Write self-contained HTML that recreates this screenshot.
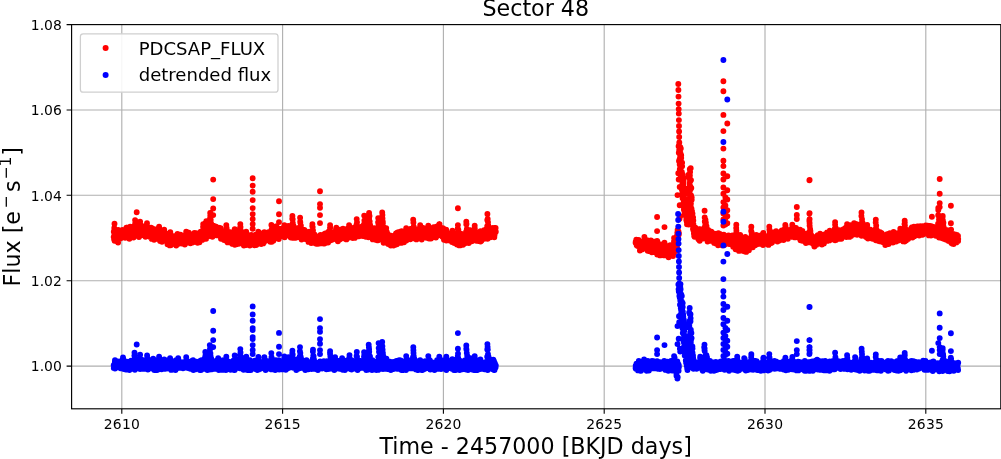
<!DOCTYPE html>
<html lang="en"><head><meta charset="utf-8"><title>Sector 48</title>
<style>html,body{margin:0;padding:0;background:#fff}body{width:1001px;height:459px;overflow:hidden}</style></head>
<body>
<svg width="1001" height="459" viewBox="0 0 1001 459" style="display:block;font-family:'DejaVu Sans','Liberation Sans',sans-serif">
<rect width="1001" height="459" fill="#fff"/>
<clipPath id="c"><rect x="71.6" y="24.6" width="929.1999999999999" height="384.2"/></clipPath>
<path d="M121.8 24.6V408.8M282.6 24.6V408.8M443.4 24.6V408.8M604.2 24.6V408.8M765.0 24.6V408.8M925.8 24.6V408.8M71.6 366.1H1000.8M71.6 280.7H1000.8M71.6 195.3H1000.8M71.6 110.0H1000.8" stroke="#b0b0b0" stroke-width="1.13" fill="none"/>
<g clip-path="url(#c)" fill="none" stroke-linecap="round" stroke-width="5.9">
<path stroke="#f00" d="M113.7 237.0h0M113.8 231.8h0M114.1 237.2h0M114.1 239.2h0M114.2 230.5h0M114.3 228.0h0M114.4 234.4h0M114.5 223.7h0M114.5 240.1h0M114.6 240.7h0M114.9 229.2h0M114.9 236.3h0M115.0 231.8h0M115.0 238.6h0M115.2 235.5h0M115.3 240.3h0M115.8 233.9h0M115.8 238.6h0M116.0 236.4h0M116.1 236.7h0M116.4 234.4h0M116.4 237.3h0M116.6 238.6h0M116.7 237.3h0M117.1 234.9h0M117.2 241.6h0M117.3 232.9h0M117.6 236.5h0M117.6 239.9h0M117.7 232.6h0M118.0 238.8h0M118.1 242.6h0M118.2 229.9h0M118.3 239.5h0M118.4 231.9h0M118.6 234.3h0M118.9 233.6h0M119.1 238.6h0M119.3 236.5h0M119.5 238.2h0M119.6 237.1h0M119.6 234.4h0M120.0 237.0h0M120.0 233.8h0M120.4 238.4h0M120.5 231.4h0M120.7 236.2h0M120.8 235.0h0M121.1 232.4h0M121.2 235.4h0M121.3 234.9h0M121.6 233.1h0M121.9 230.1h0M122.0 235.5h0M122.3 237.3h0M122.4 230.0h0M122.6 233.4h0M123.0 233.3h0M123.1 236.7h0M123.2 233.1h0M123.4 235.4h0M123.8 232.0h0M124.2 234.6h0M124.4 231.1h0M124.6 235.2h0M124.7 234.0h0M125.0 233.8h0M125.1 237.8h0M125.6 236.0h0M125.8 233.9h0M126.0 233.0h0M126.2 237.3h0M126.4 227.7h0M126.6 235.0h0M126.7 232.6h0M127.0 235.1h0M127.1 227.6h0M127.4 232.9h0M127.5 229.9h0M127.8 234.5h0M127.9 232.1h0M128.0 235.2h0M128.2 228.3h0M128.3 232.9h0M128.5 235.3h0M128.6 236.5h0M128.9 236.8h0M129.1 232.7h0M129.4 238.7h0M129.5 238.4h0M129.7 231.8h0M129.8 234.2h0M129.9 234.2h0M130.1 229.2h0M130.2 231.6h0M130.2 226.7h0M130.5 233.0h0M130.6 232.2h0M130.6 228.9h0M131.0 235.0h0M131.1 230.7h0M131.3 234.5h0M131.8 227.9h0M131.9 233.9h0M131.9 230.3h0M132.0 233.0h0M132.1 234.6h0M132.3 232.5h0M132.5 230.1h0M132.6 234.2h0M132.7 234.0h0M133.0 230.2h0M133.1 229.0h0M133.3 233.3h0M133.5 237.5h0M133.7 233.8h0M133.8 235.1h0M133.9 229.3h0M134.2 230.2h0M134.4 225.7h0M134.5 231.9h0M134.9 228.3h0M134.9 232.2h0M135.1 220.1h0M135.3 222.8h0M135.3 235.4h0M135.5 223.2h0M135.6 233.2h0M135.7 225.6h0M135.7 229.3h0M136.0 233.9h0M136.1 228.3h0M136.2 230.7h0M136.6 231.3h0M136.6 234.4h0M136.7 212.3h0M136.9 228.2h0M137.1 233.6h0M137.3 228.9h0M137.4 231.6h0M137.6 233.6h0M137.8 233.3h0M137.8 230.3h0M138.0 227.8h0M138.1 228.0h0M138.2 232.1h0M138.5 233.4h0M138.9 231.1h0M139.0 237.0h0M139.2 233.6h0M139.3 232.5h0M139.6 225.5h0M139.7 231.9h0M139.8 234.2h0M139.9 227.2h0M140.0 234.4h0M140.1 221.7h0M140.4 228.0h0M140.5 224.8h0M140.7 230.8h0M140.8 234.0h0M140.9 228.9h0M141.1 226.5h0M141.2 232.7h0M141.2 231.4h0M141.5 229.2h0M141.9 231.6h0M141.9 233.1h0M142.0 233.9h0M142.4 228.9h0M142.4 231.2h0M142.5 231.9h0M142.7 227.9h0M142.9 235.0h0M143.2 230.7h0M143.3 235.2h0M143.5 234.2h0M143.6 234.7h0M143.7 228.8h0M143.9 231.7h0M144.1 232.4h0M144.3 226.2h0M144.5 231.9h0M144.7 234.7h0M144.8 231.4h0M145.2 229.4h0M145.3 233.7h0M145.5 236.8h0M145.9 236.4h0M146.0 228.8h0M146.7 229.7h0M146.7 232.4h0M146.9 226.6h0M147.0 233.5h0M147.0 223.2h0M147.1 234.4h0M147.4 230.0h0M147.4 226.6h0M147.6 234.0h0M147.7 229.5h0M147.9 233.6h0M148.0 229.1h0M148.2 231.6h0M148.3 232.9h0M148.6 235.4h0M149.0 235.6h0M149.0 231.9h0M149.1 229.0h0M149.3 231.3h0M149.4 235.8h0M149.6 233.9h0M149.6 235.7h0M149.7 233.5h0M150.0 229.7h0M150.2 237.0h0M150.4 234.4h0M150.6 229.0h0M150.7 235.5h0M151.1 227.6h0M151.2 230.0h0M151.4 235.7h0M151.5 229.8h0M151.8 238.9h0M152.1 230.0h0M152.2 232.5h0M152.3 234.1h0M152.5 228.4h0M152.6 231.9h0M152.9 234.7h0M153.0 228.9h0M153.1 233.6h0M153.4 236.6h0M153.5 234.6h0M153.7 236.5h0M153.9 231.7h0M154.1 239.8h0M154.2 235.6h0M154.5 233.0h0M154.6 238.0h0M154.7 234.3h0M155.3 230.1h0M155.4 232.7h0M155.5 238.6h0M155.7 234.8h0M155.9 232.0h0M156.2 233.2h0M156.5 238.0h0M156.7 238.7h0M157.0 233.9h0M157.3 228.9h0M157.4 235.0h0M157.6 229.9h0M157.7 234.6h0M157.8 232.3h0M158.1 237.6h0M158.2 230.5h0M158.4 236.5h0M158.5 234.6h0M158.9 237.8h0M158.9 231.6h0M159.0 237.2h0M159.1 226.7h0M159.2 234.6h0M159.4 229.2h0M159.6 237.4h0M159.6 230.2h0M159.7 235.4h0M160.0 232.6h0M160.1 241.0h0M160.2 232.3h0M160.4 236.1h0M160.5 238.6h0M160.6 241.2h0M160.8 236.2h0M161.0 232.4h0M161.5 237.2h0M161.6 232.7h0M161.6 235.1h0M161.8 238.6h0M162.0 241.7h0M162.1 235.0h0M162.2 230.7h0M162.4 241.3h0M162.5 237.7h0M162.6 240.6h0M162.8 234.4h0M163.0 240.3h0M163.2 234.3h0M163.6 238.9h0M163.7 239.4h0M163.9 234.7h0M163.9 234.8h0M164.0 239.2h0M164.2 229.6h0M164.4 237.4h0M164.4 231.9h0M164.5 239.5h0M164.7 236.9h0M164.7 233.7h0M165.1 233.7h0M165.3 238.2h0M165.4 236.0h0M165.7 236.8h0M165.8 239.5h0M166.1 234.1h0M166.1 239.7h0M166.2 235.6h0M166.3 239.3h0M166.7 234.3h0M166.8 236.9h0M166.9 241.3h0M167.3 239.2h0M167.5 244.3h0M167.7 236.2h0M168.0 233.6h0M168.1 239.9h0M168.3 239.8h0M168.5 240.1h0M168.7 240.6h0M168.8 237.2h0M169.1 241.5h0M169.2 235.6h0M169.4 239.1h0M169.6 234.9h0M169.8 245.4h0M169.8 239.3h0M169.9 242.5h0M170.0 244.7h0M170.2 236.1h0M170.3 239.7h0M170.3 232.3h0M170.4 242.9h0M170.6 238.2h0M170.7 245.3h0M170.9 235.3h0M171.0 241.2h0M171.2 235.6h0M171.5 239.9h0M171.5 238.0h0M171.7 236.5h0M171.9 242.3h0M172.1 240.1h0M172.3 237.2h0M172.4 243.2h0M172.5 240.0h0M172.7 238.0h0M173.2 240.5h0M173.4 240.7h0M173.6 237.5h0M173.8 243.1h0M173.9 239.4h0M174.0 236.3h0M174.2 242.7h0M174.4 240.2h0M174.6 237.0h0M174.7 242.1h0M175.0 237.1h0M175.1 239.7h0M175.3 242.3h0M175.5 240.2h0M175.7 237.5h0M175.8 242.3h0M176.2 245.6h0M176.3 240.5h0M176.5 237.2h0M176.6 236.2h0M177.0 240.6h0M177.1 243.3h0M177.3 239.9h0M177.5 234.0h0M177.6 237.2h0M177.7 237.0h0M178.1 242.9h0M178.1 240.5h0M178.5 240.1h0M178.7 237.7h0M178.7 243.7h0M179.0 236.7h0M179.1 242.4h0M179.2 239.4h0M179.3 242.5h0M179.4 242.6h0M179.5 241.8h0M179.8 236.9h0M180.1 238.8h0M180.3 242.9h0M180.5 234.8h0M180.9 237.6h0M181.2 240.2h0M181.3 237.3h0M181.4 242.3h0M181.6 238.6h0M181.7 241.3h0M181.8 243.6h0M182.1 238.5h0M182.5 241.4h0M182.6 236.3h0M183.0 242.0h0M183.2 239.8h0M183.3 238.9h0M183.4 235.5h0M183.8 236.3h0M184.0 241.6h0M184.2 239.5h0M184.6 239.0h0M184.8 244.6h0M185.2 238.1h0M185.3 241.6h0M185.4 242.1h0M185.6 242.0h0M185.7 239.7h0M185.8 236.7h0M186.1 234.1h0M186.1 237.9h0M186.2 231.7h0M186.2 240.6h0M186.6 234.1h0M186.7 240.6h0M186.8 236.9h0M186.8 239.2h0M187.2 237.0h0M187.2 242.6h0M187.3 239.9h0M187.6 234.8h0M187.7 238.9h0M188.0 237.4h0M188.1 239.0h0M188.1 236.6h0M188.3 241.8h0M188.7 242.1h0M188.8 232.7h0M188.9 237.1h0M189.2 242.5h0M189.5 238.1h0M189.7 240.3h0M190.0 238.6h0M190.1 240.7h0M190.4 243.3h0M190.5 235.4h0M190.8 240.2h0M190.9 240.3h0M191.1 236.8h0M191.2 241.5h0M191.5 242.5h0M191.6 237.4h0M191.7 241.2h0M192.1 240.0h0M192.3 236.9h0M192.6 242.5h0M192.7 235.4h0M192.8 239.3h0M193.1 241.7h0M193.4 235.2h0M193.5 240.6h0M193.6 236.3h0M193.8 237.7h0M194.0 234.0h0M194.2 236.0h0M194.4 233.0h0M194.6 241.2h0M194.8 241.7h0M195.0 240.4h0M195.1 236.0h0M195.4 236.2h0M195.8 238.3h0M195.9 238.4h0M196.2 235.6h0M196.3 233.2h0M196.7 238.8h0M196.8 235.5h0M197.0 237.8h0M197.1 234.6h0M197.2 238.0h0M197.6 242.7h0M197.8 239.1h0M197.9 236.7h0M198.0 237.7h0M198.3 236.8h0M198.7 236.8h0M198.9 239.4h0M199.0 239.3h0M199.1 241.2h0M199.4 237.8h0M199.5 242.3h0M199.7 233.0h0M199.8 237.1h0M200.1 238.2h0M200.3 235.5h0M200.6 235.1h0M200.7 231.6h0M200.9 238.4h0M201.1 233.7h0M201.3 239.8h0M201.4 236.2h0M201.5 233.7h0M201.7 237.4h0M201.9 231.2h0M202.1 236.3h0M202.2 239.9h0M202.5 234.9h0M202.6 237.8h0M202.9 238.2h0M203.0 231.6h0M203.0 235.3h0M203.1 226.7h0M203.1 239.2h0M203.2 224.1h0M203.5 226.4h0M203.5 236.6h0M203.7 230.0h0M203.7 234.7h0M203.9 232.3h0M204.1 231.2h0M204.2 234.0h0M204.5 236.0h0M204.8 229.3h0M204.9 233.1h0M205.1 236.7h0M205.4 235.9h0M205.6 233.6h0M205.7 231.0h0M205.8 234.2h0M205.9 231.9h0M206.0 228.9h0M206.1 238.7h0M206.2 222.1h0M206.2 236.8h0M206.3 221.2h0M206.5 232.9h0M206.5 224.6h0M206.7 229.1h0M206.8 233.4h0M206.9 227.2h0M207.1 230.5h0M207.2 234.2h0M207.7 227.9h0M207.7 232.1h0M207.8 236.5h0M208.1 235.7h0M208.1 233.4h0M208.4 230.4h0M208.5 228.3h0M208.5 231.8h0M208.6 233.1h0M209.1 230.7h0M209.2 235.8h0M209.4 234.2h0M209.7 233.2h0M209.8 228.6h0M209.9 232.0h0M210.0 223.3h0M210.1 218.2h0M210.2 213.0h0M210.3 232.8h0M210.3 215.8h0M210.5 232.0h0M210.7 233.1h0M210.7 219.7h0M210.9 222.9h0M211.1 229.3h0M211.2 231.8h0M211.2 223.6h0M211.3 230.4h0M211.3 225.9h0M211.7 228.6h0M211.9 233.3h0M212.0 225.7h0M212.1 232.2h0M212.2 228.5h0M212.4 236.7h0M212.5 233.5h0M212.6 227.7h0M212.8 230.4h0M213.2 231.6h0M213.2 179.6h0M213.2 199.1h0M213.2 215.1h0M213.2 208.5h0M213.3 233.3h0M213.4 229.2h0M213.5 230.6h0M213.6 225.7h0M213.6 228.1h0M213.9 232.4h0M214.1 231.1h0M214.3 234.5h0M214.7 234.7h0M214.8 231.8h0M214.9 228.9h0M215.1 231.7h0M215.2 228.2h0M215.3 233.7h0M215.6 226.4h0M215.8 234.1h0M216.0 229.6h0M216.4 230.8h0M216.7 233.6h0M216.8 229.9h0M217.1 235.4h0M217.6 233.4h0M217.8 229.0h0M218.0 229.4h0M218.2 235.3h0M218.3 234.1h0M218.4 231.9h0M218.6 234.1h0M218.7 227.8h0M219.0 232.2h0M219.1 234.9h0M219.2 227.9h0M219.8 232.4h0M219.9 229.4h0M220.0 235.9h0M220.3 233.4h0M220.4 229.8h0M220.6 230.9h0M220.7 228.3h0M220.8 236.6h0M221.0 238.7h0M221.2 234.1h0M221.4 238.4h0M221.5 231.8h0M221.7 234.2h0M221.8 231.9h0M222.2 236.7h0M222.3 236.6h0M222.5 231.5h0M222.7 234.9h0M223.0 234.3h0M223.3 236.8h0M223.5 235.0h0M223.8 232.2h0M223.9 237.9h0M224.1 240.0h0M224.2 235.0h0M224.5 239.8h0M224.6 234.3h0M225.0 238.5h0M225.1 239.6h0M225.3 235.1h0M225.4 232.6h0M225.5 236.7h0M225.7 239.8h0M226.0 233.0h0M226.1 232.8h0M226.2 238.6h0M226.3 225.1h0M226.3 236.3h0M226.6 227.9h0M226.6 237.5h0M226.7 229.1h0M226.8 232.1h0M226.9 235.0h0M227.1 238.9h0M227.3 241.9h0M227.4 232.0h0M227.5 234.6h0M227.7 242.4h0M227.8 240.5h0M228.0 236.0h0M228.2 233.4h0M228.3 237.0h0M228.4 241.7h0M228.6 241.9h0M228.7 234.5h0M229.0 236.7h0M229.0 239.0h0M229.2 234.3h0M229.4 240.2h0M229.8 235.7h0M229.9 240.0h0M230.1 234.7h0M230.2 237.1h0M230.3 232.1h0M230.4 241.0h0M230.6 241.4h0M230.7 234.8h0M230.8 240.2h0M230.8 237.6h0M231.1 240.1h0M231.2 239.1h0M231.5 236.1h0M231.7 239.1h0M231.8 243.3h0M232.0 236.1h0M232.2 236.5h0M232.2 233.7h0M232.5 243.9h0M232.6 242.6h0M232.9 240.2h0M233.0 239.8h0M233.2 234.2h0M233.3 241.5h0M233.5 238.6h0M233.6 234.4h0M233.7 241.1h0M233.9 241.7h0M234.0 243.2h0M234.3 239.3h0M234.3 239.6h0M234.5 236.8h0M234.6 233.0h0M234.7 229.1h0M234.8 244.7h0M234.9 229.7h0M234.9 239.3h0M235.0 234.0h0M235.2 238.9h0M235.4 236.5h0M235.5 235.3h0M235.6 243.6h0M235.7 241.1h0M235.9 238.1h0M236.0 239.6h0M236.1 242.6h0M236.2 237.1h0M236.4 244.3h0M236.5 237.5h0M236.6 240.3h0M236.7 240.7h0M237.1 238.8h0M237.2 241.8h0M237.3 243.0h0M237.5 235.0h0M237.9 243.0h0M238.1 240.2h0M238.3 238.3h0M238.4 243.7h0M238.7 243.8h0M238.8 240.3h0M238.9 240.8h0M239.2 236.7h0M239.5 239.6h0M239.6 243.4h0M239.8 236.6h0M239.9 236.7h0M239.9 240.0h0M240.0 242.7h0M240.1 231.7h0M240.2 227.4h0M240.3 224.1h0M240.4 234.7h0M240.5 227.0h0M240.6 237.6h0M240.7 241.4h0M240.8 242.2h0M240.9 230.8h0M241.0 235.2h0M241.0 232.1h0M241.1 240.7h0M241.4 238.1h0M241.5 241.3h0M241.5 235.8h0M241.9 241.4h0M241.9 238.9h0M242.1 239.3h0M242.2 236.7h0M242.3 242.0h0M242.8 239.9h0M243.0 236.6h0M243.1 240.1h0M243.4 243.6h0M243.5 237.4h0M243.6 242.9h0M243.9 245.6h0M244.0 238.3h0M244.2 241.3h0M244.3 238.5h0M244.7 242.2h0M244.8 243.6h0M245.1 238.2h0M245.4 242.7h0M245.5 241.5h0M245.9 240.1h0M246.1 237.3h0M246.2 245.1h0M246.2 231.8h0M246.5 238.4h0M246.5 233.6h0M246.6 235.9h0M246.9 240.8h0M247.0 241.6h0M247.1 236.2h0M247.4 238.8h0M247.5 237.4h0M247.7 234.9h0M247.9 242.6h0M248.0 240.8h0M248.1 236.6h0M248.2 243.9h0M248.4 239.0h0M248.6 240.0h0M248.7 244.8h0M248.9 237.0h0M249.0 242.5h0M249.5 237.6h0M249.7 244.1h0M249.8 245.6h0M249.9 236.3h0M250.2 239.5h0M250.3 237.5h0M250.5 242.6h0M250.6 240.5h0M251.2 239.9h0M251.3 235.0h0M251.4 242.0h0M251.6 238.7h0M251.7 242.5h0M252.0 241.4h0M252.1 240.9h0M252.2 238.2h0M252.5 239.0h0M252.7 228.7h0M252.7 208.1h0M252.7 224.1h0M252.7 178.2h0M252.7 214.1h0M252.7 191.7h0M252.7 200.1h0M252.7 219.1h0M252.7 185.6h0M252.8 241.9h0M253.0 243.2h0M253.3 236.9h0M253.6 238.2h0M253.7 243.3h0M254.0 240.7h0M254.1 239.5h0M254.4 236.6h0M254.5 245.3h0M254.8 242.2h0M254.9 242.6h0M255.2 239.2h0M255.3 237.1h0M255.4 239.3h0M255.7 234.8h0M256.0 236.3h0M256.1 238.8h0M256.2 245.0h0M256.4 243.6h0M256.5 235.6h0M256.7 239.7h0M256.9 243.1h0M257.1 244.2h0M257.3 237.8h0M257.6 240.3h0M257.7 234.5h0M257.9 239.8h0M258.1 237.0h0M258.1 243.1h0M258.2 234.1h0M258.3 231.7h0M258.4 239.6h0M258.5 241.0h0M258.7 238.5h0M258.8 232.2h0M258.9 235.7h0M259.1 234.4h0M259.3 241.5h0M259.4 238.0h0M259.5 240.8h0M259.6 241.7h0M259.7 236.0h0M260.1 238.3h0M260.3 235.9h0M260.4 238.9h0M260.5 238.6h0M260.9 236.0h0M261.1 240.1h0M261.2 244.0h0M261.3 239.9h0M261.5 238.6h0M261.6 235.4h0M261.9 240.5h0M262.1 238.2h0M262.3 234.1h0M262.4 236.0h0M262.6 239.8h0M262.8 240.9h0M263.0 239.1h0M263.1 236.3h0M263.2 243.4h0M263.4 233.1h0M263.5 237.7h0M263.6 235.0h0M263.9 240.1h0M264.0 242.2h0M264.3 238.3h0M264.3 232.1h0M264.5 235.0h0M264.6 234.6h0M264.8 236.9h0M264.8 240.6h0M265.0 239.4h0M265.3 239.2h0M265.4 240.0h0M265.6 236.1h0M265.9 232.7h0M266.0 238.6h0M266.0 236.1h0M266.1 239.1h0M266.3 238.1h0M266.6 235.1h0M266.7 239.8h0M267.0 239.4h0M267.1 239.0h0M267.2 236.5h0M267.6 240.3h0M267.8 237.2h0M267.9 235.2h0M268.0 240.4h0M268.2 240.2h0M268.5 232.1h0M268.6 235.5h0M268.7 240.1h0M269.0 236.1h0M269.1 240.1h0M269.5 235.5h0M269.7 238.1h0M269.9 238.9h0M270.1 232.7h0M270.2 240.2h0M270.3 241.8h0M270.6 236.1h0M270.7 240.1h0M270.9 240.2h0M271.1 233.4h0M271.1 236.8h0M271.3 237.4h0M271.4 225.0h0M271.4 234.6h0M271.7 229.0h0M271.7 239.0h0M271.8 228.9h0M271.8 241.8h0M271.9 232.0h0M272.1 238.0h0M272.3 234.8h0M272.5 232.0h0M272.5 237.8h0M272.9 234.8h0M273.0 237.7h0M273.1 232.4h0M273.3 240.7h0M273.4 238.7h0M273.5 235.5h0M273.7 232.4h0M273.8 238.7h0M274.1 238.6h0M274.2 238.9h0M274.3 234.9h0M274.4 232.2h0M274.5 232.8h0M274.6 235.6h0M275.0 234.2h0M275.3 235.2h0M275.4 231.7h0M275.6 237.0h0M275.8 232.4h0M276.1 234.7h0M276.1 228.6h0M276.2 233.7h0M276.4 226.1h0M276.5 237.5h0M276.7 228.6h0M276.9 234.5h0M277.2 234.0h0M277.3 232.6h0M277.4 229.6h0M277.5 234.8h0M278.0 237.4h0M278.1 237.7h0M278.1 231.4h0M278.2 228.6h0M278.3 233.9h0M278.4 238.3h0M278.5 230.4h0M278.8 239.0h0M278.8 232.7h0M278.9 237.3h0M279.0 201.3h0M279.0 222.1h0M279.0 214.3h0M279.2 230.6h0M279.3 233.4h0M279.4 234.4h0M279.7 234.0h0M279.8 229.7h0M280.0 236.5h0M280.3 230.8h0M280.4 236.4h0M280.5 235.0h0M280.7 236.5h0M280.8 229.3h0M281.2 228.6h0M281.3 232.9h0M281.6 232.0h0M281.7 232.3h0M281.9 228.7h0M282.1 235.9h0M282.3 229.1h0M282.5 232.3h0M282.9 231.2h0M283.2 228.0h0M283.3 234.5h0M283.5 229.4h0M283.6 234.2h0M283.9 233.6h0M284.2 230.3h0M284.3 233.0h0M284.3 226.9h0M284.4 225.1h0M284.4 231.4h0M284.7 237.3h0M284.8 236.2h0M284.8 227.8h0M285.0 228.4h0M285.2 230.8h0M285.2 231.6h0M285.8 234.5h0M285.8 232.8h0M285.9 228.9h0M286.0 234.9h0M286.2 235.0h0M286.3 226.7h0M286.4 230.9h0M286.6 231.0h0M286.7 233.6h0M286.8 228.1h0M287.4 231.7h0M287.5 227.8h0M287.8 229.4h0M288.0 235.3h0M288.2 232.1h0M288.3 226.0h0M288.3 230.7h0M288.7 228.3h0M288.7 232.2h0M288.8 234.5h0M289.0 231.0h0M289.2 228.7h0M289.4 233.3h0M289.5 234.9h0M289.8 230.6h0M289.9 231.1h0M290.0 228.5h0M290.3 234.6h0M290.6 232.1h0M290.6 227.9h0M290.7 236.8h0M290.8 237.6h0M291.0 228.1h0M291.1 230.7h0M291.2 233.4h0M291.4 235.0h0M291.5 227.2h0M291.7 236.0h0M291.9 233.5h0M292.2 224.4h0M292.2 227.1h0M292.3 218.8h0M292.3 232.3h0M292.4 216.0h0M292.5 229.9h0M292.6 232.9h0M292.7 219.2h0M292.8 222.9h0M292.9 229.0h0M293.0 226.3h0M293.0 237.3h0M293.1 237.9h0M293.3 228.4h0M293.4 225.7h0M293.4 232.9h0M293.7 234.3h0M293.8 228.2h0M293.9 233.7h0M294.1 231.1h0M294.2 234.2h0M294.3 230.4h0M294.3 228.1h0M294.6 233.3h0M294.7 233.9h0M295.0 229.8h0M295.0 236.4h0M295.1 236.2h0M295.3 232.5h0M295.4 232.8h0M295.5 229.9h0M295.8 237.7h0M295.9 230.8h0M296.2 237.5h0M296.3 235.3h0M296.5 236.3h0M296.6 230.9h0M297.0 237.3h0M297.2 231.4h0M297.4 228.1h0M297.4 233.7h0M297.6 236.7h0M297.8 235.9h0M298.0 230.4h0M298.1 233.4h0M298.2 234.8h0M298.4 232.6h0M298.6 230.2h0M298.8 234.7h0M298.9 230.2h0M299.1 233.5h0M299.3 236.2h0M299.3 235.3h0M299.4 228.1h0M299.5 232.8h0M299.8 227.6h0M300.1 217.7h0M300.1 236.1h0M300.2 221.6h0M300.2 233.6h0M300.3 222.4h0M300.4 232.8h0M300.6 226.2h0M300.6 234.9h0M300.7 229.3h0M300.9 225.8h0M300.9 235.1h0M301.0 230.7h0M301.2 237.8h0M301.4 232.3h0M301.6 239.6h0M301.8 229.2h0M302.0 234.1h0M302.1 230.3h0M302.2 237.5h0M302.8 237.5h0M302.9 230.9h0M303.0 234.4h0M303.3 234.9h0M303.5 238.0h0M303.6 232.0h0M303.7 238.3h0M303.9 237.2h0M304.0 232.3h0M304.1 234.8h0M304.4 229.9h0M304.5 235.4h0M304.7 233.9h0M304.8 234.0h0M304.9 230.7h0M305.1 236.3h0M305.2 239.0h0M305.3 238.9h0M305.6 236.8h0M305.9 232.4h0M306.1 235.5h0M306.3 236.1h0M306.5 235.8h0M306.7 238.3h0M306.8 233.0h0M306.9 237.7h0M307.1 236.2h0M307.6 235.8h0M307.7 239.1h0M307.9 239.4h0M308.1 234.9h0M308.4 237.5h0M308.5 241.9h0M308.8 238.5h0M308.9 240.1h0M309.1 234.1h0M309.2 238.9h0M309.4 231.7h0M309.5 236.2h0M309.9 231.9h0M310.2 238.8h0M310.6 237.5h0M310.7 240.5h0M310.8 239.4h0M311.0 236.7h0M311.2 243.1h0M311.4 237.0h0M311.8 233.5h0M311.9 235.2h0M312.0 241.8h0M312.1 239.1h0M312.2 231.6h0M312.3 226.1h0M312.4 224.1h0M312.4 240.8h0M312.6 237.2h0M312.7 227.1h0M313.0 242.5h0M313.0 230.5h0M313.2 235.7h0M313.3 233.4h0M313.5 242.8h0M313.6 239.0h0M313.7 234.4h0M314.3 237.8h0M314.4 234.4h0M314.4 237.0h0M314.8 236.6h0M314.9 241.4h0M315.1 239.5h0M315.3 236.2h0M315.4 240.1h0M315.7 242.6h0M315.8 237.1h0M316.1 242.4h0M316.2 240.4h0M316.3 243.7h0M316.6 243.1h0M316.7 240.4h0M316.9 237.4h0M317.1 239.8h0M317.3 242.0h0M317.5 241.9h0M317.7 238.8h0M318.1 243.8h0M318.2 237.1h0M318.3 241.0h0M318.5 240.8h0M318.7 240.1h0M319.0 239.0h0M319.3 243.6h0M319.4 236.0h0M319.5 243.5h0M319.7 236.7h0M320.0 223.1h0M320.0 207.7h0M320.0 191.3h0M320.0 215.1h0M320.0 204.1h0M320.1 241.5h0M320.2 239.2h0M320.3 241.1h0M320.5 234.9h0M320.8 241.7h0M320.9 239.5h0M321.0 236.9h0M321.3 243.4h0M321.4 241.7h0M321.7 237.0h0M321.8 239.1h0M322.2 236.6h0M322.5 242.2h0M322.6 235.8h0M322.8 240.5h0M323.0 237.2h0M323.2 240.4h0M323.6 243.6h0M323.7 240.1h0M323.8 237.5h0M324.1 234.2h0M324.2 238.4h0M324.4 236.6h0M324.5 243.5h0M324.9 235.6h0M325.2 236.4h0M325.3 233.4h0M325.4 240.5h0M325.6 238.9h0M325.7 241.9h0M326.0 237.7h0M326.1 240.0h0M326.2 237.6h0M326.4 240.4h0M326.8 233.1h0M326.9 236.5h0M327.1 238.3h0M327.3 237.3h0M327.5 240.3h0M327.6 240.3h0M327.7 234.2h0M327.9 237.5h0M328.1 242.5h0M328.4 236.1h0M328.7 240.2h0M328.8 231.4h0M328.9 239.6h0M329.1 240.0h0M329.2 236.6h0M329.7 238.6h0M329.7 232.9h0M329.9 236.5h0M330.0 227.8h0M330.1 225.1h0M330.2 227.5h0M330.3 233.4h0M330.4 236.9h0M330.5 238.2h0M330.8 231.7h0M330.8 240.3h0M330.9 234.1h0M331.1 237.6h0M331.3 232.5h0M331.3 236.9h0M331.5 235.2h0M331.7 236.2h0M331.9 233.1h0M332.0 238.9h0M332.3 235.7h0M332.4 238.2h0M332.7 239.5h0M332.8 235.7h0M333.1 237.6h0M333.1 233.2h0M333.4 236.5h0M333.6 233.6h0M333.8 237.9h0M334.0 233.1h0M334.2 234.8h0M334.4 237.5h0M334.7 234.2h0M334.8 238.5h0M335.0 237.6h0M335.4 233.3h0M335.9 233.5h0M335.9 236.7h0M336.0 229.2h0M336.0 236.5h0M336.3 227.7h0M336.3 236.6h0M336.4 235.6h0M336.5 232.7h0M336.6 230.3h0M336.7 230.4h0M336.8 232.8h0M336.8 238.4h0M337.1 236.4h0M337.2 234.3h0M337.4 236.5h0M337.6 231.7h0M337.8 232.1h0M337.9 237.3h0M337.9 241.2h0M338.0 234.7h0M338.3 234.3h0M338.6 237.1h0M338.9 234.3h0M339.3 239.3h0M339.4 239.4h0M339.5 237.0h0M339.7 239.4h0M339.8 233.9h0M339.9 233.2h0M340.1 229.6h0M340.2 237.2h0M340.3 236.1h0M340.5 232.0h0M340.9 235.5h0M341.0 237.4h0M341.1 236.5h0M341.4 233.9h0M341.5 237.3h0M341.7 232.1h0M341.8 235.6h0M342.1 238.2h0M342.2 231.0h0M342.3 236.0h0M342.5 234.1h0M342.7 236.8h0M342.9 235.1h0M343.0 228.8h0M343.3 231.8h0M343.4 235.8h0M343.8 234.3h0M344.1 231.9h0M344.2 237.2h0M344.4 232.7h0M344.5 235.1h0M344.6 238.4h0M344.9 234.6h0M345.3 236.3h0M345.7 234.3h0M345.8 232.6h0M346.0 229.3h0M346.4 239.4h0M346.5 232.5h0M346.6 230.6h0M347.0 234.7h0M347.3 234.7h0M347.4 231.9h0M347.8 233.4h0M348.0 229.7h0M348.1 234.2h0M348.4 237.7h0M348.5 232.5h0M348.7 235.4h0M348.8 230.6h0M349.1 225.1h0M349.2 228.0h0M349.2 233.2h0M349.3 227.6h0M349.3 234.9h0M349.7 232.1h0M349.8 227.8h0M350.0 234.0h0M350.1 235.7h0M350.3 231.6h0M350.4 230.1h0M350.8 233.0h0M350.8 235.3h0M351.1 234.7h0M351.2 231.2h0M351.3 234.6h0M351.5 235.7h0M351.6 235.5h0M351.7 232.7h0M351.9 229.9h0M352.1 229.5h0M352.3 233.6h0M352.7 232.1h0M352.8 238.1h0M353.3 233.8h0M353.5 228.3h0M353.6 230.7h0M353.7 232.7h0M353.9 237.4h0M354.0 230.3h0M354.3 231.4h0M354.4 227.4h0M354.7 237.9h0M354.8 233.9h0M354.9 230.1h0M355.2 233.3h0M355.3 229.5h0M355.5 232.4h0M355.8 231.9h0M356.2 232.8h0M356.3 230.1h0M356.4 235.6h0M356.5 229.0h0M356.6 224.5h0M356.7 233.0h0M356.7 219.1h0M356.8 236.6h0M357.0 235.4h0M357.0 222.2h0M357.4 229.6h0M357.4 226.3h0M357.5 232.7h0M357.6 228.8h0M357.8 234.6h0M357.9 232.6h0M358.2 233.6h0M358.2 232.0h0M358.5 228.8h0M358.8 231.9h0M359.0 236.2h0M359.0 229.3h0M359.1 235.7h0M359.2 234.2h0M359.5 233.6h0M359.6 230.7h0M359.9 230.9h0M360.0 233.7h0M360.3 228.0h0M360.4 232.1h0M360.6 234.5h0M360.8 229.8h0M361.2 233.5h0M361.5 230.6h0M361.7 233.4h0M361.8 226.7h0M362.1 233.0h0M362.2 226.4h0M362.3 234.8h0M362.7 234.1h0M362.9 236.0h0M363.0 231.2h0M363.1 232.1h0M363.5 227.8h0M363.7 234.2h0M363.8 231.1h0M363.9 224.5h0M363.9 234.7h0M364.1 228.1h0M364.2 215.6h0M364.2 228.7h0M364.3 231.3h0M364.4 220.4h0M364.5 233.4h0M364.7 221.5h0M364.9 229.2h0M365.0 235.5h0M365.1 224.7h0M365.1 232.0h0M365.3 232.2h0M365.4 227.0h0M365.5 230.7h0M365.8 236.7h0M366.1 226.1h0M366.2 228.9h0M366.3 230.3h0M366.3 225.5h0M366.5 227.9h0M366.7 234.0h0M367.1 227.1h0M367.1 236.3h0M367.3 232.4h0M367.4 230.1h0M367.4 235.7h0M367.5 230.2h0M367.8 233.0h0M368.0 235.5h0M368.4 229.5h0M368.5 237.2h0M368.8 233.0h0M368.9 231.3h0M368.9 223.0h0M369.1 218.3h0M369.1 213.0h0M369.3 232.5h0M369.4 228.6h0M369.5 216.0h0M369.6 237.0h0M369.7 221.4h0M370.0 230.0h0M370.1 234.4h0M370.1 225.0h0M370.3 226.3h0M370.4 232.1h0M370.5 236.8h0M370.6 235.2h0M370.7 228.6h0M370.8 233.1h0M370.8 227.8h0M370.9 230.4h0M371.2 234.7h0M371.6 235.2h0M371.6 229.6h0M371.7 233.1h0M371.8 237.6h0M371.9 228.6h0M372.1 231.2h0M372.4 235.1h0M372.5 231.1h0M372.8 239.4h0M372.9 229.0h0M373.0 236.0h0M373.2 233.7h0M373.3 238.0h0M373.6 235.1h0M373.9 231.4h0M374.0 237.5h0M374.1 230.5h0M374.1 228.1h0M374.3 236.7h0M374.5 233.2h0M374.6 232.1h0M374.7 237.5h0M375.1 234.9h0M375.2 237.2h0M375.3 234.8h0M375.4 232.5h0M375.6 239.8h0M375.8 234.2h0M375.9 236.9h0M376.1 236.6h0M376.2 237.5h0M376.3 234.1h0M376.4 237.8h0M376.8 239.8h0M377.1 240.2h0M377.2 235.4h0M377.3 233.2h0M377.5 235.7h0M377.8 238.0h0M377.9 232.4h0M377.9 229.9h0M378.1 222.3h0M378.1 240.2h0M378.2 218.1h0M378.4 237.1h0M378.5 224.4h0M378.5 238.3h0M378.8 230.3h0M379.0 227.3h0M379.2 237.5h0M379.4 234.8h0M379.4 232.2h0M379.8 238.0h0M379.8 230.9h0M379.9 236.3h0M380.0 233.5h0M380.1 232.8h0M380.2 237.0h0M380.5 235.7h0M380.8 233.0h0M380.8 235.8h0M381.1 238.1h0M381.2 233.8h0M381.2 236.8h0M381.4 230.9h0M381.6 236.6h0M381.8 239.2h0M381.8 237.2h0M381.9 227.8h0M382.0 233.9h0M382.1 219.8h0M382.2 212.4h0M382.3 234.1h0M382.4 214.9h0M382.4 238.5h0M382.5 218.4h0M382.7 237.5h0M382.8 221.6h0M382.9 223.1h0M383.1 240.0h0M383.2 236.8h0M383.3 226.8h0M383.4 235.5h0M383.6 228.8h0M383.6 242.8h0M383.8 240.3h0M383.8 231.4h0M384.0 231.0h0M384.2 237.3h0M384.4 234.0h0M384.8 232.1h0M384.9 240.5h0M384.9 235.7h0M385.0 242.3h0M385.2 233.1h0M385.4 236.8h0M385.5 241.1h0M385.7 234.0h0M385.8 239.7h0M386.0 237.0h0M386.1 241.2h0M386.1 230.1h0M386.2 228.1h0M386.2 242.8h0M386.2 230.8h0M386.2 234.9h0M386.3 242.6h0M386.5 239.3h0M386.7 240.1h0M386.8 234.7h0M386.9 242.8h0M386.9 232.2h0M387.3 234.8h0M387.4 240.9h0M387.7 239.6h0M388.1 236.4h0M388.2 244.0h0M388.2 238.9h0M388.5 235.5h0M388.6 238.0h0M388.7 241.0h0M388.9 241.2h0M389.1 237.7h0M389.3 240.4h0M389.4 240.7h0M389.9 238.4h0M390.1 235.4h0M390.3 239.3h0M390.5 242.2h0M390.6 238.1h0M390.8 245.5h0M391.2 242.4h0M391.4 244.3h0M391.7 242.1h0M391.8 239.9h0M392.4 241.9h0M392.5 236.2h0M392.6 239.0h0M392.8 239.5h0M393.0 241.6h0M393.3 241.1h0M393.4 236.7h0M393.6 245.6h0M393.8 243.1h0M394.2 239.2h0M394.5 235.7h0M394.6 238.7h0M394.8 245.0h0M394.9 241.2h0M395.0 238.0h0M395.6 242.4h0M395.7 240.3h0M395.8 237.7h0M396.0 233.5h0M396.1 243.0h0M396.2 241.6h0M396.4 238.7h0M396.8 236.9h0M396.9 244.3h0M397.1 232.7h0M397.2 237.6h0M397.5 239.6h0M397.7 237.5h0M397.9 238.8h0M398.1 234.5h0M398.2 232.1h0M398.2 232.6h0M398.3 239.3h0M398.4 235.9h0M398.7 240.6h0M398.8 241.3h0M398.9 233.7h0M398.9 240.6h0M399.1 236.3h0M399.6 239.5h0M399.6 236.8h0M399.7 240.9h0M400.0 240.8h0M400.3 239.5h0M400.4 236.2h0M400.4 234.7h0M400.7 241.2h0M400.8 241.0h0M400.9 231.4h0M401.1 242.9h0M401.2 241.4h0M401.3 235.3h0M401.5 238.9h0M401.6 239.4h0M401.7 231.2h0M401.9 236.6h0M402.1 236.4h0M402.3 233.4h0M402.6 238.1h0M402.7 237.8h0M403.0 242.4h0M403.1 234.0h0M403.2 235.0h0M403.4 237.9h0M403.8 235.1h0M404.0 242.2h0M404.4 233.4h0M404.6 236.8h0M404.7 237.7h0M404.8 234.1h0M405.1 237.1h0M405.4 234.0h0M405.5 237.8h0M405.6 239.2h0M406.0 234.0h0M406.2 228.1h0M406.3 230.4h0M406.3 240.5h0M406.4 236.5h0M406.5 230.4h0M406.7 236.4h0M406.8 232.9h0M406.8 238.2h0M407.4 231.7h0M407.5 235.0h0M407.5 237.1h0M407.8 236.0h0M407.9 237.7h0M408.0 233.2h0M408.1 235.2h0M408.3 237.3h0M408.5 232.5h0M408.7 234.0h0M408.9 236.6h0M409.3 238.3h0M409.7 234.7h0M409.8 233.8h0M409.9 231.0h0M410.2 237.4h0M410.3 239.3h0M410.5 233.2h0M410.7 235.8h0M410.9 235.2h0M411.1 228.7h0M411.3 233.2h0M411.8 232.4h0M411.9 234.7h0M412.2 230.5h0M412.3 234.9h0M412.5 233.8h0M412.7 236.4h0M413.0 228.3h0M413.0 233.2h0M413.2 219.7h0M413.3 234.3h0M413.4 222.4h0M413.4 230.4h0M413.5 228.1h0M413.7 226.6h0M413.7 237.0h0M413.9 232.4h0M414.1 229.4h0M414.1 234.7h0M414.2 236.0h0M414.4 228.7h0M414.6 232.0h0M414.6 238.6h0M414.9 231.5h0M415.0 234.4h0M415.3 232.2h0M415.6 234.8h0M415.7 229.6h0M415.8 231.3h0M416.0 235.5h0M416.2 233.7h0M416.4 239.4h0M416.6 231.8h0M416.9 237.1h0M417.0 232.6h0M417.2 229.6h0M417.6 233.1h0M417.7 229.8h0M417.8 237.5h0M418.4 235.7h0M418.5 233.0h0M418.8 231.4h0M419.0 235.8h0M419.2 236.2h0M419.3 232.4h0M419.4 229.8h0M419.6 235.9h0M420.0 233.0h0M420.0 230.6h0M420.1 236.1h0M420.2 226.0h0M420.2 225.1h0M420.3 234.6h0M420.4 233.0h0M420.6 227.9h0M420.8 236.6h0M421.0 229.3h0M421.2 234.0h0M421.4 231.9h0M421.5 234.2h0M421.7 239.6h0M422.3 232.5h0M422.4 234.5h0M422.5 236.0h0M422.8 234.5h0M422.8 232.1h0M422.9 228.9h0M423.2 234.6h0M423.3 237.4h0M423.5 228.1h0M423.6 235.8h0M423.7 228.2h0M424.0 233.0h0M424.1 236.0h0M424.3 228.7h0M424.4 235.7h0M424.8 232.2h0M424.9 235.2h0M425.2 234.1h0M425.6 231.8h0M425.8 234.8h0M426.0 231.3h0M426.2 235.4h0M426.4 237.7h0M426.6 233.6h0M426.8 232.2h0M427.0 236.3h0M427.1 237.5h0M427.6 228.9h0M427.8 236.4h0M427.9 236.9h0M428.0 232.9h0M428.2 228.8h0M428.3 225.7h0M428.4 231.4h0M428.7 227.7h0M428.8 235.4h0M428.8 230.5h0M429.0 238.6h0M429.1 233.1h0M429.1 230.6h0M429.2 235.5h0M429.4 237.2h0M429.6 232.1h0M429.8 234.5h0M429.9 236.5h0M430.2 236.6h0M430.3 231.4h0M430.3 234.3h0M430.8 238.0h0M431.0 238.5h0M431.1 230.6h0M431.2 231.1h0M431.7 235.3h0M431.8 237.1h0M431.9 230.5h0M432.2 234.3h0M432.5 233.5h0M432.6 228.6h0M432.7 233.0h0M432.9 231.7h0M433.0 233.1h0M433.1 229.2h0M433.7 227.1h0M433.9 233.2h0M434.1 231.2h0M434.5 236.1h0M434.6 230.7h0M434.9 233.9h0M435.1 232.5h0M435.3 233.1h0M435.5 228.8h0M435.8 234.1h0M435.9 237.6h0M436.1 229.1h0M436.2 232.8h0M436.3 226.6h0M436.5 231.4h0M436.7 232.1h0M436.9 228.6h0M437.1 235.9h0M437.3 232.2h0M437.6 232.3h0M437.7 229.8h0M437.8 230.7h0M438.1 231.7h0M438.4 233.2h0M438.5 228.3h0M438.8 234.1h0M438.9 230.7h0M438.9 233.4h0M439.0 231.4h0M439.3 224.1h0M439.4 229.1h0M439.5 224.1h0M439.6 232.1h0M439.8 229.8h0M439.9 227.2h0M440.0 232.3h0M440.1 235.0h0M440.2 227.5h0M440.4 234.8h0M440.4 230.7h0M440.8 230.1h0M440.9 234.7h0M441.0 233.2h0M441.2 234.2h0M441.3 232.6h0M441.6 229.6h0M441.7 233.2h0M442.0 230.5h0M442.1 235.2h0M442.2 233.0h0M442.4 230.2h0M442.5 236.8h0M442.6 236.8h0M442.8 236.7h0M442.9 228.2h0M443.0 230.8h0M443.5 235.5h0M443.6 235.5h0M443.7 232.6h0M444.0 239.7h0M444.1 234.8h0M444.3 237.4h0M444.5 229.1h0M444.7 233.3h0M444.9 236.4h0M445.1 237.2h0M445.3 232.7h0M445.9 234.2h0M446.0 238.1h0M446.2 229.7h0M446.3 240.5h0M446.4 234.9h0M446.5 232.1h0M446.5 239.1h0M446.6 232.3h0M446.7 234.7h0M446.8 237.5h0M447.1 238.4h0M447.3 232.8h0M447.4 235.6h0M447.6 237.6h0M447.7 238.1h0M448.0 238.7h0M448.2 233.7h0M448.5 233.6h0M448.5 239.7h0M448.7 236.7h0M449.0 239.8h0M449.1 236.1h0M449.2 240.3h0M449.4 239.4h0M449.8 236.1h0M449.9 238.7h0M450.0 234.8h0M450.2 238.5h0M450.4 240.8h0M450.7 240.6h0M450.8 235.6h0M451.0 238.1h0M451.2 237.8h0M451.4 235.4h0M451.5 240.8h0M452.0 239.3h0M452.0 242.1h0M452.1 234.8h0M452.2 240.3h0M452.4 230.8h0M452.4 236.9h0M452.6 233.5h0M452.7 235.7h0M453.0 240.7h0M453.1 240.6h0M453.4 236.3h0M453.6 239.1h0M453.6 240.6h0M453.8 239.8h0M453.9 236.2h0M454.2 239.3h0M454.3 243.1h0M454.5 237.9h0M454.6 233.5h0M455.0 235.3h0M455.3 242.3h0M455.4 239.9h0M455.5 238.1h0M455.9 240.3h0M456.1 242.7h0M456.3 238.4h0M456.5 241.5h0M456.6 238.9h0M456.7 235.8h0M457.0 244.5h0M457.1 238.8h0M457.3 240.4h0M457.4 236.3h0M457.7 239.1h0M457.7 234.7h0M457.8 240.5h0M457.8 228.4h0M457.9 225.1h0M457.9 208.3h0M458.2 241.9h0M458.4 229.9h0M458.5 237.3h0M458.5 232.4h0M458.6 242.6h0M458.7 241.3h0M459.0 236.8h0M459.2 234.5h0M459.3 245.4h0M459.3 236.4h0M459.7 239.6h0M459.8 236.2h0M459.9 245.4h0M460.0 238.6h0M460.2 241.0h0M460.5 242.0h0M460.7 236.7h0M460.8 239.1h0M460.9 233.8h0M460.9 242.0h0M461.2 237.3h0M461.3 240.1h0M461.4 234.5h0M461.7 236.7h0M461.8 239.5h0M462.0 239.9h0M462.1 240.5h0M462.4 238.6h0M462.5 236.3h0M462.8 237.7h0M462.9 242.3h0M463.0 244.7h0M463.2 235.4h0M463.3 239.1h0M464.0 238.5h0M464.1 241.3h0M464.4 237.8h0M464.5 243.4h0M464.6 240.6h0M464.9 241.1h0M465.0 241.3h0M465.2 238.7h0M465.3 241.8h0M465.4 235.1h0M465.7 239.4h0M466.0 242.9h0M466.1 238.8h0M466.1 231.6h0M466.2 241.4h0M466.3 224.3h0M466.3 221.7h0M466.5 237.8h0M466.5 223.9h0M466.8 241.1h0M466.9 228.9h0M467.2 242.4h0M467.2 230.5h0M467.3 238.0h0M467.5 233.0h0M467.6 238.4h0M467.7 236.5h0M467.7 232.7h0M468.1 237.2h0M468.1 234.8h0M468.3 239.3h0M468.7 236.9h0M468.8 243.0h0M469.1 239.6h0M469.2 235.3h0M469.5 240.8h0M469.6 238.3h0M469.9 236.3h0M470.1 233.3h0M470.1 239.6h0M470.1 239.3h0M470.3 230.1h0M470.4 238.1h0M470.5 232.6h0M470.7 240.7h0M470.9 235.0h0M471.1 237.7h0M471.2 239.2h0M471.3 232.7h0M471.6 236.4h0M471.6 241.3h0M472.0 239.0h0M472.3 236.1h0M472.4 241.0h0M472.5 238.6h0M472.6 235.9h0M473.0 240.1h0M473.1 238.5h0M473.2 231.8h0M473.5 235.3h0M473.6 239.2h0M473.8 240.1h0M474.0 235.9h0M474.2 238.2h0M474.4 235.7h0M474.4 239.9h0M474.5 232.9h0M474.7 236.3h0M474.7 225.7h0M474.8 228.4h0M475.1 239.8h0M475.2 231.3h0M475.5 233.7h0M475.5 239.5h0M475.6 239.4h0M475.9 236.3h0M476.0 233.9h0M476.0 239.0h0M476.4 238.2h0M476.6 233.7h0M476.8 236.4h0M476.9 236.0h0M477.1 240.9h0M477.2 232.9h0M477.3 239.1h0M477.5 239.3h0M477.8 237.3h0M477.9 234.1h0M478.0 239.7h0M478.2 235.2h0M478.3 241.1h0M478.6 238.7h0M478.7 238.4h0M478.9 234.9h0M479.1 239.0h0M479.3 235.0h0M479.4 238.1h0M479.8 236.4h0M480.1 239.2h0M480.2 233.7h0M480.5 231.2h0M480.6 241.5h0M480.9 238.6h0M481.1 234.4h0M481.4 240.8h0M481.7 233.0h0M481.9 236.9h0M482.2 232.8h0M482.3 235.5h0M482.5 237.4h0M482.6 233.4h0M482.7 239.2h0M483.3 234.2h0M483.4 237.6h0M483.5 231.5h0M483.7 234.7h0M484.0 235.9h0M484.1 230.2h0M484.2 236.4h0M484.4 233.2h0M484.5 237.0h0M484.6 233.7h0M484.8 238.6h0M485.3 233.4h0M485.4 230.8h0M485.6 234.8h0M485.7 229.9h0M485.8 234.0h0M486.0 232.9h0M486.2 232.0h0M486.6 234.4h0M486.8 237.6h0M487.0 232.8h0M487.0 235.7h0M487.2 226.1h0M487.3 219.9h0M487.3 235.8h0M487.4 214.0h0M487.4 233.3h0M487.6 238.8h0M487.7 218.9h0M487.7 230.1h0M488.0 222.3h0M488.0 234.4h0M488.1 231.9h0M488.2 225.2h0M488.4 235.1h0M488.8 227.4h0M488.8 234.6h0M488.9 232.2h0M489.0 228.8h0M489.3 234.8h0M489.4 231.5h0M489.4 237.3h0M489.9 236.2h0M490.0 232.2h0M490.0 229.8h0M490.1 230.4h0M490.4 237.3h0M490.4 232.9h0M490.6 232.0h0M490.7 229.2h0M490.8 236.7h0M490.8 234.5h0M491.2 234.6h0M491.3 230.9h0M491.5 235.2h0M491.9 231.2h0M492.0 228.9h0M492.1 231.6h0M492.4 235.0h0M492.5 229.5h0M492.7 235.1h0M492.8 233.9h0M492.9 227.9h0M493.3 230.3h0M493.5 231.3h0M493.6 236.8h0M493.9 228.7h0M494.0 229.4h0M494.3 237.3h0M494.5 235.2h0M494.7 227.9h0M494.8 230.3h0M495.1 230.4h0M495.3 232.4h0M495.6 228.0h0M495.8 231.8h0M635.6 242.7h0M635.7 241.6h0M635.9 242.5h0M636.1 243.2h0M636.3 239.6h0M636.5 242.4h0M636.7 245.2h0M637.1 241.2h0M637.2 244.6h0M637.6 243.2h0M637.7 246.0h0M638.1 242.2h0M638.4 245.1h0M638.6 239.9h0M638.7 242.8h0M639.0 245.6h0M639.5 244.6h0M639.6 241.8h0M639.9 250.5h0M640.0 242.9h0M640.2 247.1h0M640.4 246.9h0M640.6 244.3h0M640.7 246.7h0M641.0 247.7h0M641.1 241.5h0M641.2 245.3h0M641.4 248.2h0M641.5 247.9h0M641.8 242.7h0M641.9 249.5h0M642.0 243.6h0M642.3 246.1h0M642.6 242.2h0M642.7 245.7h0M643.0 243.8h0M643.4 247.4h0M643.6 242.1h0M643.8 246.6h0M644.0 248.6h0M644.1 243.3h0M644.4 237.0h0M644.5 240.2h0M644.6 247.0h0M644.6 237.9h0M644.7 244.4h0M644.9 243.7h0M645.0 241.0h0M645.3 241.1h0M645.5 244.0h0M645.6 244.4h0M645.8 247.9h0M645.9 241.5h0M646.0 244.9h0M646.3 246.3h0M646.7 246.2h0M646.8 242.6h0M647.0 240.3h0M647.1 247.6h0M647.3 245.8h0M647.4 244.9h0M647.7 250.7h0M648.2 243.1h0M648.3 249.3h0M648.5 251.0h0M648.7 246.8h0M648.9 249.7h0M649.0 243.8h0M649.3 247.4h0M649.5 247.5h0M649.8 240.7h0M649.9 246.0h0M650.1 244.4h0M650.2 249.2h0M650.5 242.3h0M650.6 247.4h0M650.8 244.3h0M650.9 240.4h0M651.0 251.5h0M651.2 248.5h0M651.3 245.0h0M651.6 250.6h0M651.7 247.9h0M651.8 252.3h0M652.1 243.9h0M652.2 246.5h0M652.4 249.8h0M652.5 248.5h0M652.8 244.8h0M652.9 248.0h0M653.2 252.0h0M653.3 243.5h0M653.4 245.2h0M653.6 247.9h0M654.0 248.5h0M654.1 245.0h0M654.2 241.8h0M654.4 251.0h0M654.8 249.6h0M654.9 249.2h0M655.0 245.5h0M655.2 250.8h0M655.3 247.4h0M655.7 250.7h0M655.8 250.9h0M656.1 248.2h0M656.3 253.0h0M656.5 245.3h0M656.7 248.5h0M656.9 247.8h0M657.0 244.5h0M657.1 250.8h0M657.1 241.0h0M657.1 217.0h0M657.1 231.1h0M657.2 254.6h0M657.3 241.1h0M657.3 251.4h0M657.7 246.1h0M658.0 253.6h0M658.3 246.0h0M658.3 248.9h0M658.4 254.1h0M658.6 245.9h0M658.7 248.8h0M658.8 252.4h0M658.9 249.8h0M659.1 248.7h0M659.3 246.1h0M659.5 248.0h0M659.6 253.1h0M659.7 250.5h0M660.0 245.9h0M660.1 255.4h0M660.3 248.8h0M660.5 254.6h0M660.7 250.1h0M660.8 244.5h0M660.9 251.9h0M661.2 249.7h0M661.5 253.9h0M661.6 254.5h0M661.7 254.2h0M661.9 249.1h0M662.2 251.6h0M662.3 251.4h0M662.6 250.0h0M662.7 247.3h0M662.8 249.1h0M663.0 246.3h0M663.1 251.5h0M663.4 255.2h0M663.6 251.2h0M663.9 252.6h0M664.0 250.9h0M664.2 247.4h0M664.5 227.1h0M664.5 242.7h0M664.6 252.8h0M664.8 249.3h0M664.8 253.9h0M664.9 246.5h0M665.1 252.2h0M665.2 246.7h0M665.4 255.4h0M665.5 249.8h0M665.5 249.1h0M665.8 251.7h0M665.9 251.4h0M666.3 249.8h0M666.3 253.4h0M666.4 253.1h0M666.6 247.4h0M666.8 251.1h0M666.8 248.4h0M667.1 254.4h0M667.4 246.5h0M667.5 250.1h0M667.6 255.4h0M667.9 249.7h0M668.1 253.6h0M668.2 252.5h0M668.5 257.1h0M668.6 257.3h0M668.7 250.9h0M669.0 252.6h0M669.1 248.9h0M669.3 252.2h0M669.5 250.3h0M669.7 247.9h0M669.8 255.8h0M669.9 248.2h0M670.2 245.3h0M670.2 252.0h0M670.6 250.1h0M670.8 247.4h0M670.9 253.5h0M671.0 255.6h0M671.1 253.0h0M671.2 249.6h0M671.6 252.8h0M671.8 251.8h0M671.8 249.1h0M672.2 252.2h0M672.3 249.7h0M672.5 253.6h0M672.7 250.7h0M672.9 255.8h0M673.0 256.1h0M673.4 248.1h0M673.6 251.5h0M673.9 244.2h0M674.0 253.2h0M674.0 241.5h0M674.1 248.5h0M674.1 238.0h0M674.2 251.4h0M674.4 250.0h0M674.4 241.8h0M674.8 247.6h0M674.8 244.5h0M674.9 245.5h0M675.3 242.8h0M675.4 248.5h0M675.6 248.3h0M675.7 242.9h0M675.8 245.6h0M675.8 239.0h0M675.9 248.7h0M676.1 243.7h0M676.2 247.0h0M676.2 239.7h0M676.3 250.8h0M676.7 249.8h0M676.8 239.2h0M676.9 235.9h0M677.0 247.2h0M677.1 250.5h0M677.3 232.7h0M677.4 236.5h0M677.5 195.1h0M677.6 230.0h0M677.7 232.0h0M677.8 236.6h0M678.0 235.9h0M678.3 84.0h0M678.3 173.3h0M678.4 233.5h0M678.4 90.0h0M678.5 231.4h0M678.5 96.6h0M678.6 103.6h0M678.6 146.3h0M678.7 179.5h0M678.7 109.1h0M678.8 234.6h0M678.8 113.6h0M678.8 152.8h0M678.9 233.1h0M678.9 120.1h0M679.0 160.9h0M679.0 126.0h0M679.0 145.3h0M679.1 131.5h0M679.2 150.2h0M679.2 137.0h0M679.3 150.7h0M679.3 142.5h0M679.4 148.0h0M679.5 218.8h0M679.5 153.5h0M679.5 161.9h0M679.6 159.3h0M679.7 186.9h0M679.7 164.5h0M679.7 205.3h0M679.8 169.3h0M679.9 163.0h0M680.1 153.8h0M680.1 157.5h0M680.2 160.1h0M680.2 216.2h0M680.3 147.2h0M680.3 166.9h0M680.4 168.7h0M680.4 153.0h0M680.7 157.6h0M680.8 148.4h0M680.8 175.8h0M680.8 166.0h0M680.9 172.4h0M680.9 178.9h0M681.0 161.5h0M681.2 155.2h0M681.2 157.9h0M681.2 167.0h0M681.3 178.0h0M681.3 172.2h0M681.6 177.1h0M681.6 180.1h0M681.6 174.4h0M681.7 165.0h0M681.8 171.9h0M681.8 189.2h0M681.9 188.5h0M682.0 185.1h0M682.1 173.8h0M682.1 166.3h0M682.1 162.7h0M682.2 190.4h0M682.2 180.9h0M682.2 186.7h0M682.3 176.7h0M682.3 193.4h0M682.5 183.4h0M682.6 177.9h0M682.6 198.3h0M682.6 174.5h0M682.8 184.2h0M682.8 181.3h0M682.8 194.1h0M682.9 186.8h0M682.9 189.7h0M683.0 196.8h0M683.2 184.2h0M683.3 203.4h0M683.3 196.9h0M683.5 177.8h0M683.5 194.4h0M683.5 181.1h0M683.8 197.7h0M683.8 187.8h0M683.8 202.2h0M683.9 207.7h0M683.9 209.8h0M684.0 190.7h0M684.1 195.3h0M684.2 198.5h0M684.3 194.3h0M684.5 191.3h0M684.5 207.3h0M684.6 202.1h0M684.6 210.3h0M684.6 212.1h0M684.8 207.2h0M685.0 194.3h0M685.1 201.7h0M685.1 209.5h0M685.2 214.4h0M685.2 214.2h0M685.3 199.4h0M685.3 207.8h0M685.4 202.6h0M685.4 212.9h0M685.6 215.4h0M685.7 215.3h0M685.8 205.1h0M685.9 210.9h0M686.0 204.6h0M686.1 216.9h0M686.1 213.5h0M686.3 220.1h0M686.3 208.6h0M686.4 206.6h0M686.5 215.1h0M686.7 212.0h0M686.8 221.7h0M687.0 224.2h0M687.2 210.1h0M687.2 218.9h0M687.2 214.2h0M687.5 221.9h0M687.6 221.1h0M687.9 219.3h0M688.0 216.2h0M688.2 223.1h0M688.3 217.9h0M688.4 221.3h0M688.6 174.8h0M688.7 224.6h0M688.7 219.7h0M688.8 222.7h0M688.9 207.6h0M689.0 177.9h0M689.1 187.5h0M689.1 215.6h0M689.2 203.6h0M689.2 217.6h0M689.3 175.5h0M689.4 177.9h0M689.5 183.4h0M689.6 192.5h0M689.7 188.9h0M689.7 206.2h0M689.8 188.8h0M689.8 169.3h0M689.9 178.7h0M689.9 175.4h0M690.0 196.1h0M690.0 181.4h0M690.0 202.9h0M690.1 172.0h0M690.2 186.2h0M690.3 204.1h0M690.4 189.4h0M690.4 180.9h0M690.4 196.3h0M690.5 198.9h0M690.6 207.3h0M690.6 217.3h0M690.7 168.3h0M690.8 199.1h0M690.8 206.7h0M690.9 203.6h0M691.0 180.1h0M691.1 195.4h0M691.2 215.4h0M691.2 216.5h0M691.3 187.9h0M691.4 217.0h0M691.5 208.6h0M691.7 214.1h0M691.7 197.5h0M691.7 199.8h0M691.8 224.2h0M691.9 219.8h0M691.9 222.2h0M692.0 211.1h0M692.2 224.6h0M692.2 215.3h0M692.4 218.0h0M692.5 216.7h0M692.5 213.6h0M692.5 222.1h0M692.7 219.4h0M693.0 229.0h0M693.1 217.5h0M693.3 227.2h0M693.3 220.5h0M693.4 224.3h0M693.4 229.6h0M693.5 230.5h0M693.7 230.9h0M693.9 233.4h0M694.1 234.2h0M694.2 235.9h0M694.5 230.7h0M694.6 236.8h0M694.7 232.5h0M694.9 235.1h0M695.3 230.3h0M695.4 227.6h0M695.5 233.0h0M695.7 233.6h0M695.8 232.6h0M696.1 234.2h0M696.3 235.2h0M696.6 231.7h0M696.7 234.9h0M696.9 234.6h0M697.2 230.3h0M697.3 234.7h0M697.6 237.5h0M697.7 233.3h0M697.8 236.5h0M698.0 237.1h0M698.1 233.3h0M698.4 239.3h0M698.6 237.1h0M698.8 233.6h0M698.9 236.0h0M699.0 229.1h0M699.2 233.4h0M699.3 239.0h0M699.6 237.5h0M699.7 240.8h0M700.0 233.0h0M700.1 229.3h0M700.4 231.5h0M700.5 239.3h0M700.6 234.4h0M700.8 231.8h0M701.0 235.9h0M701.2 235.0h0M701.3 238.3h0M701.4 234.7h0M701.8 232.5h0M702.0 235.3h0M702.2 237.3h0M702.5 229.2h0M702.6 236.6h0M702.8 235.1h0M702.9 234.4h0M703.1 230.9h0M703.2 238.5h0M703.5 234.9h0M703.6 232.2h0M703.7 235.8h0M704.1 235.3h0M704.6 210.8h0M704.7 227.1h0M704.7 217.4h0M704.8 221.4h0M705.2 227.2h0M705.3 223.7h0M705.5 220.0h0M705.6 227.6h0M705.8 232.5h0M705.9 222.8h0M706.4 231.3h0M706.5 226.1h0M706.7 236.1h0M706.8 233.4h0M707.1 236.6h0M707.2 235.8h0M707.3 232.2h0M707.6 241.5h0M707.8 236.8h0M707.9 237.0h0M708.1 232.2h0M708.2 229.9h0M708.3 239.3h0M708.5 236.0h0M708.6 233.4h0M708.8 238.5h0M709.0 239.3h0M709.2 236.5h0M709.4 231.2h0M709.5 234.0h0M709.9 233.8h0M710.0 236.2h0M710.0 237.5h0M710.3 240.7h0M710.4 235.8h0M710.6 238.8h0M710.7 235.1h0M710.8 237.1h0M711.0 232.7h0M711.2 239.8h0M711.4 231.6h0M711.6 236.0h0M711.8 236.1h0M712.2 238.4h0M712.4 237.2h0M712.6 235.5h0M712.8 234.0h0M713.2 236.7h0M713.4 241.0h0M713.5 239.6h0M713.8 233.9h0M713.9 234.0h0M714.2 242.9h0M714.3 237.2h0M714.5 233.8h0M714.6 239.3h0M714.7 236.7h0M714.9 242.9h0M715.1 240.6h0M715.3 239.8h0M715.5 237.0h0M715.7 238.9h0M715.8 243.4h0M715.9 242.0h0M716.2 239.8h0M716.5 236.0h0M716.6 238.7h0M717.0 239.7h0M717.1 243.7h0M717.3 241.3h0M717.5 236.9h0M717.9 241.5h0M718.1 245.3h0M718.2 238.5h0M718.2 234.0h0M718.3 236.1h0M718.4 233.3h0M718.5 238.5h0M718.7 242.0h0M718.9 240.3h0M719.0 243.6h0M719.3 243.8h0M719.3 237.8h0M719.6 237.1h0M719.7 243.2h0M719.9 241.0h0M719.9 234.0h0M720.1 243.4h0M720.2 237.0h0M720.3 239.3h0M720.5 242.2h0M720.6 244.5h0M720.9 239.2h0M721.0 242.0h0M721.4 243.5h0M721.6 236.8h0M721.7 235.2h0M722.0 241.5h0M722.1 237.6h0M722.2 238.9h0M722.5 235.0h0M722.6 245.4h0M722.9 243.9h0M723.0 236.3h0M723.2 239.5h0M723.4 91.3h0M723.4 114.9h0M723.4 131.1h0M723.4 160.7h0M723.4 148.6h0M723.4 213.5h0M723.4 207.5h0M723.4 166.1h0M723.4 173.5h0M723.4 225.5h0M723.4 81.3h0M723.4 187.5h0M723.4 179.5h0M723.4 202.1h0M723.4 219.5h0M723.4 193.7h0M723.6 242.7h0M723.7 240.4h0M723.8 234.7h0M724.0 240.1h0M724.2 237.8h0M724.5 236.1h0M724.6 244.7h0M724.8 240.5h0M725.0 241.0h0M725.2 242.3h0M725.3 238.6h0M725.4 197.5h0M725.4 205.5h0M725.4 218.5h0M725.4 224.5h0M725.4 212.5h0M725.6 240.6h0M725.8 240.5h0M726.0 238.0h0M726.3 238.4h0M726.4 241.5h0M726.5 242.1h0M726.7 242.8h0M726.8 240.8h0M726.9 237.1h0M727.2 236.1h0M727.3 123.5h0M727.3 176.3h0M727.3 199.5h0M727.3 210.2h0M727.3 190.3h0M727.3 216.2h0M727.3 223.2h0M727.3 242.7h0M727.6 242.5h0M727.7 241.3h0M728.0 238.0h0M728.3 238.2h0M728.5 235.5h0M728.7 243.6h0M729.1 244.0h0M729.2 240.0h0M729.5 237.1h0M729.7 241.4h0M729.9 240.2h0M730.1 239.1h0M730.3 236.5h0M730.4 237.3h0M730.5 242.4h0M730.8 240.0h0M731.1 243.5h0M731.2 241.9h0M731.5 238.6h0M731.6 242.5h0M731.7 238.6h0M731.9 241.5h0M732.1 238.4h0M732.2 244.2h0M732.4 235.4h0M732.6 241.3h0M732.7 242.7h0M733.0 244.7h0M733.1 238.5h0M733.2 246.8h0M733.3 241.2h0M733.6 238.7h0M733.8 243.1h0M733.9 239.3h0M734.2 245.0h0M734.4 240.4h0M734.4 246.2h0M734.6 243.6h0M734.8 246.3h0M735.0 241.6h0M735.2 245.7h0M735.5 241.9h0M735.6 249.3h0M735.8 239.0h0M735.9 244.8h0M736.0 236.2h0M736.2 233.3h0M736.2 242.9h0M736.2 228.0h0M736.3 224.8h0M736.3 244.8h0M736.4 230.7h0M736.6 233.6h0M736.8 243.2h0M737.0 236.4h0M737.0 245.1h0M737.2 244.8h0M737.4 238.1h0M737.5 240.7h0M737.5 247.1h0M737.7 248.4h0M737.8 242.1h0M738.0 238.6h0M738.5 245.3h0M738.6 242.2h0M738.6 246.8h0M738.7 244.1h0M738.8 240.9h0M739.0 250.9h0M739.2 243.1h0M739.3 245.7h0M739.5 246.1h0M739.8 246.9h0M739.9 245.0h0M740.1 241.9h0M740.2 239.3h0M740.2 235.0h0M740.3 247.8h0M740.4 238.0h0M740.6 245.6h0M740.7 241.5h0M741.0 240.0h0M741.1 248.9h0M741.3 250.5h0M741.4 242.4h0M741.4 249.2h0M741.9 246.8h0M741.9 243.5h0M742.1 244.2h0M742.4 246.9h0M742.6 247.0h0M742.7 241.4h0M742.9 244.2h0M743.0 248.7h0M743.3 247.3h0M743.6 244.7h0M743.7 246.1h0M744.1 251.3h0M744.2 249.7h0M744.4 248.2h0M744.5 242.4h0M744.6 245.7h0M744.9 243.9h0M745.0 247.3h0M745.2 241.6h0M745.3 237.0h0M745.4 247.1h0M745.7 247.5h0M745.7 244.4h0M745.8 243.3h0M746.1 245.7h0M746.2 251.9h0M746.4 243.0h0M746.5 249.9h0M746.6 246.4h0M747.0 244.0h0M747.2 248.0h0M747.2 246.9h0M747.6 247.8h0M747.7 246.9h0M747.8 241.0h0M747.9 244.4h0M748.2 243.1h0M748.4 248.1h0M748.5 250.2h0M748.6 248.4h0M748.8 244.1h0M748.9 250.2h0M749.3 245.7h0M749.5 244.6h0M749.6 241.7h0M749.7 245.6h0M749.9 245.4h0M750.1 238.6h0M750.5 241.3h0M750.7 242.8h0M750.8 247.0h0M750.9 243.1h0M751.0 237.1h0M751.2 231.0h0M751.2 239.8h0M751.3 227.0h0M751.3 226.8h0M751.5 241.5h0M751.6 232.2h0M751.7 235.0h0M751.7 245.5h0M752.0 234.8h0M752.0 243.6h0M752.1 237.8h0M752.1 245.9h0M752.7 241.5h0M752.8 238.9h0M752.8 247.2h0M753.1 243.7h0M753.3 237.8h0M753.5 241.2h0M753.7 243.4h0M753.7 240.9h0M753.9 245.7h0M754.1 241.2h0M754.1 238.5h0M754.3 243.9h0M754.5 244.7h0M754.7 241.8h0M754.7 236.0h0M754.9 243.6h0M755.1 238.9h0M755.2 245.3h0M755.5 241.3h0M755.9 239.5h0M756.2 242.3h0M756.2 236.5h0M756.3 235.0h0M756.4 238.0h0M756.6 243.5h0M756.8 241.2h0M757.0 238.1h0M757.1 240.4h0M757.7 237.5h0M757.8 240.0h0M757.9 244.0h0M758.2 239.4h0M758.2 242.9h0M758.6 242.5h0M758.7 238.9h0M758.8 236.3h0M759.2 242.9h0M759.4 235.6h0M759.5 243.5h0M759.8 241.9h0M759.9 236.1h0M760.0 239.1h0M760.3 238.1h0M760.4 243.8h0M760.6 241.4h0M760.8 243.3h0M761.0 239.7h0M761.4 236.8h0M761.5 240.8h0M761.7 242.6h0M761.9 243.7h0M762.1 240.8h0M762.2 237.7h0M762.3 244.2h0M762.6 241.3h0M762.7 234.2h0M762.9 238.6h0M763.0 245.1h0M763.1 235.9h0M763.3 244.0h0M763.3 233.0h0M763.5 235.4h0M763.5 237.9h0M763.9 241.0h0M764.1 241.4h0M764.4 236.7h0M764.5 239.3h0M764.6 244.1h0M764.7 242.5h0M764.9 239.6h0M764.9 236.9h0M765.2 238.1h0M765.3 243.9h0M765.5 240.8h0M765.7 241.4h0M765.8 240.8h0M766.1 236.9h0M766.2 241.8h0M766.6 239.3h0M766.9 239.2h0M767.2 237.6h0M767.4 241.2h0M767.6 238.2h0M767.7 241.3h0M767.8 241.9h0M768.1 238.5h0M768.2 241.2h0M768.5 244.9h0M768.6 239.8h0M768.9 242.7h0M769.0 243.9h0M769.1 234.8h0M769.3 226.6h0M769.4 229.5h0M769.4 239.3h0M769.5 230.2h0M769.8 237.5h0M769.9 232.7h0M770.0 238.5h0M770.0 235.0h0M770.1 241.1h0M770.4 240.5h0M770.4 237.3h0M770.6 237.3h0M770.8 240.2h0M771.1 240.2h0M771.3 243.1h0M771.4 238.9h0M771.6 235.8h0M771.8 237.0h0M772.0 242.5h0M772.1 239.5h0M772.3 241.4h0M772.4 239.2h0M772.9 240.4h0M773.1 236.6h0M773.2 233.7h0M773.6 238.9h0M773.7 235.5h0M773.9 232.1h0M774.0 234.5h0M774.1 236.5h0M774.7 235.9h0M774.8 239.7h0M774.9 239.0h0M775.1 239.1h0M775.3 235.9h0M775.5 239.5h0M775.7 238.1h0M776.0 235.4h0M776.1 231.3h0M776.4 238.1h0M776.5 235.3h0M776.7 239.7h0M776.9 235.0h0M777.1 238.3h0M777.2 233.5h0M777.3 237.7h0M777.5 241.5h0M777.7 235.7h0M777.9 238.3h0M778.0 239.0h0M778.4 237.8h0M778.6 238.7h0M778.7 235.2h0M779.0 239.1h0M779.2 235.5h0M779.4 240.6h0M779.5 233.1h0M779.8 237.5h0M780.0 233.5h0M780.2 235.8h0M780.3 236.6h0M780.6 236.1h0M780.7 235.2h0M781.0 231.8h0M781.2 236.4h0M781.4 233.1h0M781.8 230.4h0M781.9 234.5h0M782.0 235.4h0M782.2 237.1h0M782.3 231.8h0M782.6 235.1h0M782.7 233.4h0M783.1 237.5h0M783.2 233.8h0M783.5 240.0h0M783.9 235.6h0M784.0 233.5h0M784.3 236.4h0M784.5 232.0h0M784.6 236.8h0M785.0 238.1h0M785.1 228.3h0M785.1 231.1h0M785.3 225.0h0M785.4 235.4h0M785.5 226.3h0M785.7 228.6h0M785.7 237.0h0M785.9 233.4h0M786.2 231.2h0M786.2 233.6h0M786.3 235.7h0M786.6 236.1h0M786.7 232.7h0M787.0 235.6h0M787.1 232.1h0M787.1 229.6h0M787.3 234.7h0M787.7 232.6h0M787.7 230.0h0M787.9 238.7h0M788.2 233.9h0M788.3 230.4h0M788.5 236.8h0M788.9 236.2h0M789.0 234.1h0M789.1 231.5h0M789.5 237.1h0M789.7 232.2h0M789.8 234.6h0M790.2 231.5h0M790.5 230.0h0M790.6 232.8h0M790.9 234.3h0M791.0 233.5h0M791.2 235.4h0M791.3 230.9h0M791.6 231.3h0M792.0 228.1h0M792.0 234.3h0M792.1 232.0h0M792.2 234.1h0M792.3 224.7h0M792.5 228.2h0M792.6 236.9h0M792.7 228.0h0M792.8 234.8h0M792.9 230.9h0M793.2 233.7h0M793.3 228.8h0M793.4 231.8h0M793.7 229.5h0M793.8 234.3h0M794.0 236.9h0M794.0 231.9h0M794.4 233.8h0M794.5 231.5h0M794.6 227.6h0M794.8 232.0h0M794.9 237.4h0M795.0 236.0h0M795.3 234.1h0M795.4 235.2h0M795.6 230.1h0M796.0 227.9h0M796.1 234.4h0M796.3 232.3h0M796.8 215.0h0M796.8 207.0h0M796.8 219.0h0M796.8 235.8h0M796.9 232.6h0M797.2 231.2h0M797.3 234.5h0M797.6 230.5h0M797.7 233.4h0M798.0 235.5h0M798.3 231.6h0M798.4 234.4h0M798.5 234.8h0M798.8 235.9h0M798.9 233.0h0M799.1 236.3h0M799.2 238.0h0M799.3 231.8h0M799.6 235.5h0M799.7 233.0h0M800.0 237.3h0M800.1 229.6h0M800.1 238.0h0M800.4 235.4h0M800.5 240.3h0M800.7 232.7h0M800.8 235.9h0M801.1 237.9h0M801.3 233.2h0M801.4 238.0h0M801.5 232.6h0M801.5 237.1h0M802.2 240.1h0M802.3 234.1h0M802.3 240.8h0M802.4 231.0h0M802.4 236.9h0M802.6 232.0h0M802.6 239.5h0M802.7 238.6h0M803.0 234.6h0M803.2 237.8h0M803.4 237.0h0M803.5 233.9h0M803.6 239.6h0M803.8 238.8h0M803.9 235.2h0M804.2 238.9h0M804.2 234.0h0M804.3 236.6h0M804.3 239.9h0M804.7 237.9h0M805.0 240.4h0M805.1 241.3h0M805.2 238.2h0M805.5 234.9h0M805.6 239.9h0M805.8 238.7h0M805.9 243.0h0M806.2 234.7h0M806.6 239.8h0M806.7 235.7h0M806.8 238.4h0M807.0 237.8h0M807.2 235.0h0M807.4 239.3h0M807.5 235.9h0M807.7 233.4h0M807.9 237.4h0M808.2 237.5h0M808.3 239.1h0M809.0 242.4h0M809.0 237.6h0M809.2 232.3h0M809.4 213.6h0M809.4 221.0h0M809.4 220.0h0M809.4 180.2h0M809.4 239.1h0M809.5 241.0h0M809.6 225.5h0M809.6 180.0h0M809.6 219.1h0M809.6 223.1h0M809.6 213.1h0M809.7 225.9h0M809.9 239.6h0M810.1 236.1h0M810.1 228.9h0M810.2 240.9h0M810.4 231.0h0M810.5 234.0h0M810.6 237.1h0M810.8 234.3h0M810.9 237.3h0M811.4 235.5h0M811.5 238.3h0M811.7 240.3h0M811.8 236.4h0M812.1 238.7h0M812.2 240.2h0M812.5 240.9h0M812.6 238.4h0M812.9 243.8h0M812.9 238.7h0M813.0 242.4h0M813.2 241.2h0M813.7 238.2h0M814.0 239.5h0M814.1 239.6h0M814.2 244.5h0M814.4 246.5h0M814.6 237.3h0M814.8 241.2h0M814.9 240.4h0M815.2 241.8h0M815.4 238.1h0M815.7 243.0h0M815.8 238.5h0M816.2 238.2h0M816.5 242.7h0M816.6 244.8h0M816.8 239.2h0M817.2 240.5h0M817.6 239.9h0M817.7 235.2h0M817.8 243.7h0M818.0 241.3h0M818.1 239.4h0M818.6 235.1h0M818.8 243.3h0M818.9 238.7h0M819.0 242.3h0M819.2 240.9h0M819.3 238.1h0M819.6 242.0h0M819.8 237.2h0M819.9 240.8h0M820.0 234.0h0M820.1 233.6h0M820.3 242.9h0M820.3 236.9h0M820.5 239.4h0M820.7 240.3h0M820.9 242.5h0M821.1 237.5h0M821.2 235.8h0M821.3 238.3h0M821.5 242.8h0M821.7 241.0h0M821.9 244.5h0M821.9 239.4h0M822.1 236.3h0M822.4 238.7h0M822.7 234.9h0M822.8 240.0h0M823.1 241.5h0M823.3 236.1h0M823.5 238.6h0M823.7 234.7h0M823.9 243.6h0M824.3 241.3h0M824.4 237.0h0M824.7 240.5h0M824.8 236.8h0M825.2 234.3h0M825.4 239.1h0M825.5 237.8h0M825.6 237.7h0M825.8 239.5h0M825.9 234.1h0M826.2 234.5h0M826.4 237.8h0M826.6 238.4h0M826.7 236.5h0M827.0 239.2h0M827.1 232.5h0M827.2 233.9h0M827.4 240.9h0M827.9 239.9h0M828.0 238.6h0M828.2 235.0h0M828.4 238.5h0M828.6 235.5h0M828.7 232.9h0M828.8 238.7h0M829.2 238.1h0M829.4 233.0h0M829.5 240.4h0M829.6 239.7h0M829.8 230.8h0M829.9 235.5h0M830.0 238.2h0M830.2 237.5h0M830.4 232.2h0M830.6 239.7h0M830.7 234.5h0M831.1 238.1h0M831.4 235.2h0M831.5 232.3h0M831.7 232.1h0M831.8 236.6h0M832.2 237.4h0M832.3 235.0h0M832.7 236.2h0M832.9 238.1h0M833.1 233.6h0M833.5 233.1h0M833.7 235.5h0M833.9 235.6h0M834.2 233.2h0M834.3 239.1h0M834.6 239.4h0M834.7 234.5h0M834.7 238.7h0M834.9 228.4h0M835.1 222.1h0M835.1 224.4h0M835.1 240.3h0M835.4 234.3h0M835.5 227.5h0M835.8 234.6h0M835.9 232.3h0M835.9 239.9h0M836.1 230.5h0M836.2 234.1h0M836.5 238.7h0M836.6 233.1h0M836.7 237.6h0M837.1 235.7h0M837.2 235.5h0M837.3 230.0h0M837.5 233.1h0M838.1 233.9h0M838.1 236.8h0M838.2 234.7h0M838.2 232.4h0M838.5 237.3h0M838.8 232.5h0M839.0 238.7h0M839.2 235.9h0M839.4 236.0h0M839.6 238.0h0M839.7 233.3h0M839.8 230.3h0M840.1 238.5h0M840.2 234.5h0M840.6 231.4h0M840.8 236.5h0M840.9 238.5h0M841.0 235.0h0M841.3 232.1h0M841.4 238.7h0M841.6 232.7h0M841.8 235.8h0M842.0 237.0h0M842.1 234.4h0M842.2 231.3h0M842.7 234.3h0M842.9 235.1h0M843.1 231.5h0M843.2 233.6h0M843.5 236.3h0M843.6 229.2h0M843.7 234.7h0M844.1 231.4h0M844.5 236.3h0M844.7 228.7h0M844.8 232.5h0M845.1 235.3h0M845.2 228.7h0M845.3 233.2h0M845.5 228.0h0M845.6 236.2h0M845.7 231.9h0M846.0 232.4h0M846.1 228.6h0M846.3 237.1h0M846.7 226.7h0M846.7 233.6h0M846.8 235.6h0M846.9 229.1h0M847.0 227.1h0M847.1 224.1h0M847.2 234.2h0M847.3 234.7h0M847.5 230.9h0M847.6 231.9h0M847.7 233.2h0M847.8 228.5h0M848.0 225.8h0M848.5 233.0h0M848.6 228.2h0M848.6 230.6h0M848.8 230.6h0M849.0 233.6h0M849.1 228.1h0M849.2 229.3h0M849.4 231.8h0M849.5 236.9h0M849.9 232.0h0M850.0 234.2h0M850.3 225.2h0M850.4 230.5h0M850.7 228.9h0M851.0 232.2h0M851.1 236.0h0M851.2 225.5h0M851.4 228.3h0M851.5 231.2h0M851.6 227.0h0M851.8 229.6h0M852.0 228.2h0M852.4 230.9h0M852.6 234.3h0M852.7 227.9h0M852.8 231.0h0M853.1 227.9h0M853.2 231.3h0M853.4 231.1h0M853.6 231.5h0M853.8 226.0h0M853.9 229.0h0M854.1 223.1h0M854.2 223.9h0M854.3 234.2h0M854.7 227.2h0M854.8 227.8h0M854.9 232.0h0M855.0 230.5h0M855.4 228.5h0M855.4 225.8h0M855.8 233.2h0M855.9 227.1h0M856.1 232.2h0M856.3 230.0h0M856.4 227.3h0M856.5 233.4h0M856.7 224.3h0M856.9 233.9h0M857.0 227.4h0M857.1 234.7h0M857.3 233.7h0M857.7 234.4h0M857.8 229.2h0M857.9 233.2h0M858.2 231.7h0M858.3 232.5h0M858.5 229.0h0M858.6 226.7h0M858.7 231.2h0M859.0 230.5h0M859.1 232.3h0M859.3 228.5h0M859.4 225.5h0M859.7 228.8h0M859.8 226.2h0M860.1 230.1h0M860.4 231.5h0M860.5 228.2h0M860.6 225.4h0M860.8 231.9h0M860.9 229.4h0M861.2 232.4h0M861.3 226.8h0M861.3 224.1h0M861.4 216.0h0M861.5 212.4h0M861.6 235.7h0M861.7 234.0h0M861.8 230.0h0M862.0 232.0h0M862.0 219.3h0M862.1 221.6h0M862.2 232.7h0M862.2 224.7h0M862.4 229.0h0M862.5 222.7h0M862.8 233.6h0M862.9 230.1h0M862.9 226.8h0M863.0 231.5h0M863.2 235.0h0M863.2 226.3h0M863.3 228.9h0M863.6 231.4h0M863.6 225.3h0M863.8 229.1h0M864.0 235.0h0M864.1 233.7h0M864.2 233.7h0M864.3 228.4h0M864.6 235.2h0M864.8 232.1h0M864.9 229.1h0M865.2 229.6h0M865.3 235.4h0M865.4 232.0h0M865.7 229.5h0M865.8 236.8h0M866.1 232.6h0M866.3 231.5h0M866.5 234.2h0M866.7 228.6h0M866.8 237.6h0M866.9 232.2h0M867.1 237.1h0M867.2 224.9h0M867.3 228.8h0M867.6 233.3h0M867.7 228.6h0M867.7 234.4h0M868.0 238.5h0M868.3 229.2h0M868.4 232.2h0M868.7 229.7h0M868.7 233.8h0M868.9 232.4h0M869.2 234.9h0M869.3 231.8h0M869.5 236.9h0M869.7 235.5h0M869.9 229.5h0M870.0 235.1h0M870.1 235.7h0M870.3 237.3h0M870.4 232.1h0M870.7 233.1h0M870.8 238.0h0M871.3 233.5h0M871.5 238.2h0M871.8 234.4h0M871.9 238.4h0M872.3 231.6h0M872.4 233.9h0M872.6 238.8h0M872.7 236.9h0M873.0 233.4h0M873.1 236.0h0M873.4 236.4h0M873.6 234.6h0M873.8 238.3h0M874.2 230.1h0M874.3 236.2h0M874.4 235.8h0M874.6 235.0h0M874.7 239.1h0M875.0 238.5h0M875.1 237.6h0M875.2 237.5h0M875.4 233.7h0M875.5 229.1h0M875.7 222.4h0M875.8 237.7h0M875.8 219.6h0M875.9 240.3h0M876.0 234.3h0M876.2 225.6h0M876.4 238.2h0M876.5 229.5h0M876.6 235.7h0M876.6 231.9h0M876.9 233.0h0M877.0 236.1h0M877.0 230.6h0M877.1 237.3h0M877.4 240.3h0M877.4 233.0h0M877.5 238.5h0M877.7 235.8h0M877.9 240.1h0M878.1 232.7h0M878.2 235.1h0M878.3 237.5h0M878.5 233.8h0M878.6 236.8h0M878.7 241.0h0M878.9 239.8h0M879.0 235.0h0M879.1 238.4h0M879.4 241.3h0M879.7 235.5h0M879.8 238.0h0M879.9 238.3h0M880.1 232.1h0M880.3 235.0h0M880.6 236.0h0M880.7 238.7h0M880.9 232.6h0M881.3 234.4h0M881.4 240.3h0M881.5 238.1h0M881.7 233.3h0M881.9 237.4h0M882.1 240.7h0M882.3 240.6h0M882.5 242.1h0M882.6 235.3h0M882.7 238.2h0M883.0 237.2h0M883.3 240.3h0M883.6 239.5h0M883.7 238.2h0M884.1 239.5h0M884.4 241.4h0M884.5 242.7h0M884.6 239.9h0M884.9 236.7h0M885.3 245.1h0M885.4 238.9h0M885.6 235.0h0M885.7 239.0h0M886.0 238.5h0M886.1 237.5h0M886.4 242.6h0M886.5 242.1h0M886.6 239.9h0M886.8 243.6h0M887.2 234.1h0M887.3 237.1h0M887.4 238.4h0M888.1 241.1h0M888.2 236.4h0M888.4 237.1h0M888.5 240.2h0M888.6 244.0h0M888.9 236.5h0M889.2 239.6h0M889.3 242.5h0M889.6 239.9h0M889.7 236.6h0M889.9 233.1h0M890.0 242.3h0M890.3 239.5h0M890.4 236.0h0M890.5 241.2h0M890.9 237.7h0M891.2 240.5h0M891.3 241.1h0M891.5 236.1h0M891.6 237.9h0M891.7 235.5h0M891.9 238.2h0M892.1 240.8h0M892.3 235.7h0M892.4 239.2h0M892.9 242.5h0M893.1 234.9h0M893.5 235.8h0M893.6 231.9h0M893.7 239.1h0M894.0 237.2h0M894.1 239.7h0M894.3 240.6h0M894.4 234.1h0M894.5 240.3h0M894.9 237.2h0M895.1 237.9h0M895.4 234.5h0M895.8 237.1h0M895.9 235.0h0M896.0 238.7h0M896.2 241.5h0M896.4 233.4h0M896.6 234.5h0M896.8 239.6h0M897.0 239.6h0M897.1 239.1h0M897.5 233.5h0M897.8 237.0h0M898.0 233.9h0M898.2 238.4h0M898.3 240.6h0M898.4 235.8h0M898.7 238.9h0M898.8 236.5h0M899.0 234.1h0M899.4 238.4h0M899.5 235.2h0M899.9 235.5h0M900.0 238.9h0M900.1 232.2h0M900.3 228.8h0M900.4 237.4h0M900.5 230.5h0M900.6 238.0h0M900.8 234.5h0M901.0 232.2h0M901.1 237.8h0M901.3 234.7h0M901.4 238.3h0M901.5 235.7h0M901.5 239.5h0M901.7 233.2h0M902.2 239.1h0M902.3 233.3h0M902.5 235.8h0M902.6 239.5h0M902.7 237.2h0M902.9 234.7h0M903.3 241.4h0M903.4 233.3h0M903.5 236.4h0M903.9 235.6h0M904.1 238.2h0M904.2 236.0h0M904.4 231.3h0M904.5 240.5h0M904.5 224.1h0M904.6 241.6h0M904.7 220.7h0M904.8 222.6h0M904.9 237.4h0M904.9 225.4h0M905.0 235.4h0M905.1 232.1h0M905.2 229.6h0M905.3 228.7h0M905.4 238.6h0M905.7 236.9h0M905.7 232.5h0M906.0 229.7h0M906.1 240.4h0M906.2 236.8h0M906.3 234.4h0M906.5 231.1h0M906.8 234.0h0M906.8 237.2h0M906.9 236.7h0M907.0 230.0h0M907.2 233.7h0M907.4 238.5h0M907.5 236.9h0M907.6 234.5h0M907.9 237.5h0M908.0 231.4h0M908.1 239.0h0M908.4 231.0h0M908.5 234.1h0M908.6 234.7h0M908.9 232.8h0M909.3 236.5h0M909.6 234.6h0M909.8 231.2h0M910.0 234.4h0M910.1 237.3h0M910.4 236.8h0M910.5 234.0h0M910.8 230.8h0M910.9 230.9h0M911.0 236.4h0M911.4 233.3h0M911.6 227.6h0M911.8 237.0h0M912.0 232.7h0M912.2 227.3h0M912.4 232.7h0M912.5 237.6h0M912.7 232.8h0M913.1 231.0h0M913.2 234.8h0M913.3 228.0h0M913.6 231.3h0M913.7 231.4h0M913.9 226.7h0M914.1 234.2h0M914.3 230.6h0M914.4 236.3h0M914.7 232.3h0M914.8 227.2h0M915.2 235.0h0M915.3 229.5h0M915.5 232.0h0M915.6 235.0h0M915.9 231.2h0M916.0 227.9h0M916.1 235.3h0M916.3 234.3h0M916.4 228.7h0M916.7 235.1h0M916.8 233.8h0M917.1 231.5h0M917.2 226.5h0M917.3 230.3h0M917.5 230.1h0M917.6 227.5h0M917.7 233.0h0M918.0 232.7h0M918.1 229.4h0M918.3 226.5h0M918.6 229.9h0M918.7 232.4h0M919.0 234.3h0M919.1 229.2h0M919.2 235.5h0M919.4 231.7h0M919.6 227.0h0M919.9 230.9h0M920.0 233.8h0M920.2 228.9h0M920.4 226.3h0M920.6 232.2h0M920.7 233.1h0M920.8 232.7h0M921.0 230.2h0M921.1 232.6h0M921.4 228.0h0M921.5 230.6h0M921.8 232.1h0M922.0 232.0h0M922.2 233.5h0M922.3 226.1h0M922.4 234.4h0M922.6 234.8h0M922.7 232.1h0M923.0 233.2h0M923.1 229.7h0M923.5 233.3h0M923.6 228.7h0M924.0 233.5h0M924.3 228.8h0M924.7 228.0h0M924.9 231.7h0M925.0 231.7h0M925.3 230.4h0M925.4 231.7h0M925.5 226.0h0M925.7 225.4h0M926.1 230.9h0M926.2 231.5h0M926.5 228.6h0M926.6 232.5h0M926.7 233.7h0M926.9 227.1h0M927.0 231.1h0M927.1 232.9h0M927.5 228.6h0M927.7 225.8h0M927.8 230.6h0M927.9 227.8h0M928.2 231.6h0M928.3 230.2h0M928.6 233.5h0M928.7 229.8h0M928.9 235.4h0M929.0 232.0h0M929.3 227.8h0M929.4 232.8h0M929.7 225.9h0M929.8 231.4h0M929.9 235.1h0M930.1 231.4h0M930.2 228.0h0M930.5 233.1h0M930.8 232.0h0M930.9 226.8h0M931.0 235.5h0M931.2 231.5h0M931.3 226.3h0M931.6 229.2h0M931.8 233.9h0M931.9 216.7h0M932.1 231.8h0M932.4 228.9h0M932.6 233.5h0M932.8 232.8h0M932.9 231.8h0M933.2 231.9h0M933.3 229.4h0M933.6 227.0h0M933.7 232.8h0M933.8 234.8h0M934.1 233.9h0M934.4 229.7h0M934.5 234.0h0M934.8 230.7h0M935.0 230.8h0M935.2 228.2h0M935.6 232.5h0M935.8 235.8h0M936.1 228.6h0M936.4 232.0h0M936.5 235.7h0M936.7 230.7h0M937.1 233.3h0M937.3 234.3h0M937.6 234.7h0M937.7 230.7h0M937.9 234.2h0M938.1 223.6h0M938.2 215.3h0M938.3 232.2h0M938.3 208.0h0M938.3 209.1h0M938.3 210.1h0M938.7 233.0h0M938.7 215.7h0M938.8 235.5h0M938.9 231.9h0M939.0 219.5h0M939.1 237.6h0M939.1 216.7h0M939.2 229.5h0M939.4 223.6h0M939.5 235.7h0M939.7 193.7h0M939.7 179.0h0M939.7 207.1h0M939.7 203.1h0M939.7 235.4h0M939.9 233.0h0M939.9 227.4h0M940.0 236.1h0M940.1 236.4h0M940.3 230.9h0M940.3 227.8h0M940.5 234.5h0M940.6 230.4h0M940.7 227.8h0M940.9 236.1h0M941.1 230.9h0M941.4 233.5h0M941.5 236.1h0M941.6 232.8h0M941.8 236.0h0M941.8 230.2h0M942.2 229.7h0M942.3 238.2h0M942.4 232.5h0M942.4 236.3h0M942.5 226.4h0M942.6 219.5h0M942.7 216.0h0M942.7 216.4h0M942.8 235.3h0M942.9 220.5h0M943.0 231.8h0M943.1 237.2h0M943.1 223.0h0M943.3 225.6h0M943.4 231.4h0M943.4 222.8h0M943.6 238.3h0M943.7 228.3h0M943.8 236.0h0M943.8 227.7h0M943.9 233.7h0M944.2 237.2h0M944.3 239.1h0M944.3 230.4h0M944.4 234.5h0M944.6 237.0h0M944.7 231.9h0M945.0 237.4h0M945.1 236.9h0M945.2 234.3h0M945.4 231.9h0M945.5 236.5h0M945.6 236.5h0M946.0 234.2h0M946.3 239.8h0M946.4 234.9h0M946.4 237.3h0M946.6 238.0h0M946.7 233.0h0M947.1 235.3h0M947.1 234.4h0M947.2 239.1h0M947.3 230.1h0M947.5 239.3h0M947.9 234.9h0M947.9 231.3h0M948.1 238.4h0M948.2 237.3h0M948.3 232.5h0M948.4 234.8h0M948.6 240.9h0M948.7 238.1h0M948.8 235.1h0M949.0 239.1h0M949.1 237.5h0M949.4 238.7h0M949.6 238.6h0M949.7 231.8h0M949.8 234.8h0M949.9 241.2h0M950.2 232.7h0M950.3 239.6h0M950.6 237.8h0M950.7 239.2h0M950.8 232.0h0M950.9 235.5h0M950.9 205.7h0M950.9 223.3h0M951.0 238.5h0M951.1 229.6h0M951.1 233.6h0M951.3 241.6h0M951.4 242.9h0M951.5 239.8h0M951.7 235.0h0M952.0 238.4h0M952.4 238.2h0M952.5 240.2h0M952.6 235.7h0M952.6 243.8h0M952.7 242.5h0M952.8 238.7h0M953.0 236.0h0M953.3 234.0h0M953.4 236.7h0M953.6 244.0h0M953.7 241.3h0M953.8 241.9h0M954.0 235.5h0M954.4 239.8h0M954.8 236.5h0M955.0 240.2h0M955.2 235.4h0M955.7 238.6h0M955.8 241.1h0M956.0 234.8h0M956.2 239.5h0M956.4 242.4h0M956.5 238.3h0M956.8 239.4h0M956.9 234.9h0M957.2 236.2h0M957.3 241.3h0M957.4 240.5h0M957.7 239.0h0M958.0 235.9h0M958.1 241.0h0M958.2 238.9h0"/>
<path stroke="#00f" d="M113.7 365.3h0M113.8 368.1h0M114.0 367.8h0M114.4 364.1h0M114.5 366.4h0M114.8 366.8h0M114.9 361.2h0M114.9 364.1h0M115.0 360.1h0M115.0 368.6h0M115.3 366.7h0M115.4 363.3h0M115.6 361.2h0M115.8 367.0h0M116.0 364.4h0M116.1 364.9h0M116.2 366.7h0M116.5 361.9h0M116.7 366.0h0M116.7 366.0h0M116.9 361.1h0M117.1 363.4h0M117.5 362.0h0M117.6 365.3h0M117.7 367.1h0M118.0 363.6h0M118.1 366.0h0M118.4 364.6h0M118.7 367.4h0M118.9 363.5h0M119.1 365.9h0M119.3 367.6h0M119.6 363.8h0M119.9 361.5h0M120.1 366.3h0M120.3 363.6h0M120.4 368.2h0M120.8 366.1h0M120.9 367.3h0M121.2 366.5h0M121.3 366.5h0M121.5 361.4h0M121.9 366.9h0M122.0 364.3h0M122.3 365.9h0M122.4 363.3h0M122.6 366.5h0M122.7 364.8h0M122.8 361.9h0M123.0 357.5h0M123.1 367.5h0M123.2 358.4h0M123.4 364.8h0M123.6 367.9h0M123.6 361.3h0M123.8 369.1h0M123.8 361.4h0M123.9 364.1h0M124.0 367.1h0M124.4 365.2h0M124.6 367.9h0M124.7 362.5h0M125.0 368.0h0M125.1 361.8h0M125.2 364.5h0M125.5 365.3h0M125.6 368.5h0M125.8 369.6h0M125.9 361.4h0M126.0 364.0h0M126.2 366.7h0M126.3 368.6h0M126.6 363.6h0M126.7 365.8h0M127.1 363.6h0M127.2 366.0h0M127.8 362.4h0M128.0 367.8h0M128.2 364.8h0M128.3 362.1h0M128.5 368.1h0M128.7 369.7h0M128.9 365.3h0M129.1 362.1h0M129.4 370.1h0M129.5 363.4h0M129.8 366.5h0M129.9 363.4h0M130.3 365.6h0M130.5 367.6h0M130.7 367.2h0M130.9 364.3h0M131.0 365.9h0M131.1 360.6h0M131.4 366.9h0M131.5 363.9h0M131.8 366.4h0M131.9 368.0h0M132.1 366.9h0M132.2 367.4h0M132.5 363.7h0M132.7 364.2h0M132.9 362.8h0M133.3 365.7h0M133.4 364.5h0M133.5 361.1h0M133.7 365.0h0M133.9 367.5h0M134.3 360.3h0M134.4 363.6h0M134.4 355.6h0M134.5 369.5h0M134.5 352.6h0M134.6 366.8h0M134.8 369.1h0M134.8 357.7h0M134.9 369.8h0M135.0 363.4h0M135.2 366.0h0M135.2 360.1h0M135.3 359.1h0M135.4 366.4h0M135.5 361.5h0M135.8 365.6h0M135.9 364.6h0M136.0 361.9h0M136.4 365.5h0M136.5 362.2h0M136.7 344.5h0M136.8 367.0h0M136.9 364.9h0M137.0 365.9h0M137.5 363.8h0M137.6 364.1h0M138.0 366.4h0M138.1 362.3h0M138.2 367.1h0M138.9 365.8h0M139.0 364.0h0M139.2 362.9h0M139.4 368.0h0M139.6 365.3h0M139.8 365.2h0M140.0 361.9h0M140.0 358.6h0M140.1 369.0h0M140.1 354.8h0M140.3 361.9h0M140.5 366.4h0M140.5 358.9h0M140.8 365.8h0M140.8 361.7h0M140.9 367.3h0M141.2 364.6h0M141.3 367.2h0M141.5 362.8h0M141.9 366.6h0M141.9 365.2h0M142.1 366.9h0M142.1 362.8h0M142.4 367.5h0M142.7 368.8h0M142.8 367.3h0M142.9 364.1h0M143.1 366.7h0M143.2 364.2h0M143.6 360.3h0M143.7 365.6h0M143.9 363.0h0M144.3 361.9h0M144.5 367.0h0M144.7 368.8h0M144.9 367.5h0M145.1 364.6h0M145.2 361.1h0M145.5 366.2h0M145.6 364.3h0M145.9 366.4h0M146.2 362.0h0M146.3 364.7h0M146.6 364.4h0M146.7 367.3h0M146.8 368.9h0M146.9 361.1h0M147.0 364.3h0M147.1 366.7h0M147.1 355.5h0M147.2 367.2h0M147.3 358.6h0M147.5 358.1h0M147.6 364.4h0M147.7 361.9h0M147.8 366.8h0M147.9 369.6h0M148.0 361.9h0M148.3 366.5h0M148.4 367.9h0M148.6 365.5h0M148.8 368.5h0M149.0 362.5h0M149.2 365.2h0M149.4 362.6h0M149.5 367.8h0M149.6 365.9h0M149.8 362.7h0M149.9 366.5h0M150.2 361.1h0M150.3 363.7h0M150.6 366.6h0M151.1 364.7h0M151.2 367.7h0M151.4 365.5h0M151.7 366.4h0M151.8 362.9h0M151.9 363.7h0M152.1 368.5h0M152.5 365.9h0M152.7 365.8h0M152.9 362.7h0M153.0 365.8h0M153.1 361.8h0M153.2 358.7h0M153.3 368.1h0M153.6 360.7h0M153.7 363.1h0M153.9 365.5h0M154.3 370.1h0M154.4 365.4h0M154.5 362.5h0M154.6 365.9h0M154.6 363.6h0M155.0 361.3h0M155.0 366.4h0M155.1 362.7h0M155.2 365.1h0M155.5 368.7h0M155.9 370.1h0M156.1 363.6h0M156.2 363.3h0M156.6 367.0h0M156.9 363.6h0M157.1 370.1h0M157.3 367.9h0M157.4 360.3h0M157.7 363.3h0M157.8 366.5h0M158.0 364.8h0M158.1 369.4h0M158.2 367.2h0M158.9 368.0h0M158.9 363.8h0M159.1 356.7h0M159.2 364.4h0M159.3 367.9h0M159.4 359.2h0M159.6 365.0h0M159.6 360.7h0M159.7 363.5h0M160.1 360.3h0M160.2 367.4h0M160.5 364.7h0M160.6 367.4h0M160.6 363.4h0M160.9 366.0h0M161.0 360.3h0M161.3 366.3h0M161.3 363.9h0M161.4 368.7h0M161.6 369.2h0M161.7 368.3h0M162.0 360.5h0M162.2 365.3h0M162.4 367.3h0M162.5 364.9h0M162.8 362.0h0M163.0 364.2h0M163.3 366.2h0M163.6 365.9h0M163.8 363.5h0M163.9 366.8h0M163.9 363.0h0M164.0 366.3h0M164.2 359.5h0M164.4 368.9h0M164.6 361.5h0M164.7 367.3h0M164.9 364.0h0M165.1 363.6h0M165.1 366.6h0M165.5 366.0h0M165.6 362.5h0M165.9 365.0h0M166.0 368.6h0M166.1 360.3h0M166.2 362.7h0M166.3 366.1h0M166.3 366.0h0M166.7 364.1h0M166.9 368.6h0M167.3 366.0h0M167.5 363.6h0M167.6 366.4h0M167.9 363.5h0M168.3 366.8h0M168.5 364.1h0M168.7 368.3h0M168.8 367.3h0M168.9 367.9h0M169.4 364.3h0M169.5 364.6h0M169.6 367.2h0M169.9 362.0h0M170.0 365.1h0M170.1 358.1h0M170.3 365.6h0M170.3 360.5h0M170.6 360.8h0M170.7 365.5h0M170.9 363.1h0M171.2 369.9h0M171.4 362.0h0M171.4 364.6h0M171.5 369.1h0M171.7 365.5h0M171.9 364.8h0M172.0 362.1h0M172.2 368.0h0M172.2 363.4h0M172.3 366.3h0M173.0 367.2h0M173.1 361.5h0M173.2 364.3h0M173.5 367.5h0M173.6 368.1h0M173.8 364.2h0M173.9 363.6h0M174.0 366.2h0M174.4 367.5h0M174.6 368.8h0M174.8 364.8h0M175.0 366.4h0M175.1 361.1h0M175.3 365.2h0M175.5 370.1h0M175.9 364.8h0M176.1 360.3h0M176.2 366.7h0M176.3 368.7h0M176.5 363.6h0M176.6 366.7h0M176.9 361.9h0M177.0 367.2h0M177.1 368.1h0M177.4 365.1h0M177.7 361.9h0M177.8 365.4h0M177.9 367.5h0M178.2 358.1h0M178.2 367.3h0M178.2 358.4h0M178.5 360.7h0M178.7 363.1h0M178.9 360.8h0M179.1 367.5h0M179.3 363.6h0M179.5 363.9h0M179.8 367.8h0M180.2 362.5h0M180.2 365.5h0M180.3 367.7h0M180.5 366.8h0M180.8 365.7h0M180.9 363.0h0M181.0 363.0h0M181.3 366.0h0M181.4 365.8h0M181.6 363.6h0M181.7 366.8h0M181.8 366.9h0M182.1 367.4h0M182.2 364.6h0M182.6 365.1h0M182.9 362.5h0M183.0 368.3h0M183.3 364.8h0M183.4 362.2h0M183.6 366.5h0M183.7 367.9h0M184.0 367.0h0M184.1 361.9h0M184.5 363.2h0M184.6 367.6h0M184.8 365.6h0M185.0 366.2h0M185.2 363.2h0M185.4 363.3h0M185.7 365.9h0M185.8 366.4h0M186.0 367.5h0M186.1 362.3h0M186.2 357.3h0M186.4 365.5h0M186.6 360.7h0M186.8 367.4h0M186.9 363.2h0M186.9 367.6h0M187.0 364.1h0M187.1 367.5h0M187.5 367.5h0M187.7 362.5h0M187.7 365.9h0M187.9 368.0h0M188.1 366.6h0M188.5 366.2h0M188.6 363.8h0M188.7 365.5h0M188.8 366.4h0M188.9 361.8h0M189.5 362.3h0M189.7 363.2h0M190.0 363.0h0M190.1 365.7h0M190.3 368.8h0M190.5 367.9h0M190.7 365.8h0M190.8 362.8h0M191.2 366.9h0M191.3 362.7h0M191.5 368.0h0M191.6 366.4h0M191.7 360.9h0M192.0 368.5h0M192.3 367.3h0M192.4 361.3h0M192.6 365.7h0M192.8 366.2h0M193.0 361.4h0M193.1 360.3h0M193.4 370.1h0M193.5 363.9h0M193.6 367.0h0M193.9 364.5h0M194.2 368.7h0M194.6 365.9h0M194.7 362.1h0M194.8 368.7h0M195.0 369.4h0M195.1 363.2h0M195.5 364.8h0M195.6 368.4h0M195.9 365.9h0M196.0 368.5h0M196.6 361.8h0M196.7 367.6h0M197.0 365.5h0M197.2 364.8h0M197.4 362.5h0M197.5 368.7h0M197.6 363.0h0M198.0 367.8h0M198.2 362.1h0M198.5 364.8h0M198.6 366.3h0M198.9 364.2h0M199.3 366.2h0M199.5 363.8h0M199.9 370.1h0M200.1 364.1h0M200.3 368.3h0M200.5 360.7h0M200.9 365.0h0M201.0 370.1h0M201.3 367.8h0M201.4 364.7h0M201.5 360.3h0M201.8 367.4h0M201.9 365.6h0M202.2 367.6h0M202.3 361.9h0M202.5 367.6h0M202.6 368.3h0M202.9 362.8h0M203.0 367.0h0M203.3 367.1h0M203.4 362.6h0M203.5 366.9h0M203.9 363.3h0M204.1 365.7h0M204.2 361.1h0M204.5 364.3h0M204.9 368.9h0M205.0 361.9h0M205.0 364.5h0M205.1 357.2h0M205.2 362.8h0M205.3 352.0h0M205.3 368.2h0M205.4 355.7h0M205.4 368.8h0M205.5 358.6h0M205.8 359.5h0M206.0 363.7h0M206.2 368.6h0M206.3 359.5h0M206.4 366.0h0M206.6 362.8h0M206.8 365.1h0M206.9 367.0h0M207.0 367.1h0M207.2 364.4h0M207.4 363.3h0M207.4 370.1h0M207.7 365.8h0M207.8 369.6h0M208.0 365.2h0M208.1 362.8h0M208.2 366.7h0M208.6 365.9h0M208.9 363.6h0M209.3 367.7h0M209.4 363.6h0M209.6 364.0h0M209.6 359.0h0M209.7 369.6h0M209.8 345.1h0M210.0 368.4h0M210.0 348.6h0M210.1 368.0h0M210.1 349.2h0M210.3 364.9h0M210.4 362.1h0M210.4 353.2h0M210.5 355.6h0M210.7 356.9h0M210.9 365.4h0M211.1 367.8h0M211.1 359.6h0M211.2 368.2h0M211.2 358.4h0M211.3 360.8h0M211.5 368.3h0M211.6 365.6h0M211.6 363.1h0M211.9 364.5h0M212.0 369.2h0M212.1 367.3h0M212.2 360.9h0M212.4 365.4h0M212.6 362.8h0M212.9 362.1h0M213.1 367.1h0M213.2 330.7h0M213.2 311.0h0M213.2 347.1h0M213.2 340.1h0M213.3 364.4h0M213.6 363.6h0M213.7 366.8h0M213.9 366.0h0M214.1 363.2h0M214.4 367.3h0M214.7 365.7h0M214.8 364.5h0M215.1 365.7h0M215.2 361.2h0M215.3 368.7h0M215.6 364.0h0M215.8 368.1h0M216.3 361.8h0M216.4 365.6h0M216.6 367.8h0M216.8 368.1h0M217.0 362.8h0M217.2 366.3h0M217.5 366.7h0M217.8 363.0h0M217.9 364.0h0M218.2 360.7h0M218.2 358.1h0M218.4 359.4h0M218.6 363.8h0M218.8 370.1h0M219.1 361.7h0M219.2 367.9h0M219.4 364.9h0M219.4 367.7h0M219.6 362.0h0M219.9 364.3h0M219.9 367.6h0M220.0 366.9h0M220.2 363.5h0M220.4 367.8h0M220.6 366.2h0M220.6 362.2h0M221.0 369.9h0M221.1 369.1h0M221.2 367.2h0M221.4 364.9h0M221.7 360.7h0M221.8 365.8h0M222.2 363.7h0M222.3 364.4h0M222.6 366.7h0M222.9 363.2h0M223.0 366.7h0M223.3 367.7h0M223.4 363.2h0M223.5 360.3h0M223.8 369.8h0M224.1 364.8h0M224.2 367.1h0M224.5 366.2h0M224.6 364.1h0M225.1 362.8h0M225.3 365.5h0M225.4 367.3h0M225.9 365.7h0M225.9 370.1h0M226.0 362.6h0M226.2 360.7h0M226.3 356.8h0M226.3 369.4h0M226.5 365.3h0M226.7 360.5h0M226.9 368.8h0M227.1 363.6h0M227.1 366.0h0M227.4 362.6h0M227.5 365.4h0M227.6 367.6h0M228.0 364.9h0M228.0 365.6h0M228.1 361.5h0M228.4 365.2h0M228.6 367.5h0M228.8 362.1h0M228.9 365.8h0M229.2 368.4h0M229.7 365.1h0M229.8 367.7h0M230.0 363.8h0M230.1 366.3h0M230.6 369.8h0M230.8 363.8h0M231.0 365.8h0M231.2 366.5h0M231.6 367.3h0M231.7 362.0h0M231.8 365.2h0M232.2 362.7h0M232.5 365.1h0M232.6 368.2h0M232.9 365.9h0M233.0 368.2h0M233.2 363.2h0M233.3 360.7h0M233.5 364.3h0M233.7 367.9h0M234.0 362.4h0M234.1 370.1h0M234.3 368.6h0M234.3 365.2h0M234.5 361.7h0M234.7 370.1h0M234.7 355.5h0M234.9 364.2h0M235.0 358.5h0M235.3 361.0h0M235.3 366.2h0M235.5 360.7h0M235.6 365.9h0M235.7 366.0h0M235.9 363.6h0M236.0 368.1h0M236.2 364.2h0M236.3 367.1h0M236.4 361.8h0M236.5 366.0h0M236.6 363.0h0M236.8 365.3h0M237.1 360.5h0M237.3 364.7h0M237.5 366.6h0M237.7 360.7h0M237.9 363.4h0M238.0 364.8h0M238.3 363.5h0M238.5 367.3h0M238.7 366.8h0M238.9 365.4h0M239.1 364.8h0M239.2 362.2h0M239.4 367.1h0M239.6 364.2h0M239.8 368.3h0M239.9 365.6h0M240.1 358.1h0M240.2 367.8h0M240.2 354.6h0M240.3 349.1h0M240.4 362.5h0M240.5 352.4h0M240.7 367.4h0M240.9 356.8h0M241.0 365.3h0M241.0 356.9h0M241.2 368.3h0M241.4 368.0h0M241.4 360.6h0M241.5 367.2h0M241.6 364.8h0M241.7 361.6h0M241.8 367.2h0M242.2 368.1h0M242.2 362.7h0M242.3 366.3h0M242.6 368.0h0M242.7 364.4h0M243.0 361.9h0M243.1 366.5h0M243.3 363.9h0M243.5 361.1h0M243.6 369.8h0M243.8 363.7h0M244.0 367.6h0M244.3 366.3h0M244.4 362.3h0M244.6 365.6h0M244.8 366.3h0M245.0 365.6h0M245.3 361.2h0M245.4 363.0h0M245.5 366.8h0M245.8 366.1h0M245.9 365.2h0M246.1 360.3h0M246.2 363.9h0M246.3 356.7h0M246.5 359.6h0M246.6 366.0h0M246.9 362.7h0M247.0 362.3h0M247.1 365.5h0M247.1 364.8h0M247.5 370.1h0M247.8 365.5h0M247.9 363.1h0M248.3 366.4h0M248.5 364.3h0M248.7 365.3h0M249.0 360.3h0M249.1 370.1h0M249.3 367.0h0M249.4 365.1h0M249.5 361.5h0M249.8 368.1h0M249.9 360.3h0M250.1 364.5h0M250.2 367.1h0M250.6 364.9h0M250.8 370.1h0M251.0 362.3h0M251.2 365.8h0M251.3 368.3h0M251.4 365.1h0M251.6 367.5h0M251.8 362.7h0M252.0 368.2h0M252.1 368.6h0M252.4 364.3h0M252.6 362.7h0M252.7 339.1h0M252.7 330.1h0M252.7 345.1h0M252.7 337.1h0M252.7 350.1h0M252.7 354.1h0M252.7 328.1h0M252.7 306.4h0M252.7 314.4h0M252.7 320.7h0M252.9 366.5h0M253.0 366.3h0M253.2 362.1h0M253.4 365.2h0M253.8 364.8h0M254.0 366.5h0M254.4 363.7h0M254.5 366.1h0M254.8 360.7h0M255.0 364.6h0M255.2 367.2h0M255.3 364.9h0M255.6 365.7h0M255.8 364.2h0M256.0 361.3h0M256.1 369.2h0M256.4 364.5h0M256.5 366.6h0M257.2 365.8h0M257.3 370.1h0M257.5 363.0h0M257.6 365.7h0M258.1 368.3h0M258.2 360.4h0M258.4 356.9h0M258.4 363.7h0M258.5 358.1h0M258.7 366.4h0M258.8 369.4h0M258.9 360.8h0M259.1 365.7h0M259.3 365.7h0M259.6 363.3h0M259.6 362.3h0M259.8 366.0h0M260.0 364.7h0M260.3 368.8h0M260.4 366.7h0M260.7 363.9h0M260.8 363.0h0M261.1 365.7h0M261.5 367.3h0M261.6 365.8h0M261.7 363.1h0M262.1 365.6h0M262.3 362.7h0M262.6 366.7h0M262.8 363.2h0M263.0 363.9h0M263.2 366.2h0M263.4 367.0h0M263.5 364.9h0M263.6 362.4h0M263.8 368.3h0M264.0 366.1h0M264.2 365.9h0M264.3 363.0h0M264.4 357.2h0M264.5 360.3h0M264.7 367.4h0M264.8 365.3h0M265.0 360.3h0M265.1 362.9h0M265.2 366.0h0M265.5 363.4h0M265.6 370.1h0M265.8 368.3h0M265.9 365.5h0M265.9 368.1h0M266.2 362.2h0M266.3 363.4h0M266.3 367.0h0M266.4 365.8h0M266.8 366.1h0M267.0 364.2h0M267.5 364.3h0M267.6 366.4h0M267.8 361.1h0M268.0 361.6h0M268.2 364.2h0M268.3 366.3h0M268.6 365.0h0M268.9 368.6h0M269.1 367.1h0M269.3 361.9h0M269.7 363.4h0M269.9 366.8h0M270.2 365.0h0M270.3 364.4h0M270.5 361.0h0M271.0 365.8h0M271.1 361.4h0M271.1 368.9h0M271.3 364.1h0M271.3 353.1h0M271.4 369.4h0M271.5 357.2h0M271.5 366.4h0M271.8 358.2h0M271.8 366.9h0M272.2 362.4h0M272.2 368.9h0M272.3 364.5h0M272.6 360.3h0M272.7 362.9h0M272.9 362.5h0M272.9 366.8h0M273.1 365.4h0M273.4 363.8h0M273.7 366.0h0M273.8 361.4h0M273.9 366.8h0M274.1 362.1h0M274.2 364.9h0M274.8 362.7h0M274.9 364.7h0M275.0 362.9h0M275.2 370.1h0M275.7 362.9h0M275.8 360.3h0M276.1 365.9h0M276.2 362.0h0M276.4 365.2h0M276.6 365.1h0M276.9 366.2h0M277.0 366.1h0M277.2 363.7h0M277.3 367.1h0M277.4 364.2h0M277.7 366.7h0M278.0 362.4h0M278.1 366.5h0M278.5 362.8h0M278.6 367.0h0M278.9 360.3h0M279.0 332.9h0M279.0 346.7h0M279.0 354.1h0M279.0 366.8h0M279.2 369.6h0M279.4 364.0h0M279.7 366.3h0M279.8 367.1h0M280.0 365.3h0M280.1 362.8h0M280.3 366.8h0M280.5 362.3h0M280.8 365.8h0M280.9 365.2h0M281.2 366.9h0M281.5 364.9h0M281.6 362.3h0M281.9 368.2h0M282.0 369.4h0M282.1 365.1h0M282.3 365.1h0M282.4 368.3h0M282.5 368.3h0M282.8 366.7h0M283.1 366.4h0M283.2 363.4h0M283.5 364.9h0M283.6 364.2h0M283.7 360.6h0M283.9 363.4h0M284.0 365.9h0M284.0 366.3h0M284.3 357.3h0M284.4 366.1h0M284.4 356.4h0M284.7 367.0h0M284.7 359.5h0M284.8 362.0h0M284.9 365.2h0M285.1 364.4h0M285.1 361.6h0M285.6 362.6h0M285.8 369.8h0M285.9 365.0h0M286.3 369.2h0M286.3 365.6h0M286.4 363.1h0M286.6 366.3h0M286.7 363.5h0M287.1 367.5h0M287.2 362.1h0M287.4 365.1h0M287.5 368.6h0M287.9 363.3h0M288.0 365.9h0M288.0 360.3h0M288.3 367.7h0M288.4 357.1h0M288.4 364.2h0M288.7 360.0h0M289.0 360.5h0M289.0 367.3h0M289.1 363.2h0M289.1 367.1h0M289.5 363.8h0M289.5 361.3h0M289.6 367.6h0M289.8 366.8h0M289.9 363.3h0M289.9 367.5h0M290.3 365.8h0M290.4 363.3h0M290.6 360.7h0M290.7 366.1h0M291.0 362.8h0M291.1 366.7h0M291.2 365.4h0M291.7 361.4h0M291.8 366.8h0M292.0 365.2h0M292.1 364.9h0M292.2 358.9h0M292.3 353.3h0M292.4 350.7h0M292.6 364.1h0M292.7 354.4h0M292.9 366.8h0M293.0 358.7h0M293.0 361.9h0M293.1 364.4h0M293.2 359.5h0M293.3 364.5h0M293.7 367.8h0M293.8 361.6h0M293.8 366.6h0M293.9 364.1h0M294.1 367.9h0M294.3 362.9h0M294.3 360.3h0M294.5 365.9h0M294.6 368.0h0M294.9 364.0h0M295.1 365.8h0M295.3 361.3h0M295.5 362.3h0M295.7 368.6h0M295.8 364.8h0M295.9 368.6h0M296.1 365.2h0M296.2 361.6h0M296.3 370.0h0M296.5 363.1h0M296.6 366.5h0M296.7 368.9h0M297.0 362.6h0M297.1 367.4h0M297.3 365.3h0M297.4 359.1h0M297.6 362.9h0M297.6 360.5h0M297.8 367.3h0M298.1 366.6h0M298.1 363.6h0M298.2 368.8h0M298.6 367.8h0M298.8 361.7h0M298.9 367.8h0M299.2 364.4h0M299.4 361.8h0M299.5 366.3h0M299.7 365.2h0M299.8 356.4h0M299.8 362.7h0M299.9 351.2h0M300.0 347.1h0M300.2 366.6h0M300.3 352.9h0M300.6 356.5h0M300.6 368.1h0M300.8 364.5h0M300.9 366.5h0M301.0 357.9h0M301.3 360.9h0M301.3 365.5h0M301.4 365.6h0M301.5 359.8h0M301.9 362.8h0M302.1 362.2h0M302.1 367.4h0M302.2 367.2h0M302.6 364.4h0M303.0 366.8h0M303.0 362.0h0M303.2 367.4h0M303.3 364.4h0M303.6 361.1h0M303.9 362.7h0M304.1 366.5h0M304.3 368.4h0M304.4 364.4h0M304.7 367.7h0M304.8 364.3h0M304.9 361.6h0M305.1 367.0h0M305.3 370.1h0M305.6 366.9h0M305.9 363.0h0M306.0 365.6h0M306.3 369.0h0M306.4 366.4h0M306.5 360.3h0M306.7 368.2h0M306.8 363.3h0M306.9 366.9h0M307.1 364.2h0M307.3 366.6h0M307.5 365.6h0M307.6 363.2h0M307.7 368.2h0M308.1 366.7h0M308.3 364.1h0M308.4 369.3h0M308.7 366.0h0M308.8 366.0h0M309.1 362.7h0M309.2 365.7h0M309.5 368.1h0M309.8 362.9h0M309.9 366.4h0M310.2 367.4h0M310.3 366.0h0M310.4 362.6h0M310.6 367.7h0M310.8 366.5h0M311.0 361.9h0M311.1 366.9h0M311.4 367.6h0M311.5 369.0h0M311.8 362.7h0M311.9 363.2h0M312.2 366.7h0M312.3 366.0h0M312.7 364.6h0M312.8 358.6h0M312.8 366.6h0M312.9 351.5h0M313.0 368.9h0M313.0 349.7h0M313.1 365.1h0M313.3 355.7h0M313.4 361.2h0M313.5 362.4h0M313.6 356.3h0M313.9 359.1h0M313.9 365.7h0M314.0 367.5h0M314.2 360.8h0M314.4 364.1h0M314.6 365.5h0M314.8 362.5h0M314.9 366.1h0M315.0 365.9h0M315.2 363.6h0M315.5 366.0h0M315.7 369.0h0M315.9 366.9h0M316.2 364.2h0M316.3 366.4h0M316.5 363.4h0M316.6 366.0h0M316.9 364.3h0M317.0 367.8h0M317.3 367.6h0M317.5 367.0h0M317.7 363.9h0M317.9 370.1h0M318.3 365.7h0M318.5 367.0h0M318.6 362.7h0M318.9 366.1h0M319.0 367.0h0M319.1 364.3h0M319.9 365.0h0M320.0 331.7h0M320.0 328.1h0M320.0 319.1h0M320.0 343.7h0M320.0 354.1h0M320.0 339.1h0M320.0 350.1h0M320.1 361.4h0M320.5 362.9h0M320.6 365.7h0M320.9 365.0h0M321.0 363.0h0M321.3 366.3h0M321.6 364.2h0M322.1 368.6h0M322.2 364.3h0M322.4 366.0h0M322.5 366.0h0M322.8 362.6h0M322.9 366.6h0M323.3 365.2h0M323.4 365.2h0M323.7 365.7h0M323.8 361.2h0M324.1 361.9h0M324.2 364.4h0M324.4 366.6h0M324.6 364.1h0M324.8 366.2h0M325.2 364.2h0M325.3 368.3h0M325.8 366.4h0M326.0 362.3h0M326.1 366.1h0M326.4 369.3h0M326.5 361.5h0M326.7 367.7h0M326.9 361.3h0M327.1 364.6h0M327.2 368.2h0M327.3 367.5h0M327.5 361.5h0M327.6 364.0h0M327.9 362.9h0M328.1 369.0h0M328.3 365.4h0M328.5 364.3h0M328.8 366.5h0M329.1 368.2h0M329.2 362.7h0M329.5 366.0h0M329.6 368.7h0M329.7 363.6h0M329.8 360.6h0M330.0 352.6h0M330.0 367.9h0M330.1 351.1h0M330.1 354.0h0M330.4 356.5h0M330.5 365.6h0M330.8 358.1h0M330.9 365.0h0M331.1 361.1h0M331.1 368.5h0M331.2 360.8h0M331.5 368.2h0M331.6 364.4h0M331.9 365.9h0M332.0 367.4h0M332.1 363.4h0M332.3 366.7h0M332.5 363.0h0M332.8 367.5h0M333.0 362.7h0M333.1 365.2h0M333.3 364.2h0M333.5 361.7h0M333.6 366.3h0M334.0 365.4h0M334.2 363.0h0M334.3 370.1h0M334.7 362.0h0M334.7 365.0h0M335.0 368.3h0M335.1 357.1h0M335.2 366.3h0M335.4 364.0h0M335.4 360.2h0M335.5 369.0h0M335.5 361.5h0M335.9 366.7h0M336.0 364.3h0M336.2 366.4h0M336.3 362.1h0M336.6 365.4h0M336.8 361.8h0M337.0 367.2h0M337.0 364.3h0M337.4 364.1h0M337.4 366.4h0M337.5 360.7h0M337.8 368.1h0M338.0 364.2h0M338.2 361.9h0M338.3 363.9h0M338.7 364.9h0M338.9 363.7h0M339.3 365.8h0M339.4 364.8h0M339.5 368.8h0M340.1 367.3h0M340.3 361.6h0M340.7 362.6h0M340.9 367.8h0M341.0 365.0h0M341.1 361.8h0M341.3 364.6h0M341.4 368.9h0M341.7 364.9h0M341.9 362.2h0M341.9 367.9h0M342.1 358.1h0M342.1 358.8h0M342.2 364.3h0M342.5 361.5h0M342.6 367.6h0M342.7 362.1h0M342.7 369.7h0M342.9 364.8h0M343.0 367.8h0M343.2 361.8h0M343.3 366.3h0M343.7 365.9h0M343.8 363.1h0M343.9 367.0h0M344.5 364.3h0M344.8 367.4h0M344.9 370.1h0M345.0 362.5h0M345.2 365.7h0M345.4 363.1h0M345.6 365.7h0M346.0 367.7h0M346.1 360.7h0M346.2 365.6h0M346.9 364.3h0M347.0 367.7h0M347.2 362.2h0M347.3 366.4h0M347.4 364.5h0M347.8 364.3h0M348.0 366.8h0M348.1 361.8h0M348.5 368.4h0M348.6 362.6h0M348.8 367.3h0M348.9 361.3h0M349.1 364.2h0M349.3 365.9h0M349.4 357.4h0M349.4 363.5h0M349.5 355.1h0M349.6 360.8h0M349.8 359.6h0M349.9 367.9h0M350.0 365.5h0M350.2 362.3h0M350.4 362.3h0M350.8 367.6h0M350.9 369.2h0M351.1 362.9h0M351.4 365.5h0M351.5 369.6h0M351.6 360.3h0M351.7 364.5h0M352.4 366.6h0M352.5 363.7h0M352.8 363.7h0M352.9 366.3h0M353.3 362.0h0M353.5 368.5h0M353.6 367.4h0M353.7 366.9h0M353.9 363.6h0M354.1 368.6h0M354.3 366.6h0M354.4 363.2h0M354.9 363.0h0M355.1 367.7h0M355.2 366.3h0M355.3 364.6h0M355.5 361.6h0M355.8 365.0h0M355.9 366.9h0M356.0 364.2h0M356.2 367.4h0M356.4 363.4h0M356.6 360.3h0M356.6 355.9h0M356.8 352.0h0M357.0 356.7h0M357.2 368.0h0M357.3 359.7h0M357.4 365.0h0M357.5 362.5h0M357.6 370.1h0M357.7 361.0h0M357.8 363.4h0M358.2 360.4h0M358.4 365.8h0M358.5 363.5h0M358.6 368.5h0M358.6 362.8h0M359.0 367.8h0M359.0 365.9h0M359.5 362.4h0M359.6 365.7h0M359.6 364.8h0M359.9 364.1h0M359.9 366.5h0M360.2 361.0h0M360.4 368.1h0M360.6 361.1h0M360.7 363.4h0M360.8 365.1h0M361.0 362.2h0M361.2 365.2h0M361.4 362.2h0M361.5 365.7h0M361.7 366.0h0M362.1 367.4h0M362.2 364.7h0M362.7 367.2h0M362.9 365.9h0M363.0 363.0h0M363.1 366.2h0M363.3 367.0h0M363.5 363.7h0M363.8 368.1h0M363.9 362.1h0M363.9 365.6h0M364.0 356.6h0M364.1 352.1h0M364.2 367.9h0M364.3 354.4h0M364.4 356.7h0M364.6 364.5h0M364.7 367.4h0M364.9 358.7h0M365.0 364.0h0M365.1 361.1h0M365.3 361.8h0M365.3 365.0h0M365.5 366.1h0M366.1 366.2h0M366.2 362.5h0M366.2 365.3h0M366.3 370.1h0M366.5 363.4h0M366.7 365.7h0M366.9 368.0h0M367.0 367.3h0M367.1 363.9h0M367.1 361.4h0M367.4 365.3h0M367.6 369.8h0M367.7 361.2h0M367.8 368.5h0M368.1 367.2h0M368.4 364.5h0M368.5 367.6h0M368.5 355.9h0M368.7 344.7h0M368.8 367.5h0M368.9 347.2h0M369.0 364.3h0M369.1 349.3h0M369.2 351.8h0M369.3 364.1h0M369.5 355.8h0M369.6 368.1h0M369.8 361.7h0M369.9 359.2h0M370.0 365.2h0M370.0 356.5h0M370.1 368.8h0M370.2 367.5h0M370.4 368.1h0M370.4 359.9h0M370.7 362.4h0M370.9 360.3h0M371.0 363.9h0M371.2 366.5h0M371.4 360.8h0M371.6 363.8h0M371.7 365.7h0M371.8 367.8h0M372.0 370.1h0M372.0 364.3h0M372.2 362.0h0M372.4 360.3h0M372.4 364.0h0M372.6 367.6h0M372.7 367.0h0M372.9 364.2h0M372.9 367.0h0M373.7 365.5h0M374.0 369.6h0M374.3 363.1h0M374.4 366.4h0M374.5 369.3h0M374.8 367.7h0M374.9 364.7h0M375.1 367.3h0M375.2 364.0h0M375.3 366.8h0M375.7 368.3h0M376.0 364.1h0M376.1 367.3h0M376.3 361.7h0M376.5 370.1h0M376.7 366.5h0M377.1 367.2h0M377.2 364.5h0M377.3 366.9h0M377.6 364.5h0M377.9 365.3h0M378.0 361.7h0M378.1 369.9h0M378.2 368.1h0M378.3 357.1h0M378.4 361.8h0M378.5 367.8h0M378.6 343.1h0M378.7 365.4h0M378.7 348.1h0M379.0 351.8h0M379.1 363.5h0M379.2 360.3h0M379.4 356.4h0M379.5 366.0h0M379.5 356.6h0M379.6 367.6h0M379.8 363.8h0M380.0 360.5h0M380.0 366.3h0M380.1 359.5h0M380.2 364.8h0M380.4 361.9h0M380.4 366.0h0M380.6 361.1h0M380.7 368.9h0M380.8 363.5h0M381.2 363.6h0M381.4 366.6h0M381.6 368.6h0M381.9 354.9h0M382.0 367.3h0M382.1 347.4h0M382.1 364.9h0M382.2 342.0h0M382.2 362.4h0M382.3 365.6h0M382.4 346.2h0M382.6 366.7h0M382.6 349.8h0M382.7 363.0h0M382.9 352.9h0M383.0 369.0h0M383.1 364.3h0M383.2 355.8h0M383.2 361.9h0M383.4 362.8h0M383.4 358.1h0M383.6 368.0h0M383.8 365.4h0M383.9 368.0h0M384.0 359.6h0M384.0 365.9h0M384.2 362.6h0M384.7 364.6h0M384.9 361.8h0M385.0 366.8h0M385.0 362.9h0M385.3 365.6h0M385.5 365.2h0M385.6 363.1h0M385.8 367.7h0M386.1 365.5h0M386.1 360.0h0M386.1 365.1h0M386.2 368.9h0M386.4 358.7h0M386.5 362.2h0M386.8 361.7h0M386.8 364.3h0M387.0 366.7h0M387.3 363.4h0M387.4 369.1h0M387.5 366.0h0M387.8 362.9h0M387.9 366.2h0M388.2 366.0h0M388.4 366.3h0M388.6 363.5h0M388.7 368.0h0M389.0 362.9h0M389.1 365.9h0M389.3 365.5h0M389.4 365.4h0M389.8 364.0h0M389.9 361.7h0M390.1 366.8h0M390.2 363.1h0M390.5 366.8h0M390.6 365.3h0M390.8 370.1h0M390.9 362.2h0M391.3 368.2h0M391.4 364.7h0M391.6 362.2h0M391.7 367.7h0M391.8 363.3h0M392.1 367.1h0M392.2 363.8h0M392.5 366.3h0M392.8 365.8h0M393.2 362.9h0M393.3 361.9h0M393.4 369.0h0M393.6 366.2h0M394.0 365.2h0M394.1 364.8h0M394.2 362.2h0M394.4 366.4h0M394.6 364.8h0M394.8 361.9h0M394.9 367.3h0M395.2 366.1h0M395.3 363.3h0M395.6 367.8h0M395.7 364.6h0M396.2 368.5h0M396.4 360.9h0M396.5 365.7h0M396.7 365.0h0M396.8 361.7h0M397.1 366.3h0M397.3 363.4h0M397.5 366.2h0M397.6 367.6h0M397.7 365.7h0M397.9 368.9h0M398.3 368.2h0M398.4 363.8h0M398.7 366.3h0M398.9 368.5h0M399.0 364.3h0M399.1 367.7h0M399.2 360.1h0M399.3 365.7h0M399.4 361.8h0M399.7 364.2h0M399.9 367.2h0M399.9 362.5h0M400.3 365.6h0M400.6 363.1h0M400.7 360.5h0M400.8 366.0h0M401.1 365.7h0M401.3 361.3h0M401.5 370.1h0M401.6 365.6h0M401.9 361.5h0M402.0 366.7h0M402.3 364.6h0M402.6 368.2h0M402.8 363.5h0M403.0 368.3h0M403.1 366.1h0M403.2 365.1h0M403.4 370.1h0M403.8 366.1h0M403.9 364.7h0M404.3 364.1h0M404.7 366.3h0M405.0 367.2h0M405.1 366.0h0M405.4 364.7h0M405.6 367.7h0M405.8 361.2h0M405.9 366.3h0M406.0 361.6h0M406.0 370.1h0M406.2 356.1h0M406.3 368.7h0M406.4 359.2h0M406.6 366.2h0M406.7 359.3h0M406.7 368.9h0M406.8 368.6h0M406.9 363.0h0M407.2 361.5h0M407.4 366.9h0M407.5 364.5h0M407.6 361.7h0M407.9 364.2h0M408.0 366.5h0M408.5 368.4h0M408.5 364.7h0M408.6 360.3h0M408.7 368.0h0M408.9 364.0h0M409.4 365.2h0M409.7 362.9h0M409.8 367.1h0M409.9 364.0h0M410.1 368.2h0M410.5 366.2h0M410.6 367.2h0M410.7 363.3h0M411.0 368.3h0M411.1 363.1h0M411.4 365.6h0M411.5 362.7h0M411.7 360.3h0M411.9 366.1h0M412.1 366.7h0M412.3 366.1h0M412.5 362.6h0M412.6 366.7h0M412.7 367.8h0M412.9 363.8h0M413.0 357.3h0M413.1 364.5h0M413.3 347.3h0M413.4 350.3h0M413.4 366.1h0M413.5 352.9h0M413.5 362.1h0M413.7 355.9h0M413.7 368.4h0M413.8 363.4h0M414.1 358.3h0M414.2 358.4h0M414.4 361.3h0M414.5 365.3h0M414.6 368.3h0M414.8 365.9h0M414.9 362.9h0M415.0 360.3h0M415.4 363.4h0M415.7 366.6h0M416.0 369.4h0M416.1 366.6h0M416.2 363.7h0M416.5 362.4h0M416.6 365.5h0M416.6 366.9h0M417.3 363.9h0M417.4 368.1h0M417.6 370.1h0M418.0 365.6h0M418.2 370.0h0M418.4 364.5h0M418.6 365.0h0M419.0 366.6h0M419.2 362.6h0M419.3 365.1h0M419.4 368.2h0M419.9 368.2h0M420.0 366.2h0M420.2 362.2h0M420.2 360.1h0M420.4 365.6h0M420.6 362.5h0M420.8 364.5h0M420.9 367.8h0M421.1 362.1h0M421.5 365.0h0M421.6 362.4h0M421.7 370.1h0M421.9 366.5h0M422.1 364.2h0M422.3 370.1h0M422.4 370.1h0M422.7 366.0h0M422.8 368.0h0M422.9 362.7h0M423.2 368.2h0M423.3 363.8h0M423.6 362.4h0M423.9 366.7h0M424.1 362.4h0M424.4 369.1h0M424.5 365.6h0M424.7 364.0h0M424.9 366.2h0M425.2 361.3h0M425.5 364.8h0M425.6 367.1h0M425.9 367.5h0M426.0 364.2h0M426.2 361.5h0M426.3 368.1h0M426.4 364.1h0M427.1 367.6h0M427.2 366.8h0M427.5 361.6h0M427.6 365.6h0M427.9 366.2h0M428.0 365.6h0M428.0 361.5h0M428.3 356.1h0M428.7 364.7h0M429.0 368.1h0M429.0 361.0h0M429.1 362.0h0M429.4 368.6h0M429.5 367.1h0M429.6 365.7h0M429.8 360.3h0M429.9 363.0h0M430.0 365.5h0M430.3 369.5h0M430.5 366.2h0M430.6 363.5h0M430.7 362.8h0M430.7 366.3h0M431.2 364.7h0M431.7 367.4h0M431.8 362.3h0M431.9 365.6h0M432.2 368.6h0M432.5 365.9h0M432.6 363.4h0M432.7 366.1h0M433.0 363.8h0M433.4 366.5h0M433.5 362.7h0M433.7 367.1h0M433.9 369.3h0M434.1 368.4h0M434.3 363.8h0M434.5 370.1h0M434.6 366.6h0M434.9 364.3h0M435.3 366.5h0M435.4 363.4h0M435.5 367.9h0M435.7 365.9h0M435.8 363.1h0M435.9 367.4h0M436.2 366.9h0M436.3 364.0h0M436.6 361.7h0M436.7 366.0h0M437.0 365.6h0M437.1 360.3h0M437.3 365.1h0M437.7 367.8h0M438.0 368.6h0M438.1 368.7h0M438.2 362.6h0M438.4 363.5h0M438.8 365.6h0M438.9 360.3h0M439.0 366.5h0M439.2 359.5h0M439.3 356.7h0M439.3 363.0h0M439.4 367.3h0M439.6 359.2h0M439.7 367.7h0M439.9 364.1h0M440.0 363.0h0M440.1 367.7h0M440.1 360.2h0M440.5 365.6h0M440.7 366.3h0M440.8 363.2h0M441.0 369.0h0M441.3 365.6h0M441.4 366.1h0M441.6 363.3h0M441.7 364.9h0M441.8 363.8h0M442.0 360.3h0M442.2 366.8h0M442.5 364.9h0M442.6 362.0h0M442.8 363.9h0M442.9 366.9h0M443.3 368.5h0M443.6 364.4h0M443.7 367.7h0M443.9 361.4h0M444.0 366.4h0M444.7 365.4h0M444.8 365.8h0M445.2 368.9h0M445.3 366.7h0M445.7 362.8h0M445.9 366.5h0M446.0 365.3h0M446.1 367.0h0M446.3 356.7h0M446.4 370.1h0M446.5 359.7h0M446.5 362.4h0M446.6 359.0h0M446.7 365.3h0M446.8 367.3h0M446.9 362.2h0M447.2 360.8h0M447.3 363.9h0M447.6 365.4h0M448.0 364.2h0M448.0 367.9h0M448.1 368.2h0M448.5 365.4h0M448.8 363.1h0M448.8 368.0h0M449.1 364.5h0M449.5 364.3h0M449.9 368.1h0M450.0 367.7h0M450.2 362.1h0M450.3 364.9h0M450.6 364.2h0M450.7 367.0h0M451.1 365.1h0M451.4 366.3h0M451.5 362.0h0M451.8 363.0h0M451.9 368.8h0M452.0 365.5h0M452.2 366.0h0M452.2 361.7h0M452.3 359.1h0M452.4 364.1h0M453.0 368.6h0M453.0 362.6h0M453.1 365.6h0M453.3 365.8h0M453.7 364.1h0M453.8 368.5h0M453.9 370.1h0M454.0 362.7h0M454.1 365.7h0M454.3 366.7h0M454.4 366.5h0M454.4 363.3h0M454.9 360.3h0M455.0 366.6h0M455.3 365.0h0M455.7 370.1h0M455.8 365.6h0M456.1 364.1h0M456.2 366.0h0M456.6 363.3h0M456.9 366.2h0M457.0 366.8h0M457.1 366.2h0M457.3 363.8h0M457.5 360.3h0M457.7 361.8h0M457.8 365.1h0M457.8 356.1h0M457.9 333.1h0M457.9 348.7h0M458.0 353.7h0M458.1 367.7h0M458.2 358.1h0M458.3 367.3h0M458.5 364.3h0M458.5 360.9h0M458.9 360.5h0M459.0 368.4h0M459.1 363.8h0M459.3 363.6h0M459.5 365.9h0M459.7 370.1h0M459.8 363.5h0M459.9 360.8h0M460.0 365.8h0M460.5 366.2h0M460.8 363.8h0M460.9 361.2h0M461.2 363.6h0M461.3 367.6h0M461.4 367.5h0M461.6 363.4h0M462.0 366.9h0M462.1 361.7h0M462.4 369.3h0M462.5 365.1h0M462.8 365.3h0M462.9 362.7h0M463.0 367.3h0M463.3 365.6h0M463.6 367.0h0M463.7 361.2h0M463.8 366.3h0M464.0 364.0h0M464.4 363.4h0M464.5 367.3h0M464.9 364.7h0M465.0 365.5h0M465.3 360.3h0M465.4 363.4h0M465.7 366.9h0M465.8 368.3h0M466.0 363.3h0M466.1 369.5h0M466.1 360.0h0M466.3 348.7h0M466.3 345.5h0M466.4 366.4h0M466.5 349.8h0M466.7 364.0h0M466.8 368.4h0M466.8 353.1h0M467.1 365.1h0M467.2 367.9h0M467.2 355.7h0M467.3 369.1h0M467.5 362.1h0M467.5 358.2h0M467.6 365.0h0M467.6 359.1h0M467.9 369.3h0M468.0 370.1h0M468.0 362.2h0M468.1 365.3h0M468.3 361.1h0M468.5 367.9h0M468.8 367.2h0M469.1 360.3h0M469.1 363.0h0M469.2 363.2h0M469.3 365.9h0M469.5 367.1h0M469.6 360.5h0M469.9 365.4h0M470.0 360.3h0M470.1 363.0h0M470.1 366.6h0M470.3 367.7h0M470.3 358.1h0M470.4 364.1h0M470.5 367.1h0M470.7 360.5h0M470.8 368.5h0M470.9 362.1h0M471.1 364.9h0M471.3 367.5h0M471.7 364.9h0M471.7 362.4h0M471.9 366.5h0M472.1 366.7h0M472.1 369.5h0M472.3 361.6h0M472.4 364.2h0M472.7 367.1h0M473.0 364.0h0M473.1 369.0h0M473.2 369.3h0M473.5 363.3h0M473.6 367.9h0M473.8 363.7h0M473.9 370.1h0M474.4 365.4h0M474.5 361.9h0M474.6 367.9h0M474.7 356.1h0M474.8 364.4h0M475.0 370.1h0M475.1 358.9h0M475.1 367.1h0M475.4 364.2h0M475.6 368.4h0M475.7 360.8h0M475.9 362.6h0M475.9 365.6h0M476.2 368.2h0M476.4 363.8h0M476.4 367.4h0M476.7 366.4h0M477.1 363.1h0M477.3 365.5h0M477.4 370.1h0M477.6 366.9h0M477.8 362.6h0M477.9 366.5h0M478.2 367.2h0M478.3 365.4h0M478.5 363.0h0M478.6 367.9h0M478.9 363.3h0M479.0 365.7h0M479.1 363.4h0M479.3 366.4h0M479.7 367.0h0M479.9 367.6h0M480.1 361.2h0M480.1 364.4h0M480.2 369.0h0M480.4 359.5h0M480.5 365.0h0M480.7 362.7h0M480.7 366.7h0M480.8 360.9h0M481.1 363.4h0M481.1 367.8h0M481.6 363.2h0M481.7 367.9h0M481.8 365.6h0M482.0 366.2h0M482.3 363.9h0M482.3 368.8h0M482.4 363.3h0M482.9 366.8h0M483.0 368.8h0M483.1 365.5h0M483.4 368.0h0M483.5 362.8h0M484.0 365.5h0M484.4 369.3h0M484.5 364.0h0M484.6 365.1h0M484.8 367.9h0M485.3 367.3h0M485.4 365.5h0M485.8 365.7h0M486.0 361.9h0M486.2 363.0h0M486.4 368.2h0M486.6 366.2h0M486.9 365.1h0M487.0 362.8h0M487.2 356.7h0M487.3 349.4h0M487.4 344.1h0M487.4 361.9h0M487.6 346.9h0M487.6 366.9h0M487.7 370.1h0M487.8 349.6h0M488.0 354.2h0M488.0 365.5h0M488.2 356.8h0M488.2 365.4h0M488.4 361.7h0M488.5 359.5h0M488.5 366.8h0M488.6 356.9h0M488.9 362.6h0M489.0 360.5h0M489.3 367.3h0M489.4 364.5h0M489.7 362.7h0M489.9 365.6h0M490.0 360.3h0M490.1 362.6h0M490.3 366.2h0M490.4 360.3h0M490.5 367.9h0M490.9 367.9h0M491.0 364.4h0M491.1 361.7h0M491.2 361.3h0M491.5 366.7h0M491.6 365.0h0M491.7 365.4h0M491.7 364.1h0M492.4 366.0h0M492.7 363.1h0M492.8 369.3h0M492.9 362.5h0M493.3 359.7h0M493.3 366.1h0M493.4 360.1h0M493.5 366.4h0M493.6 362.6h0M493.7 368.4h0M494.0 361.3h0M494.0 370.1h0M494.1 366.2h0M494.2 363.9h0M494.5 370.1h0M494.7 368.9h0M494.8 363.1h0M494.9 365.9h0M495.0 363.8h0M495.1 368.2h0M495.6 367.2h0M495.8 365.4h0M635.6 367.9h0M635.7 365.6h0M635.9 368.8h0M636.0 365.7h0M636.1 368.8h0M636.5 363.7h0M636.7 367.4h0M636.8 366.8h0M637.1 366.9h0M637.2 366.3h0M637.3 363.9h0M637.5 363.4h0M637.7 366.4h0M637.9 369.3h0M638.0 370.4h0M638.4 367.2h0M638.7 364.6h0M638.8 360.9h0M639.0 367.7h0M639.1 367.3h0M639.2 366.0h0M639.5 368.1h0M639.9 365.4h0M640.2 367.7h0M640.3 370.7h0M640.4 364.0h0M640.6 367.1h0M640.8 365.0h0M641.0 370.7h0M641.4 364.7h0M641.5 367.9h0M641.8 362.3h0M642.0 367.8h0M642.2 365.9h0M642.7 366.0h0M642.8 363.4h0M643.1 363.8h0M643.4 367.7h0M643.6 368.4h0M643.8 366.7h0M644.0 360.1h0M644.0 363.9h0M644.1 359.5h0M644.2 366.1h0M644.5 367.6h0M644.5 362.7h0M644.8 366.5h0M645.0 362.2h0M645.1 366.1h0M645.4 363.8h0M645.5 367.3h0M645.7 361.0h0M646.1 368.1h0M646.1 367.6h0M646.2 365.1h0M646.3 364.4h0M646.6 367.9h0M646.7 370.7h0M646.9 370.6h0M647.0 365.4h0M647.1 368.9h0M647.4 363.6h0M647.5 367.5h0M647.7 368.8h0M647.8 360.9h0M647.9 368.8h0M648.1 364.1h0M648.2 369.4h0M648.3 366.4h0M648.6 369.0h0M648.7 365.2h0M648.9 370.5h0M649.3 363.5h0M649.4 367.1h0M649.8 368.3h0M649.9 367.6h0M650.2 368.3h0M650.6 363.7h0M650.8 367.5h0M651.0 363.7h0M651.4 366.3h0M651.7 363.6h0M652.0 360.9h0M652.1 365.1h0M652.2 368.1h0M652.5 368.4h0M652.6 366.0h0M653.0 364.8h0M653.3 367.9h0M653.6 363.9h0M653.7 361.1h0M653.8 363.7h0M654.0 362.9h0M654.4 367.8h0M654.5 368.4h0M654.6 363.9h0M654.9 367.0h0M655.2 364.8h0M655.3 361.6h0M655.4 367.3h0M655.8 362.7h0M656.1 366.6h0M656.4 363.0h0M656.7 367.5h0M656.8 368.4h0M656.9 365.4h0M656.9 368.6h0M657.1 350.1h0M657.1 354.1h0M657.1 337.5h0M657.1 361.1h0M657.3 362.7h0M657.3 366.3h0M657.5 367.2h0M658.1 367.3h0M658.3 364.0h0M658.6 367.4h0M658.7 368.9h0M658.8 363.7h0M659.0 363.8h0M659.1 368.3h0M659.3 367.7h0M659.5 362.6h0M659.6 365.2h0M659.9 369.1h0M660.0 367.8h0M660.1 362.2h0M660.5 367.5h0M660.8 368.1h0M660.9 367.2h0M661.1 364.5h0M661.5 367.5h0M661.6 363.0h0M662.0 368.4h0M662.2 364.0h0M662.3 366.6h0M662.4 363.5h0M662.6 368.0h0M662.8 365.0h0M663.0 363.6h0M663.5 368.3h0M663.6 363.6h0M663.8 366.3h0M663.9 367.6h0M664.2 361.0h0M664.3 366.8h0M664.4 362.1h0M664.5 345.1h0M664.7 365.5h0M664.8 366.3h0M665.1 364.2h0M665.2 367.9h0M665.5 369.9h0M665.6 363.7h0M666.0 369.5h0M666.0 366.9h0M666.4 369.6h0M666.4 370.0h0M666.6 365.4h0M666.8 369.5h0M667.0 364.4h0M667.1 367.4h0M667.2 361.7h0M667.4 368.2h0M667.6 369.7h0M667.6 365.0h0M668.0 369.8h0M668.1 364.6h0M668.2 368.3h0M668.3 370.7h0M668.5 368.0h0M668.7 364.4h0M668.9 364.1h0M669.1 367.7h0M669.2 369.6h0M669.4 367.9h0M669.6 369.8h0M669.8 364.0h0M669.9 363.5h0M670.0 370.0h0M670.3 366.0h0M670.4 369.6h0M670.5 363.1h0M670.8 370.2h0M670.9 365.9h0M671.0 360.9h0M671.2 369.8h0M671.3 364.9h0M671.4 367.7h0M671.6 370.4h0M671.8 364.9h0M672.0 370.6h0M672.1 367.8h0M672.2 365.1h0M672.4 370.0h0M672.8 370.5h0M673.0 361.8h0M673.1 365.2h0M673.2 369.9h0M673.4 367.2h0M673.6 363.6h0M673.6 369.6h0M673.8 364.6h0M673.9 362.0h0M674.0 370.2h0M674.0 359.3h0M674.1 356.1h0M674.4 366.0h0M674.4 370.0h0M674.4 361.7h0M674.6 357.7h0M674.8 370.7h0M674.9 367.9h0M675.1 365.4h0M675.2 369.6h0M675.4 362.6h0M675.6 369.1h0M675.6 371.3h0M675.8 365.4h0M675.8 362.7h0M676.0 370.9h0M676.0 364.7h0M676.4 370.6h0M676.5 363.2h0M676.5 375.8h0M676.5 374.4h0M676.6 368.8h0M676.8 365.7h0M677.2 364.0h0M677.2 371.6h0M677.3 361.4h0M677.4 378.6h0M677.4 368.8h0M677.5 326.1h0M677.5 344.1h0M677.7 377.2h0M677.7 364.7h0M678.1 214.0h0M678.2 220.0h0M678.2 363.9h0M678.3 226.6h0M678.4 284.4h0M678.4 233.6h0M678.5 370.2h0M678.5 239.1h0M678.6 289.3h0M678.6 243.6h0M678.6 370.7h0M678.7 250.1h0M678.7 338.8h0M678.8 365.2h0M678.8 291.4h0M678.8 256.0h0M678.9 261.5h0M678.9 367.1h0M679.0 316.3h0M679.0 267.0h0M679.1 272.5h0M679.2 285.5h0M679.2 322.2h0M679.2 278.0h0M679.3 286.7h0M679.3 283.5h0M679.4 289.8h0M679.4 296.1h0M679.6 293.9h0M679.8 297.8h0M679.9 348.7h0M680.0 293.7h0M680.0 304.7h0M680.1 284.8h0M680.1 290.4h0M680.2 351.6h0M680.3 287.5h0M680.3 300.4h0M680.5 304.9h0M680.5 284.1h0M680.6 289.2h0M680.6 296.5h0M680.6 298.9h0M680.7 293.5h0M680.8 308.2h0M680.9 314.1h0M681.0 303.5h0M681.1 310.0h0M681.1 297.8h0M681.2 314.6h0M681.3 294.6h0M681.4 306.1h0M681.4 312.5h0M681.6 305.4h0M681.6 311.1h0M681.6 316.2h0M681.8 313.8h0M681.8 295.9h0M681.9 301.6h0M682.0 305.4h0M682.1 310.0h0M682.2 302.9h0M682.2 312.5h0M682.4 318.8h0M682.4 327.0h0M682.6 328.6h0M682.7 307.0h0M682.7 303.1h0M682.7 324.7h0M682.8 315.1h0M682.8 332.9h0M682.8 320.2h0M682.8 311.8h0M683.1 328.9h0M683.1 314.3h0M683.2 338.8h0M683.3 323.8h0M683.3 316.8h0M683.5 331.5h0M683.6 320.2h0M683.7 341.9h0M683.7 334.3h0M683.8 322.8h0M683.8 327.7h0M683.8 319.7h0M683.9 347.0h0M684.1 339.5h0M684.1 325.3h0M684.2 330.9h0M684.2 343.0h0M684.2 322.9h0M684.2 335.0h0M684.3 346.0h0M684.3 325.8h0M684.3 340.4h0M684.4 349.6h0M684.7 355.6h0M684.8 335.7h0M684.8 343.0h0M684.8 347.1h0M684.9 339.3h0M685.0 349.6h0M685.1 353.0h0M685.3 354.3h0M685.3 340.4h0M685.5 336.4h0M685.5 347.7h0M685.5 343.5h0M685.6 355.2h0M685.8 360.4h0M685.9 351.0h0M685.9 355.7h0M686.0 353.3h0M686.1 362.8h0M686.3 348.5h0M686.4 354.3h0M686.6 359.3h0M686.7 361.8h0M686.8 366.1h0M687.0 362.4h0M687.0 360.0h0M687.2 368.5h0M687.3 365.2h0M687.5 370.1h0M687.6 368.5h0M687.7 360.1h0M688.0 364.2h0M688.4 368.0h0M688.6 366.3h0M688.8 355.3h0M689.0 363.7h0M689.1 327.4h0M689.1 365.2h0M689.1 344.9h0M689.2 312.4h0M689.2 347.1h0M689.2 363.1h0M689.3 326.1h0M689.5 352.4h0M689.5 338.2h0M689.6 320.9h0M689.7 362.7h0M689.7 307.9h0M689.8 313.9h0M689.8 342.8h0M689.8 345.8h0M689.8 322.4h0M690.0 338.2h0M690.1 353.2h0M690.2 333.2h0M690.3 353.2h0M690.3 332.2h0M690.5 321.2h0M690.5 314.3h0M690.6 344.0h0M690.6 318.3h0M690.6 353.6h0M690.7 338.3h0M690.7 349.6h0M690.8 329.7h0M690.8 341.6h0M690.8 342.5h0M690.9 345.3h0M691.0 351.3h0M691.0 331.6h0M691.1 339.5h0M691.1 348.7h0M691.3 358.5h0M691.3 355.8h0M691.4 347.8h0M691.4 332.9h0M691.5 353.5h0M691.6 355.7h0M691.6 350.6h0M691.6 338.1h0M692.2 358.1h0M692.3 355.1h0M692.3 360.8h0M692.3 361.7h0M692.4 352.8h0M692.4 346.4h0M692.5 348.5h0M692.5 352.8h0M692.7 358.1h0M692.8 362.2h0M693.0 355.5h0M693.0 363.6h0M693.1 357.2h0M693.3 366.7h0M693.4 363.1h0M693.5 359.6h0M693.5 368.8h0M693.7 365.0h0M693.9 362.5h0M694.1 367.9h0M694.5 363.6h0M694.6 366.2h0M694.7 368.6h0M694.9 366.9h0M695.1 364.1h0M695.4 365.1h0M695.5 362.3h0M695.7 365.0h0M695.8 368.1h0M696.2 364.5h0M696.5 367.1h0M696.6 368.8h0M696.7 364.2h0M697.2 363.1h0M697.3 365.6h0M697.6 363.9h0M697.8 367.9h0M698.0 367.3h0M698.1 364.4h0M698.5 367.1h0M698.8 363.0h0M698.9 366.5h0M699.4 367.7h0M699.6 364.7h0M699.7 366.1h0M699.9 363.2h0M700.1 357.8h0M700.1 367.6h0M700.2 356.7h0M700.3 359.9h0M700.4 366.7h0M700.5 366.3h0M700.6 363.4h0M700.9 360.9h0M701.0 366.4h0M701.2 364.4h0M701.4 363.4h0M701.6 365.0h0M702.1 363.8h0M702.2 368.8h0M702.5 364.8h0M702.6 370.4h0M702.8 367.3h0M702.8 370.7h0M702.9 368.4h0M703.1 368.3h0M703.2 364.5h0M703.6 364.8h0M703.7 367.8h0M704.0 362.1h0M704.1 368.2h0M704.2 347.2h0M704.4 357.3h0M704.5 344.6h0M704.5 349.9h0M704.6 348.5h0M704.7 350.9h0M705.8 355.0h0M705.9 359.0h0M706.1 359.1h0M706.4 362.4h0M706.4 355.1h0M706.7 364.7h0M706.8 366.4h0M707.0 357.3h0M707.1 360.9h0M707.2 365.9h0M707.3 366.7h0M707.7 369.5h0M707.9 366.9h0M708.1 367.9h0M708.3 363.8h0M708.4 364.3h0M708.6 366.6h0M708.8 367.8h0M709.1 369.7h0M709.2 363.5h0M709.4 367.3h0M709.6 368.8h0M709.8 364.5h0M709.9 367.4h0M710.0 360.9h0M710.2 364.2h0M710.3 369.3h0M710.7 367.7h0M710.8 370.7h0M711.0 363.4h0M711.2 364.8h0M711.4 367.3h0M711.6 362.4h0M711.8 362.5h0M712.0 366.2h0M712.2 367.6h0M712.3 362.3h0M712.7 367.6h0M712.8 366.8h0M713.1 363.6h0M713.2 366.2h0M713.4 364.8h0M713.5 367.7h0M713.6 369.6h0M713.9 363.4h0M714.0 370.7h0M714.3 367.0h0M714.7 366.0h0M714.9 366.4h0M715.0 362.6h0M715.1 364.3h0M715.5 366.2h0M715.7 366.7h0M715.8 361.9h0M716.1 364.4h0M716.5 370.1h0M716.6 365.0h0M716.7 365.3h0M716.9 362.5h0M717.0 369.8h0M717.4 364.4h0M717.5 366.0h0M717.8 368.4h0M717.9 364.1h0M718.5 366.5h0M718.6 367.9h0M719.0 365.9h0M719.1 367.8h0M719.4 366.5h0M719.8 364.3h0M719.9 361.9h0M720.2 369.0h0M720.5 367.1h0M720.6 369.0h0M720.9 368.6h0M721.0 361.4h0M721.3 366.1h0M721.6 367.2h0M721.7 367.3h0M722.1 364.0h0M722.4 365.1h0M722.5 362.4h0M722.6 367.9h0M722.8 363.3h0M722.9 364.7h0M723.3 367.0h0M723.4 332.6h0M723.4 221.8h0M723.4 279.1h0M723.4 338.0h0M723.4 304.0h0M723.4 310.0h0M723.4 318.0h0M723.4 291.2h0M723.4 324.2h0M723.4 296.6h0M723.4 350.0h0M723.4 60.0h0M723.4 142.0h0M723.4 245.4h0M723.4 261.6h0M723.4 211.8h0M723.4 356.0h0M723.4 344.0h0M723.6 362.7h0M724.0 362.5h0M724.1 367.8h0M724.2 368.3h0M724.4 362.7h0M724.5 369.2h0M724.6 369.7h0M725.0 365.2h0M725.2 367.6h0M725.3 360.9h0M725.4 355.0h0M725.4 349.0h0M725.4 328.0h0M725.4 336.0h0M725.4 343.0h0M725.6 365.0h0M725.8 367.7h0M726.0 360.9h0M726.1 365.7h0M726.5 368.2h0M726.7 367.4h0M726.8 364.1h0M726.9 367.3h0M727.2 367.4h0M727.3 346.7h0M727.3 340.7h0M727.3 99.5h0M727.3 353.7h0M727.3 320.8h0M727.3 330.0h0M727.3 254.0h0M727.3 306.8h0M727.5 365.4h0M727.7 362.4h0M727.9 365.1h0M728.1 367.8h0M728.3 368.5h0M728.5 361.0h0M728.7 366.3h0M728.9 363.8h0M729.1 370.7h0M729.3 363.6h0M729.6 366.4h0M729.7 369.2h0M729.9 366.4h0M730.0 363.1h0M730.3 369.8h0M730.4 362.0h0M730.7 368.3h0M730.9 365.3h0M731.1 363.9h0M731.3 366.9h0M731.5 366.3h0M731.9 368.6h0M732.0 366.1h0M732.2 367.8h0M732.3 365.1h0M732.4 369.6h0M732.7 367.3h0M732.8 363.7h0M733.0 366.2h0M733.1 360.9h0M733.4 366.2h0M733.5 363.9h0M733.9 369.7h0M734.0 365.9h0M734.2 362.4h0M734.3 360.9h0M734.4 365.5h0M734.7 368.2h0M734.8 366.0h0M735.1 364.3h0M735.4 366.0h0M735.8 370.2h0M736.0 366.9h0M736.2 368.1h0M736.4 364.4h0M736.6 362.3h0M736.8 366.6h0M736.9 367.3h0M737.1 366.6h0M737.2 356.7h0M737.4 368.6h0M737.4 361.3h0M737.5 364.2h0M737.6 360.2h0M737.7 370.7h0M737.8 370.7h0M738.1 365.5h0M738.1 362.9h0M738.2 366.4h0M738.3 362.8h0M738.5 365.9h0M738.8 363.4h0M738.9 366.3h0M739.0 370.3h0M739.3 366.5h0M739.4 363.3h0M739.5 369.3h0M739.8 362.6h0M740.1 366.5h0M740.3 366.8h0M740.5 366.0h0M740.6 363.5h0M740.9 366.9h0M741.0 365.7h0M741.4 365.6h0M741.5 368.8h0M741.7 363.1h0M742.1 366.7h0M742.2 367.7h0M742.6 367.5h0M742.9 365.4h0M743.1 368.0h0M743.4 366.5h0M743.7 361.6h0M743.8 364.1h0M743.9 367.1h0M744.1 368.0h0M744.2 368.4h0M744.2 358.1h0M744.4 366.2h0M744.4 361.7h0M744.7 358.9h0M744.8 368.0h0M744.8 364.2h0M744.9 367.5h0M745.0 361.3h0M745.5 363.1h0M745.6 368.0h0M745.7 366.5h0M745.8 370.5h0M745.9 362.9h0M746.1 368.0h0M746.3 365.3h0M746.4 367.3h0M746.4 365.6h0M746.6 362.8h0M747.0 368.6h0M747.3 362.9h0M747.4 366.0h0M747.6 367.1h0M747.7 363.2h0M747.8 370.0h0M748.1 368.1h0M748.2 367.3h0M748.4 364.3h0M748.8 365.1h0M748.9 367.5h0M749.2 362.1h0M749.3 366.0h0M749.6 365.3h0M749.9 365.6h0M750.0 368.0h0M750.3 364.7h0M750.4 369.4h0M750.5 367.4h0M751.0 360.5h0M751.1 366.0h0M751.2 357.3h0M751.2 363.7h0M751.3 354.1h0M751.3 355.1h0M751.3 369.6h0M751.5 368.5h0M751.7 359.8h0M751.7 363.7h0M751.9 365.7h0M752.0 360.1h0M752.1 362.5h0M752.3 367.3h0M752.5 365.3h0M752.8 362.9h0M752.8 369.1h0M753.1 369.8h0M753.2 363.2h0M753.5 365.7h0M753.5 368.1h0M753.6 366.8h0M753.7 363.5h0M753.9 369.3h0M754.1 366.1h0M754.3 360.9h0M754.5 363.9h0M754.7 367.4h0M755.1 364.7h0M755.2 367.9h0M755.4 364.6h0M755.6 360.9h0M755.8 366.9h0M755.9 364.5h0M756.0 362.1h0M756.4 367.3h0M756.6 361.2h0M756.7 364.9h0M757.0 366.9h0M757.2 370.1h0M757.4 364.0h0M757.8 369.4h0M757.9 366.6h0M758.2 363.4h0M758.3 367.2h0M758.4 366.6h0M758.6 363.6h0M759.0 367.2h0M759.1 365.6h0M759.2 368.6h0M759.4 368.8h0M759.8 368.2h0M759.9 369.2h0M760.0 364.9h0M760.3 370.0h0M760.4 367.4h0M760.6 365.1h0M760.8 370.7h0M761.1 364.6h0M761.3 368.0h0M761.4 365.2h0M761.7 362.6h0M761.9 364.6h0M762.1 369.2h0M762.3 363.0h0M762.7 368.6h0M763.1 364.3h0M763.1 367.2h0M763.2 360.8h0M763.3 370.4h0M763.3 358.1h0M763.5 357.8h0M763.5 367.9h0M763.7 361.5h0M763.9 364.4h0M764.1 368.5h0M764.1 363.0h0M764.2 365.7h0M764.5 363.2h0M764.7 365.8h0M764.9 368.9h0M765.1 365.9h0M765.1 369.5h0M765.5 363.3h0M765.9 365.5h0M766.1 364.3h0M766.2 363.8h0M766.3 369.3h0M766.5 367.9h0M766.9 362.6h0M767.0 367.3h0M767.3 370.2h0M767.4 362.2h0M767.6 366.8h0M767.8 364.9h0M768.0 370.5h0M768.2 368.2h0M768.4 364.2h0M768.6 368.3h0M768.9 370.0h0M768.9 366.3h0M769.2 361.1h0M769.2 357.6h0M769.3 354.1h0M769.4 369.9h0M769.5 357.5h0M769.6 359.8h0M769.7 367.7h0M769.8 364.7h0M770.0 360.3h0M770.3 363.4h0M770.4 365.4h0M770.6 362.0h0M770.8 367.6h0M770.9 366.8h0M771.0 364.3h0M771.2 361.5h0M771.3 367.3h0M771.6 367.6h0M771.6 364.8h0M771.7 368.5h0M771.9 364.9h0M772.1 367.6h0M772.2 365.4h0M772.4 361.6h0M772.5 367.3h0M772.8 364.7h0M772.9 367.1h0M773.3 367.6h0M773.6 362.3h0M773.7 365.5h0M774.0 367.7h0M774.3 362.0h0M774.4 365.0h0M774.5 360.9h0M774.7 368.8h0M774.8 365.8h0M775.2 366.3h0M775.3 363.5h0M775.5 367.6h0M775.7 364.2h0M775.9 361.4h0M776.0 368.6h0M776.3 364.9h0M776.4 361.7h0M776.5 367.9h0M776.8 368.0h0M777.1 364.0h0M777.2 367.1h0M777.3 362.4h0M777.6 365.7h0M777.9 368.3h0M778.1 365.6h0M778.6 364.7h0M778.7 366.9h0M778.8 364.7h0M779.1 368.4h0M779.5 367.4h0M779.8 367.3h0M779.9 364.0h0M780.2 362.7h0M780.3 368.3h0M780.4 368.9h0M780.6 368.4h0M781.0 365.3h0M781.1 367.1h0M781.4 363.6h0M781.5 368.0h0M781.6 367.8h0M782.0 365.0h0M782.2 366.0h0M782.3 366.3h0M782.4 363.3h0M782.8 368.2h0M783.0 362.9h0M783.4 366.1h0M783.5 363.8h0M783.6 369.6h0M783.8 367.4h0M783.9 360.9h0M784.0 366.3h0M784.3 363.1h0M784.5 365.6h0M784.6 366.0h0M784.9 365.6h0M785.0 366.5h0M785.1 363.1h0M785.4 357.6h0M785.5 360.1h0M785.5 367.1h0M785.8 362.6h0M785.9 370.2h0M786.1 363.4h0M786.1 369.4h0M786.3 366.7h0M786.6 366.8h0M786.7 366.0h0M786.9 363.6h0M787.1 364.0h0M787.3 368.4h0M787.5 366.5h0M787.8 365.4h0M787.9 367.9h0M788.3 369.8h0M788.6 365.2h0M788.9 368.5h0M789.0 364.7h0M789.3 368.1h0M789.5 368.8h0M789.7 363.9h0M789.8 366.7h0M790.1 366.7h0M790.2 362.4h0M790.4 365.4h0M790.5 368.1h0M790.8 360.9h0M790.9 367.9h0M791.0 366.6h0M791.4 365.1h0M791.6 368.3h0M791.8 362.3h0M792.0 364.7h0M792.1 369.3h0M792.1 363.1h0M792.4 367.5h0M792.4 356.9h0M792.6 367.0h0M792.8 368.0h0M792.8 360.8h0M793.1 363.8h0M793.2 368.3h0M793.2 362.8h0M793.6 365.9h0M793.7 363.2h0M794.0 365.6h0M794.1 369.5h0M794.3 363.4h0M794.4 368.2h0M794.5 365.9h0M794.8 366.8h0M794.9 366.8h0M795.0 363.9h0M795.3 365.9h0M795.7 362.9h0M795.8 367.6h0M796.1 366.6h0M796.3 362.5h0M796.4 367.9h0M796.5 366.3h0M796.7 370.4h0M796.8 341.1h0M796.8 354.1h0M796.8 350.1h0M796.9 361.9h0M797.2 367.8h0M797.3 362.0h0M797.5 367.0h0M797.7 368.9h0M797.9 366.1h0M798.0 362.5h0M798.1 361.7h0M798.3 370.4h0M798.4 366.7h0M798.9 365.4h0M799.1 363.8h0M799.3 363.4h0M799.6 368.2h0M799.9 364.4h0M800.0 369.6h0M800.1 368.7h0M800.3 365.9h0M800.4 362.1h0M800.5 368.6h0M800.7 368.7h0M800.9 368.9h0M801.1 364.1h0M801.7 369.0h0M801.9 365.1h0M802.0 366.8h0M802.3 366.4h0M802.4 364.1h0M802.6 365.8h0M802.7 368.8h0M803.0 363.3h0M803.1 365.0h0M803.2 363.7h0M803.6 363.2h0M803.9 367.8h0M804.0 366.2h0M804.4 364.2h0M804.6 368.1h0M804.7 370.7h0M804.8 360.9h0M805.1 366.0h0M805.2 366.3h0M805.4 365.3h0M805.5 362.6h0M806.0 365.7h0M806.2 364.8h0M806.3 370.7h0M806.7 363.1h0M806.8 365.5h0M807.0 369.2h0M807.1 365.7h0M807.4 363.0h0M807.5 367.0h0M807.7 364.3h0M807.8 367.2h0M808.1 364.7h0M808.3 362.3h0M808.5 368.4h0M808.6 363.4h0M808.7 366.2h0M809.0 370.7h0M809.3 367.6h0M809.4 350.1h0M809.4 347.1h0M809.4 340.1h0M809.4 354.1h0M809.4 307.0h0M809.4 364.7h0M809.6 350.1h0M809.6 340.1h0M809.6 307.0h0M809.6 353.1h0M809.6 347.1h0M809.8 368.1h0M809.9 363.7h0M810.1 366.7h0M810.2 370.7h0M810.5 361.9h0M810.6 364.7h0M810.7 365.5h0M810.9 369.4h0M811.1 368.3h0M811.5 366.5h0M811.7 364.0h0M811.8 366.5h0M811.9 365.2h0M812.3 361.5h0M812.5 368.8h0M812.7 365.7h0M812.9 370.7h0M813.0 368.1h0M813.1 366.9h0M813.3 364.5h0M813.7 365.4h0M813.8 369.0h0M814.0 366.3h0M814.4 361.1h0M814.4 363.4h0M814.5 368.3h0M814.6 361.1h0M814.9 366.6h0M815.0 363.5h0M815.0 366.0h0M815.2 364.4h0M815.4 367.6h0M815.8 366.1h0M816.1 363.7h0M816.2 367.3h0M816.3 366.5h0M816.6 360.9h0M816.7 365.3h0M816.9 365.9h0M817.0 362.5h0M817.1 359.7h0M817.2 368.6h0M817.4 361.9h0M817.8 364.4h0M817.8 369.6h0M818.1 364.0h0M818.3 367.0h0M818.4 368.5h0M818.6 364.2h0M818.8 366.9h0M818.9 368.4h0M819.2 367.4h0M819.3 364.5h0M819.5 368.9h0M819.6 363.6h0M819.7 365.3h0M820.0 361.1h0M820.1 362.1h0M820.5 365.2h0M820.5 369.9h0M820.8 366.6h0M820.9 364.2h0M821.1 366.6h0M821.2 367.7h0M821.3 363.7h0M821.5 367.4h0M821.7 363.0h0M821.9 367.2h0M822.1 369.4h0M822.3 363.1h0M822.5 365.9h0M822.8 361.2h0M823.2 363.8h0M823.3 366.4h0M823.5 361.8h0M823.6 366.4h0M823.7 370.3h0M824.0 368.0h0M824.3 364.9h0M824.4 368.2h0M824.7 367.2h0M824.8 363.7h0M824.9 366.6h0M825.2 361.0h0M825.4 365.6h0M825.5 367.0h0M825.9 368.6h0M826.0 365.7h0M826.2 364.2h0M826.3 367.8h0M826.4 370.4h0M826.7 369.1h0M826.8 365.4h0M827.0 362.6h0M827.2 364.0h0M827.4 368.3h0M827.9 368.8h0M828.2 364.3h0M828.3 366.6h0M828.4 364.0h0M828.7 367.9h0M829.1 366.1h0M829.2 362.8h0M829.4 369.2h0M829.5 370.7h0M829.8 361.4h0M829.9 364.3h0M830.2 361.8h0M830.3 365.5h0M830.4 365.4h0M830.7 368.2h0M831.0 363.7h0M831.1 366.7h0M831.3 363.1h0M831.7 366.4h0M831.9 364.5h0M832.3 366.3h0M832.5 368.2h0M832.6 363.5h0M832.9 369.4h0M833.0 365.8h0M833.1 361.0h0M833.3 367.9h0M833.4 365.4h0M833.9 368.4h0M834.1 366.1h0M834.3 363.0h0M834.5 363.9h0M834.7 369.2h0M834.9 361.3h0M835.1 352.7h0M835.1 367.2h0M835.4 357.3h0M835.4 363.0h0M835.7 367.5h0M835.8 359.3h0M835.8 363.4h0M835.9 366.5h0M836.1 366.9h0M836.2 363.6h0M836.3 366.8h0M836.5 361.2h0M836.6 365.6h0M836.7 362.9h0M836.9 366.3h0M837.2 366.2h0M837.3 367.1h0M837.6 362.7h0M837.7 366.4h0M837.7 363.1h0M837.8 367.9h0M838.2 366.0h0M838.2 366.6h0M838.5 363.7h0M838.6 361.2h0M838.8 367.8h0M839.0 362.3h0M839.3 365.9h0M839.4 361.5h0M839.7 365.8h0M839.8 366.8h0M840.0 365.8h0M840.2 362.3h0M840.4 365.4h0M840.5 364.6h0M840.6 369.1h0M841.2 362.0h0M841.3 367.4h0M841.4 364.8h0M841.6 362.6h0M841.8 368.4h0M842.0 365.5h0M842.2 364.4h0M842.5 368.1h0M842.7 365.9h0M842.9 367.0h0M843.1 360.9h0M843.2 366.1h0M843.3 367.0h0M843.6 362.6h0M843.7 364.1h0M843.9 367.2h0M844.0 366.6h0M844.3 363.3h0M844.5 368.9h0M844.7 365.8h0M844.8 368.6h0M844.9 367.6h0M845.1 367.5h0M845.2 364.3h0M845.6 368.2h0M845.7 368.4h0M845.9 363.5h0M846.0 363.0h0M846.1 366.0h0M846.3 368.6h0M846.5 367.1h0M846.7 365.1h0M846.9 361.5h0M847.1 355.3h0M847.3 357.9h0M847.3 365.5h0M847.5 369.3h0M847.7 364.9h0M848.0 368.0h0M848.1 362.4h0M848.1 368.1h0M848.4 365.9h0M848.6 363.5h0M848.7 362.8h0M849.0 365.4h0M849.1 366.9h0M849.4 365.7h0M849.4 362.9h0M849.6 368.7h0M849.8 366.6h0M850.0 362.4h0M850.3 365.1h0M850.6 364.3h0M850.8 366.1h0M851.0 367.2h0M851.1 364.0h0M851.2 369.7h0M851.6 366.4h0M851.8 369.0h0M851.9 363.8h0M852.3 363.6h0M852.4 367.3h0M852.6 365.3h0M852.7 366.0h0M853.1 369.0h0M853.2 365.4h0M853.5 362.8h0M853.6 364.3h0M854.0 366.4h0M854.3 366.7h0M854.5 366.7h0M854.6 363.2h0M855.0 365.2h0M855.0 360.1h0M855.1 357.1h0M855.1 368.1h0M855.3 357.5h0M855.4 364.2h0M855.4 361.9h0M855.5 367.8h0M855.7 369.6h0M855.8 364.0h0M856.0 361.7h0M856.2 367.1h0M856.3 368.0h0M856.5 368.6h0M856.6 362.0h0M856.7 367.3h0M856.8 364.7h0M857.2 365.8h0M857.4 362.2h0M857.4 367.0h0M857.6 365.3h0M857.7 362.6h0M857.7 367.7h0M857.8 370.0h0M858.1 365.7h0M858.2 363.3h0M858.5 368.6h0M858.6 366.3h0M858.7 363.3h0M859.1 369.5h0M859.3 365.5h0M859.5 368.0h0M859.7 370.7h0M859.8 367.2h0M859.9 363.5h0M860.2 369.4h0M860.5 361.7h0M860.6 364.7h0M860.8 364.8h0M861.0 367.2h0M861.3 368.6h0M861.3 359.2h0M861.4 361.7h0M861.6 366.4h0M861.6 348.8h0M861.7 365.3h0M861.8 351.8h0M862.0 367.6h0M862.0 354.3h0M862.1 356.8h0M862.2 362.8h0M862.4 369.2h0M862.4 360.0h0M862.5 366.7h0M862.8 368.6h0M862.8 360.9h0M863.0 368.7h0M863.2 366.0h0M863.3 361.4h0M863.6 367.2h0M863.9 363.6h0M864.0 366.1h0M864.1 368.1h0M864.2 361.1h0M864.4 368.8h0M864.5 363.8h0M864.6 370.5h0M864.7 365.2h0M864.9 369.6h0M865.2 369.5h0M865.2 365.5h0M865.7 360.9h0M866.1 366.0h0M866.4 367.6h0M866.7 368.5h0M866.8 364.3h0M866.9 366.6h0M867.1 364.7h0M867.2 358.4h0M867.3 361.6h0M867.5 361.5h0M867.6 363.8h0M867.9 366.0h0M868.1 362.3h0M868.1 370.7h0M868.4 364.9h0M868.5 365.4h0M868.8 362.6h0M868.9 368.1h0M869.1 363.8h0M869.2 366.6h0M869.2 366.9h0M869.6 370.7h0M869.9 362.4h0M870.3 368.1h0M870.4 366.7h0M870.5 363.1h0M870.7 369.5h0M870.8 365.2h0M870.9 362.9h0M871.1 368.1h0M871.2 367.1h0M871.5 363.2h0M871.9 366.9h0M872.0 366.3h0M872.2 363.1h0M872.6 368.5h0M872.7 364.3h0M872.8 367.0h0M873.0 364.3h0M873.1 366.6h0M873.4 366.6h0M873.5 363.7h0M873.8 369.9h0M873.9 367.7h0M874.0 363.0h0M874.2 368.2h0M874.3 365.3h0M874.4 368.6h0M874.6 362.7h0M874.7 365.4h0M875.2 369.9h0M875.4 364.3h0M875.5 361.8h0M875.6 362.1h0M875.7 357.1h0M875.8 368.1h0M875.8 354.5h0M875.9 368.1h0M876.0 365.3h0M876.2 360.0h0M876.3 366.9h0M876.4 365.7h0M876.6 362.5h0M876.7 370.2h0M876.8 367.3h0M877.0 362.6h0M877.3 365.9h0M877.4 368.3h0M877.7 363.2h0M877.8 365.0h0M877.9 370.3h0M878.5 364.6h0M878.6 367.5h0M878.7 369.2h0M878.9 360.9h0M879.1 368.5h0M879.3 368.9h0M879.4 364.8h0M879.5 367.3h0M879.9 364.4h0M880.3 369.3h0M880.5 366.4h0M880.7 368.3h0M880.9 370.7h0M881.0 365.3h0M881.3 369.7h0M881.4 363.4h0M881.5 360.9h0M881.7 368.0h0M881.8 368.9h0M882.2 368.3h0M882.5 368.2h0M882.7 362.5h0M882.9 365.4h0M883.0 363.1h0M883.6 366.2h0M883.7 363.6h0M884.0 365.5h0M884.4 367.5h0M884.8 367.3h0M884.9 365.8h0M885.0 366.2h0M885.2 363.9h0M885.4 368.0h0M885.6 364.4h0M885.7 368.7h0M886.0 368.2h0M886.1 369.5h0M886.4 365.0h0M886.6 365.0h0M886.9 368.1h0M887.0 361.7h0M887.2 367.8h0M887.3 364.1h0M887.4 367.9h0M887.7 369.8h0M887.8 364.7h0M888.0 360.9h0M888.1 370.7h0M888.6 365.1h0M888.8 366.5h0M888.9 364.2h0M889.0 370.6h0M889.3 367.2h0M889.5 368.7h0M889.7 367.7h0M889.9 364.6h0M890.0 363.6h0M890.3 368.2h0M890.4 368.1h0M890.5 363.8h0M890.7 368.0h0M890.9 366.2h0M891.1 367.3h0M891.2 361.3h0M891.5 365.1h0M891.6 362.6h0M891.7 367.3h0M891.9 366.4h0M892.4 362.9h0M892.5 365.3h0M892.7 363.5h0M892.9 366.6h0M893.1 367.5h0M893.5 365.2h0M893.6 367.8h0M893.7 368.3h0M894.1 363.6h0M894.3 365.1h0M894.5 370.0h0M894.7 368.7h0M894.8 362.8h0M894.9 367.4h0M895.1 365.2h0M895.2 362.0h0M895.5 364.3h0M895.8 366.9h0M896.0 369.0h0M896.2 366.1h0M896.4 362.2h0M896.6 370.6h0M896.7 364.0h0M897.0 366.4h0M897.1 367.7h0M897.4 360.9h0M897.5 366.0h0M897.6 362.5h0M897.8 365.1h0M897.9 370.2h0M898.2 367.2h0M898.3 363.3h0M898.4 370.7h0M899.0 364.4h0M899.1 368.0h0M899.4 363.7h0M899.8 365.9h0M900.0 361.6h0M900.2 364.6h0M900.2 357.5h0M900.3 370.2h0M900.6 368.6h0M900.7 363.3h0M900.8 360.7h0M900.8 366.4h0M900.9 363.7h0M901.1 361.3h0M901.4 367.5h0M901.5 368.4h0M901.7 363.9h0M902.0 366.6h0M902.1 363.1h0M902.3 367.3h0M902.5 366.0h0M902.6 363.9h0M902.7 366.7h0M902.7 366.4h0M903.3 366.0h0M903.5 363.7h0M903.7 360.9h0M903.8 366.0h0M903.9 365.9h0M904.1 363.5h0M904.3 368.3h0M904.4 361.8h0M904.5 369.3h0M904.5 355.4h0M904.7 352.9h0M904.7 365.1h0M904.8 355.3h0M904.9 366.3h0M905.1 359.5h0M905.1 368.9h0M905.3 363.5h0M905.3 360.3h0M905.6 363.0h0M905.8 367.7h0M905.9 362.1h0M906.1 370.7h0M906.2 367.2h0M906.3 364.7h0M906.6 366.3h0M906.8 369.3h0M906.9 362.9h0M907.0 363.6h0M907.4 367.6h0M907.7 364.3h0M908.0 366.2h0M908.1 368.7h0M908.4 361.9h0M908.6 365.0h0M908.9 366.9h0M909.3 361.8h0M909.4 364.2h0M909.6 366.6h0M909.7 363.0h0M910.1 366.8h0M910.4 362.0h0M910.5 364.9h0M910.8 367.5h0M910.9 364.4h0M911.0 365.2h0M911.4 370.2h0M911.6 360.9h0M911.7 367.0h0M911.8 363.9h0M912.0 365.8h0M912.1 362.3h0M912.2 366.1h0M912.5 366.9h0M912.7 368.7h0M912.9 362.1h0M913.1 368.2h0M913.2 369.9h0M913.3 365.7h0M913.5 361.1h0M913.6 362.2h0M913.7 367.8h0M913.9 369.5h0M914.0 365.4h0M914.3 368.2h0M914.4 362.7h0M914.9 366.9h0M915.1 363.5h0M915.2 366.0h0M915.3 368.1h0M915.6 368.6h0M915.7 364.9h0M915.9 361.9h0M916.0 366.1h0M916.3 366.3h0M916.5 366.7h0M916.7 363.4h0M916.8 367.5h0M916.9 369.6h0M917.2 365.8h0M917.6 366.9h0M917.9 365.1h0M918.0 369.1h0M918.1 363.1h0M918.3 368.2h0M918.6 366.7h0M918.8 362.3h0M919.1 363.6h0M919.2 368.6h0M919.6 363.5h0M920.0 366.9h0M920.3 363.0h0M920.4 365.5h0M920.6 367.6h0M920.8 363.5h0M921.1 366.4h0M921.4 362.6h0M921.5 366.1h0M921.8 366.3h0M921.9 367.5h0M922.2 363.2h0M922.4 367.4h0M922.7 367.4h0M922.8 364.9h0M923.0 367.3h0M923.2 364.3h0M923.2 360.7h0M923.6 363.3h0M923.8 365.8h0M923.9 367.8h0M924.0 364.2h0M924.2 361.9h0M924.3 366.6h0M924.5 369.8h0M924.7 363.1h0M925.0 368.1h0M925.0 365.7h0M925.2 364.9h0M925.3 369.7h0M925.4 367.6h0M925.5 360.9h0M925.7 367.0h0M926.1 362.0h0M926.3 364.9h0M926.5 368.1h0M926.6 368.2h0M926.9 368.5h0M927.1 363.9h0M927.3 369.9h0M927.4 366.8h0M927.7 367.4h0M927.8 364.2h0M927.9 369.2h0M928.1 362.9h0M928.3 365.4h0M928.6 363.1h0M928.7 367.7h0M928.9 367.2h0M929.3 364.8h0M929.4 368.0h0M929.7 363.5h0M929.8 365.5h0M930.1 366.7h0M930.4 369.6h0M930.5 363.0h0M930.6 362.4h0M930.8 366.5h0M930.9 368.8h0M931.4 365.4h0M931.6 369.9h0M931.9 350.7h0M932.0 363.4h0M932.1 368.0h0M932.2 365.8h0M932.5 365.4h0M932.8 371.0h0M932.9 367.4h0M933.0 367.5h0M933.3 363.0h0M933.4 361.4h0M933.6 364.8h0M933.8 366.6h0M934.0 363.0h0M934.1 367.5h0M934.4 368.6h0M934.6 366.3h0M934.8 364.6h0M935.2 367.4h0M935.3 367.8h0M935.4 364.7h0M935.6 363.5h0M935.7 367.1h0M935.8 369.0h0M936.3 365.3h0M936.5 368.3h0M936.7 364.2h0M936.8 367.2h0M936.9 369.4h0M937.3 363.1h0M937.5 366.4h0M937.6 369.2h0M937.9 369.4h0M938.3 364.6h0M938.3 343.1h0M938.4 367.5h0M938.7 364.7h0M938.9 367.6h0M939.3 371.2h0M939.5 368.0h0M939.6 364.4h0M939.7 347.1h0M939.7 338.1h0M939.7 350.1h0M939.7 313.4h0M939.7 354.1h0M939.7 327.7h0M939.7 368.8h0M940.0 364.1h0M940.1 368.0h0M940.4 366.5h0M940.5 365.4h0M940.8 362.8h0M940.9 368.4h0M941.2 366.0h0M941.3 369.2h0M941.5 368.4h0M941.8 369.7h0M941.9 363.9h0M942.0 368.3h0M942.4 366.0h0M942.5 360.3h0M942.6 371.0h0M942.6 352.2h0M942.7 348.1h0M942.7 370.2h0M942.7 349.4h0M942.8 366.6h0M943.0 367.6h0M943.1 354.3h0M943.3 356.4h0M943.4 368.6h0M943.6 363.6h0M943.7 360.8h0M943.8 369.1h0M943.9 367.4h0M944.2 360.4h0M944.3 363.5h0M944.4 366.1h0M944.6 363.0h0M944.8 367.3h0M945.1 368.8h0M945.2 363.9h0M945.4 367.1h0M945.7 366.7h0M945.9 362.4h0M946.0 364.8h0M946.2 368.2h0M946.3 363.4h0M946.4 365.7h0M946.6 366.1h0M947.0 368.6h0M947.1 365.1h0M947.2 368.2h0M947.5 361.6h0M947.7 371.0h0M947.9 365.9h0M948.1 369.5h0M948.3 365.4h0M948.6 367.3h0M948.9 361.7h0M949.0 367.0h0M949.3 364.4h0M949.4 366.7h0M949.5 371.3h0M949.7 364.1h0M950.1 363.2h0M950.2 365.9h0M950.3 368.6h0M950.5 367.3h0M950.7 362.3h0M950.7 369.3h0M950.8 357.7h0M950.9 333.3h0M950.9 351.1h0M951.1 358.8h0M951.1 364.6h0M951.4 361.8h0M951.4 367.5h0M951.5 366.0h0M951.7 366.2h0M951.8 363.7h0M952.1 364.1h0M952.3 368.6h0M952.3 370.6h0M952.6 369.7h0M952.7 367.0h0M953.0 364.6h0M953.2 367.6h0M953.3 369.2h0M953.5 364.8h0M953.8 370.7h0M954.1 368.2h0M954.2 365.2h0M954.5 368.3h0M954.6 363.3h0M954.8 369.5h0M955.0 368.9h0M955.2 365.4h0M955.6 368.8h0M955.7 365.0h0M955.8 368.0h0M956.0 367.5h0M956.1 368.5h0M956.2 365.1h0M956.5 365.3h0M956.8 369.2h0M956.9 369.4h0M957.3 366.7h0M957.4 364.9h0M957.7 364.6h0M957.8 368.1h0M958.1 370.0h0M958.2 362.7h0"/>
</g>
<rect x="71.6" y="24.6" width="929.1999999999999" height="384.2" fill="none" stroke="#000" stroke-width="1.15"/>
<path d="M121.8 408.8v5M282.6 408.8v5M443.4 408.8v5M604.2 408.8v5M765.0 408.8v5M925.8 408.8v5M71.6 366.1h-5M71.6 280.7h-5M71.6 195.3h-5M71.6 110.0h-5M71.6 24.6h-5" stroke="#000" stroke-width="1.1" fill="none"/>
<g font-size="13.9px" fill="#000">
<text x="121.9" y="428.9" text-anchor="middle" letter-spacing="0.2">2610</text>
<text x="282.7" y="428.9" text-anchor="middle" letter-spacing="0.2">2615</text>
<text x="443.5" y="428.9" text-anchor="middle" letter-spacing="0.2">2620</text>
<text x="604.3" y="428.9" text-anchor="middle" letter-spacing="0.2">2625</text>
<text x="765.1" y="428.9" text-anchor="middle" letter-spacing="0.2">2630</text>
<text x="925.9" y="428.9" text-anchor="middle" letter-spacing="0.2">2635</text>
<text x="61.8" y="371.3" text-anchor="end">1.00</text>
<text x="61.8" y="285.9" text-anchor="end">1.02</text>
<text x="61.8" y="200.5" text-anchor="end">1.04</text>
<text x="61.8" y="115.2" text-anchor="end">1.06</text>
<text x="61.8" y="29.8" text-anchor="end">1.08</text>
</g>
<text x="535.8" y="16.2" font-size="22.2px" text-anchor="middle">Sector 48</text>
<text x="535.6" y="454.2" font-size="22.2px" text-anchor="middle">Time - 2457000 [BKJD days]</text>
<g transform="translate(20.2 284.3) rotate(-90)" font-size="22.2px"><text x="-2.2" y="0">Flux [e</text><text x="75.85" y="-8.8" font-size="15.54px">−</text><text x="92.3" y="0">s</text><text x="104.85" y="-8.8" font-size="15.54px">−</text><text x="117.8" y="-8.8" font-size="15.54px">1</text><text x="128.6" y="0">]</text></g>
<rect x="80.4" y="33.8" width="197.6" height="58.4" rx="2.8" fill="#fff" fill-opacity="0.88" stroke="#cfcfcf" stroke-width="1.25"/>
<circle cx="105.6" cy="47.9" r="3" fill="#f00"/><circle cx="105.6" cy="75.1" r="3" fill="#00f"/>
<text x="138.7" y="54.6" font-size="18.06px">PDCSAP_FLUX</text>
<text x="138.7" y="80.8" font-size="18.06px">detrended flux</text>
</svg>
</body></html>
